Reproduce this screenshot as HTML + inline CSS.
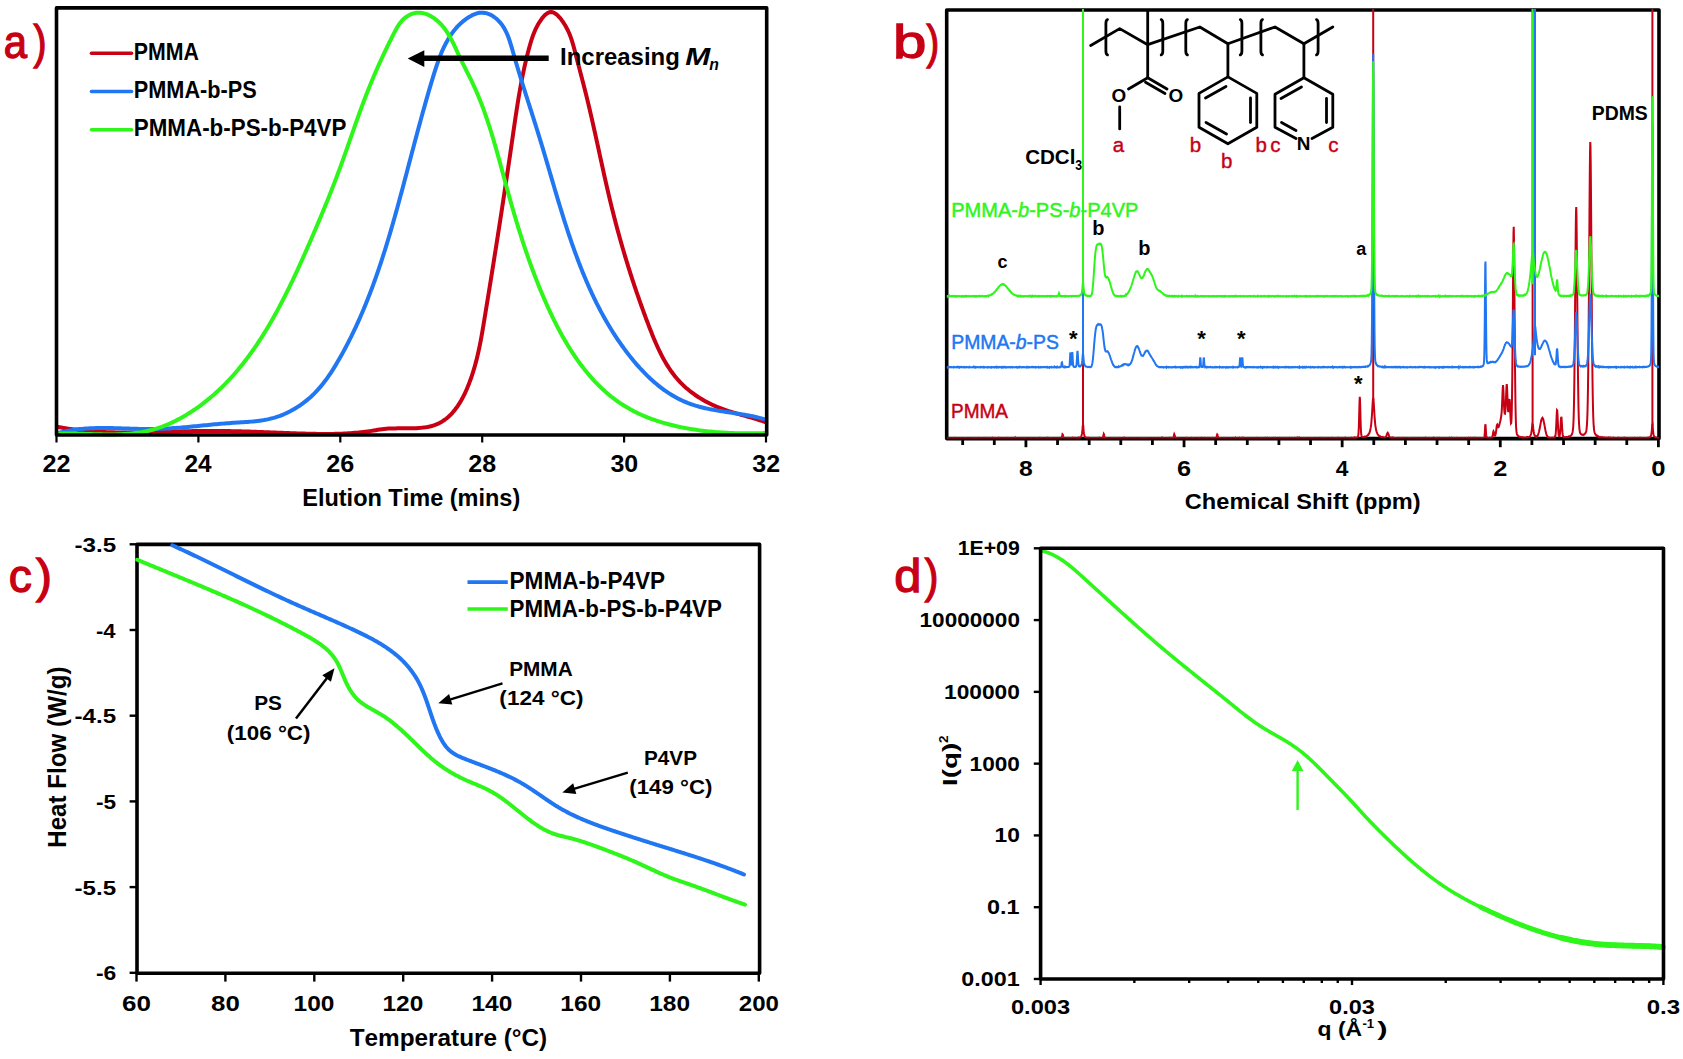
<!DOCTYPE html>
<html><head><meta charset="utf-8"><style>html,body{margin:0;padding:0;background:#fff;overflow:hidden}svg{display:block}text{font-kerning:none}</style></head>
<body><svg width="1683" height="1059" viewBox="0 0 1683 1059" font-family='"Liberation Sans", sans-serif'>
<rect width="1683" height="1059" fill="#fff"/>
<defs>
<clipPath id="cb"><rect x="946.7" y="10" width="712.3" height="428.5"/></clipPath>
</defs>
<path d="M57.02,426.78 L59.17,427.19 L61.33,427.57 L63.49,427.95 L65.65,428.30 L67.82,428.64 L69.98,428.95 L72.15,429.26 L74.32,429.54 L76.49,429.81 L78.66,430.07 L80.83,430.31 L83.01,430.53 L85.19,430.74 L87.36,430.94 L89.54,431.12 L91.72,431.29 L93.90,431.45 L96.09,431.60 L98.27,431.73 L100.46,431.85 L102.64,431.96 L104.83,432.06 L107.02,432.14 L109.20,432.22 L111.39,432.29 L113.58,432.34 L115.78,432.39 L117.97,432.43 L120.16,432.46 L122.35,432.48 L124.55,432.50 L126.74,432.50 L128.94,432.50 L131.13,432.50 L133.33,432.48 L135.52,432.47 L137.72,432.44 L139.92,432.41 L142.11,432.38 L144.31,432.34 L146.51,432.29 L148.70,432.25 L150.90,432.20 L153.10,432.14 L155.30,432.09 L157.49,432.03 L159.69,431.97 L161.89,431.91 L164.08,431.84 L166.28,431.78 L168.48,431.72 L170.67,431.65 L172.87,431.59 L175.06,431.52 L177.25,431.46 L179.45,431.40 L181.64,431.34 L183.83,431.28 L186.02,431.23 L188.21,431.17 L190.40,431.13 L192.59,431.08 L194.78,431.04 L196.97,431.00 L199.15,430.97 L201.34,430.94 L203.52,430.92 L205.71,430.90 L207.89,430.89 L210.07,430.89 L212.25,430.89 L214.43,430.90 L216.60,430.91 L218.78,430.93 L220.96,430.95 L223.13,430.98 L225.31,431.01 L227.48,431.05 L229.66,431.09 L231.83,431.13 L234.01,431.18 L236.18,431.23 L238.36,431.29 L240.54,431.35 L242.71,431.41 L244.89,431.47 L247.07,431.54 L249.24,431.61 L251.42,431.68 L253.60,431.76 L255.78,431.84 L257.96,431.91 L260.15,431.99 L262.33,432.08 L264.52,432.16 L266.70,432.24 L268.89,432.33 L271.08,432.41 L273.27,432.50 L275.47,432.58 L277.66,432.67 L279.86,432.75 L282.06,432.84 L284.27,432.92 L286.47,433.00 L288.68,433.09 L290.89,433.17 L293.10,433.25 L295.32,433.33 L297.53,433.40 L299.75,433.48 L301.97,433.55 L304.20,433.61 L306.42,433.68 L308.64,433.73 L310.87,433.79 L313.09,433.83 L315.31,433.87 L317.53,433.90 L319.75,433.93 L321.97,433.95 L324.18,433.95 L326.40,433.95 L328.61,433.94 L330.81,433.92 L333.02,433.89 L335.22,433.85 L337.41,433.79 L339.60,433.73 L341.78,433.65 L343.96,433.55 L346.13,433.44 L348.30,433.32 L350.46,433.19 L352.61,433.03 L354.76,432.86 L356.89,432.68 L359.02,432.48 L361.14,432.26 L363.25,432.02 L365.36,431.76 L367.45,431.48 L369.53,431.18 L371.60,430.87 L373.66,430.53 L375.72,430.18 L377.79,429.84 L379.87,429.52 L381.97,429.22 L384.11,428.97 L386.29,428.77 L388.50,428.62 L390.75,428.51 L393.02,428.43 L395.32,428.39 L397.64,428.37 L399.98,428.36 L402.32,428.36 L404.67,428.36 L407.03,428.36 L409.38,428.34 L411.72,428.31 L414.06,428.24 L416.37,428.15 L418.67,428.01 L420.94,427.83 L423.18,427.60 L425.39,427.30 L427.56,426.94 L429.69,426.50 L431.77,425.98 L433.80,425.37 L435.77,424.67 L437.68,423.87 L439.54,422.97 L441.34,421.98 L443.08,420.91 L444.76,419.74 L446.40,418.50 L447.98,417.17 L449.51,415.77 L450.99,414.30 L452.41,412.77 L453.80,411.17 L455.13,409.51 L456.42,407.80 L457.67,406.04 L458.87,404.22 L460.03,402.37 L461.15,400.47 L462.23,398.53 L463.27,396.56 L464.27,394.57 L465.24,392.54 L466.18,390.50 L467.08,388.43 L467.94,386.35 L468.78,384.26 L469.58,382.16 L470.36,380.06 L471.11,377.96 L471.83,375.85 L472.53,373.74 L473.20,371.63 L473.84,369.51 L474.47,367.39 L475.07,365.27 L475.65,363.15 L476.21,361.02 L476.75,358.89 L477.27,356.76 L477.77,354.62 L478.26,352.49 L478.73,350.35 L479.19,348.21 L479.64,346.07 L480.07,343.93 L480.49,341.79 L480.90,339.64 L481.29,337.49 L481.68,335.35 L482.07,333.20 L482.44,331.05 L482.81,328.90 L483.18,326.74 L483.54,324.59 L483.89,322.44 L484.25,320.29 L484.60,318.13 L484.95,315.98 L485.31,313.82 L485.66,311.67 L486.01,309.51 L486.36,307.36 L486.72,305.20 L487.07,303.05 L487.42,300.89 L487.77,298.73 L488.12,296.58 L488.47,294.42 L488.82,292.26 L489.17,290.11 L489.51,287.95 L489.86,285.79 L490.21,283.63 L490.56,281.47 L490.90,279.32 L491.25,277.16 L491.60,275.00 L491.94,272.84 L492.29,270.68 L492.63,268.52 L492.98,266.36 L493.32,264.20 L493.67,262.04 L494.01,259.88 L494.35,257.71 L494.69,255.55 L495.04,253.39 L495.38,251.23 L495.72,249.07 L496.06,246.91 L496.40,244.74 L496.74,242.58 L497.08,240.42 L497.42,238.25 L497.75,236.09 L498.09,233.93 L498.43,231.76 L498.77,229.60 L499.10,227.44 L499.44,225.27 L499.77,223.11 L500.11,220.94 L500.44,218.78 L500.78,216.61 L501.11,214.45 L501.44,212.28 L501.78,210.12 L502.11,207.95 L502.44,205.79 L502.77,203.62 L503.10,201.45 L503.43,199.29 L503.76,197.12 L504.09,194.95 L504.42,192.79 L504.74,190.62 L505.07,188.45 L505.40,186.29 L505.72,184.12 L506.05,181.95 L506.37,179.78 L506.70,177.62 L507.02,175.45 L507.34,173.28 L507.67,171.11 L507.99,168.94 L508.31,166.78 L508.63,164.61 L508.95,162.44 L509.27,160.27 L509.59,158.10 L509.91,155.93 L510.23,153.76 L510.54,151.60 L510.86,149.43 L511.18,147.26 L511.49,145.09 L511.81,142.92 L512.12,140.75 L512.44,138.58 L512.75,136.41 L513.06,134.24 L513.37,132.07 L513.69,129.90 L514.00,127.73 L514.32,125.56 L514.63,123.40 L514.95,121.23 L515.27,119.06 L515.59,116.89 L515.92,114.73 L516.25,112.56 L516.58,110.40 L516.91,108.24 L517.25,106.07 L517.59,103.91 L517.94,101.75 L518.29,99.60 L518.65,97.44 L519.01,95.28 L519.38,93.13 L519.76,90.98 L520.14,88.83 L520.53,86.68 L520.92,84.53 L521.32,82.38 L521.73,80.24 L522.15,78.10 L522.58,75.96 L523.01,73.82 L523.46,71.69 L523.91,69.56 L524.38,67.43 L524.85,65.30 L525.33,63.18 L525.83,61.06 L526.33,58.94 L526.85,56.82 L527.38,54.71 L527.92,52.60 L528.47,50.49 L529.04,48.39 L529.62,46.29 L530.21,44.19 L530.82,42.10 L531.47,40.01 L532.15,37.93 L532.87,35.85 L533.65,33.78 L534.49,31.71 L535.39,29.66 L536.37,27.61 L537.44,25.56 L538.60,23.53 L539.85,21.51 L541.22,19.51 L542.68,17.58 L544.22,15.81 L545.84,14.29 L547.52,13.09 L549.24,12.30 L551.00,12.01 L552.77,12.27 L554.55,13.04 L556.31,14.24 L558.03,15.78 L559.70,17.59 L561.28,19.57 L562.78,21.65 L564.16,23.75 L565.42,25.83 L566.58,27.91 L567.64,29.97 L568.60,32.02 L569.49,34.07 L570.30,36.11 L571.04,38.14 L571.73,40.17 L572.37,42.20 L572.98,44.23 L573.55,46.26 L574.09,48.30 L574.63,50.34 L575.16,52.39 L575.69,54.44 L576.22,56.51 L576.76,58.58 L577.31,60.66 L577.85,62.74 L578.40,64.84 L578.96,66.94 L579.51,69.04 L580.07,71.15 L580.62,73.27 L581.18,75.39 L581.73,77.51 L582.29,79.64 L582.84,81.77 L583.39,83.90 L583.94,86.04 L584.48,88.17 L585.02,90.31 L585.56,92.45 L586.09,94.59 L586.62,96.73 L587.14,98.87 L587.66,101.01 L588.17,103.15 L588.68,105.29 L589.19,107.44 L589.69,109.58 L590.19,111.72 L590.69,113.86 L591.18,116.00 L591.67,118.15 L592.16,120.29 L592.64,122.43 L593.13,124.58 L593.61,126.72 L594.08,128.86 L594.56,131.01 L595.03,133.15 L595.51,135.29 L595.98,137.43 L596.45,139.58 L596.92,141.72 L597.39,143.86 L597.85,146.00 L598.32,148.14 L598.79,150.29 L599.25,152.43 L599.72,154.57 L600.19,156.71 L600.65,158.85 L601.12,160.99 L601.59,163.12 L602.06,165.26 L602.53,167.40 L603.00,169.54 L603.47,171.67 L603.94,173.81 L604.42,175.94 L604.90,178.08 L605.38,180.21 L605.86,182.34 L606.34,184.48 L606.83,186.61 L607.32,188.74 L607.81,190.87 L608.31,193.00 L608.80,195.12 L609.31,197.25 L609.81,199.38 L610.32,201.50 L610.83,203.62 L611.35,205.75 L611.87,207.87 L612.40,209.99 L612.93,212.10 L613.46,214.22 L614.00,216.34 L614.55,218.45 L615.10,220.57 L615.65,222.68 L616.21,224.79 L616.77,226.90 L617.33,229.01 L617.90,231.12 L618.48,233.23 L619.06,235.33 L619.64,237.44 L620.23,239.54 L620.83,241.65 L621.43,243.75 L622.03,245.85 L622.64,247.95 L623.25,250.05 L623.86,252.14 L624.49,254.24 L625.11,256.33 L625.74,258.43 L626.38,260.52 L627.02,262.61 L627.66,264.70 L628.31,266.79 L628.97,268.88 L629.63,270.97 L630.29,273.06 L630.96,275.14 L631.63,277.22 L632.31,279.31 L632.99,281.39 L633.68,283.47 L634.37,285.55 L635.07,287.63 L635.77,289.71 L636.48,291.78 L637.19,293.86 L637.91,295.94 L638.63,298.01 L639.35,300.08 L640.08,302.15 L640.82,304.22 L641.56,306.29 L642.31,308.36 L643.06,310.43 L643.81,312.50 L644.57,314.56 L645.34,316.63 L646.11,318.69 L646.88,320.75 L647.66,322.81 L648.45,324.88 L649.24,326.93 L650.04,328.99 L650.84,331.05 L651.65,333.10 L652.47,335.15 L653.30,337.19 L654.15,339.22 L655.01,341.25 L655.88,343.27 L656.77,345.27 L657.67,347.27 L658.60,349.26 L659.54,351.23 L660.51,353.19 L661.50,355.13 L662.51,357.06 L663.54,358.97 L664.60,360.86 L665.69,362.74 L666.81,364.59 L667.96,366.42 L669.14,368.24 L670.35,370.02 L671.59,371.79 L672.87,373.53 L674.19,375.24 L675.54,376.93 L676.93,378.59 L678.36,380.22 L679.84,381.82 L681.35,383.38 L682.91,384.92 L684.51,386.43 L686.15,387.90 L687.83,389.33 L689.54,390.74 L691.29,392.11 L693.07,393.44 L694.88,394.74 L696.72,396.00 L698.58,397.23 L700.47,398.42 L702.39,399.58 L704.32,400.69 L706.28,401.77 L708.25,402.81 L710.23,403.81 L712.23,404.77 L714.25,405.69 L716.27,406.57 L718.30,407.41 L720.34,408.21 L722.38,408.97 L724.43,409.70 L726.48,410.40 L728.54,411.07 L730.60,411.72 L732.67,412.34 L734.74,412.95 L736.82,413.55 L738.90,414.13 L740.98,414.72 L743.07,415.29 L745.16,415.87 L747.25,416.46 L749.34,417.05 L751.44,417.65 L753.53,418.27 L755.63,418.91 L757.73,419.56 L759.83,420.25 L761.92,420.96 L764.02,421.71 L766.12,422.49" fill="none" stroke="#C80014" stroke-width="4.0" stroke-linejoin="round" stroke-linecap="round"/>
<path d="M57.43,433.30 L59.44,432.75 L61.45,432.24 L63.46,431.76 L65.48,431.32 L67.50,430.91 L69.51,430.54 L71.54,430.19 L73.56,429.88 L75.59,429.59 L77.61,429.33 L79.64,429.10 L81.67,428.89 L83.71,428.71 L85.74,428.55 L87.78,428.42 L89.82,428.30 L91.85,428.20 L93.90,428.13 L95.94,428.07 L97.98,428.02 L100.02,428.00 L102.07,427.98 L104.11,427.98 L106.16,428.00 L108.21,428.02 L110.26,428.05 L112.31,428.09 L114.35,428.14 L116.40,428.20 L118.45,428.26 L120.50,428.32 L122.56,428.39 L124.61,428.46 L126.66,428.53 L128.71,428.60 L130.76,428.67 L132.81,428.73 L134.86,428.80 L136.91,428.86 L138.96,428.91 L141.01,428.95 L143.06,428.99 L145.11,429.02 L147.15,429.03 L149.20,429.04 L151.25,429.03 L153.29,429.01 L155.34,428.98 L157.38,428.93 L159.42,428.87 L161.46,428.79 L163.50,428.70 L165.54,428.61 L167.58,428.50 L169.62,428.38 L171.66,428.25 L173.70,428.11 L175.73,427.96 L177.77,427.80 L179.81,427.64 L181.85,427.47 L183.88,427.30 L185.92,427.12 L187.96,426.93 L189.99,426.74 L192.03,426.55 L194.07,426.35 L196.11,426.15 L198.15,425.95 L200.19,425.75 L202.23,425.55 L204.27,425.35 L206.31,425.15 L208.35,424.95 L210.39,424.75 L212.43,424.55 L214.48,424.36 L216.52,424.17 L218.57,423.98 L220.62,423.80 L222.67,423.63 L224.72,423.46 L226.77,423.30 L228.82,423.14 L230.88,423.00 L232.93,422.86 L234.99,422.73 L237.05,422.60 L239.11,422.48 L241.16,422.36 L243.22,422.23 L245.28,422.10 L247.33,421.95 L249.38,421.80 L251.42,421.62 L253.47,421.44 L255.50,421.22 L257.53,420.99 L259.56,420.73 L261.58,420.44 L263.59,420.11 L265.59,419.75 L267.59,419.36 L269.57,418.92 L271.55,418.43 L273.51,417.90 L275.46,417.32 L277.41,416.69 L279.33,416.02 L281.25,415.30 L283.15,414.54 L285.03,413.73 L286.89,412.88 L288.74,411.98 L290.57,411.05 L292.38,410.07 L294.17,409.06 L295.94,408.00 L297.68,406.91 L299.41,405.78 L301.10,404.62 L302.78,403.42 L304.42,402.19 L306.04,400.92 L307.63,399.62 L309.19,398.29 L310.73,396.93 L312.23,395.54 L313.70,394.12 L315.14,392.67 L316.54,391.19 L317.92,389.69 L319.27,388.17 L320.60,386.62 L321.90,385.05 L323.17,383.46 L324.42,381.84 L325.64,380.21 L326.85,378.56 L328.03,376.90 L329.20,375.22 L330.34,373.52 L331.47,371.81 L332.58,370.08 L333.67,368.35 L334.75,366.60 L335.81,364.85 L336.86,363.09 L337.91,361.32 L338.93,359.54 L339.95,357.76 L340.96,355.98 L341.96,354.18 L342.96,352.39 L343.94,350.59 L344.91,348.78 L345.87,346.97 L346.82,345.16 L347.77,343.34 L348.70,341.52 L349.63,339.69 L350.55,337.86 L351.46,336.02 L352.36,334.18 L353.25,332.34 L354.14,330.49 L355.01,328.64 L355.88,326.78 L356.74,324.92 L357.59,323.06 L358.43,321.19 L359.27,319.32 L360.10,317.44 L360.92,315.57 L361.73,313.68 L362.53,311.80 L363.33,309.91 L364.12,308.02 L364.90,306.12 L365.68,304.23 L366.45,302.32 L367.21,300.42 L367.97,298.51 L368.72,296.60 L369.46,294.69 L370.20,292.77 L370.93,290.85 L371.65,288.93 L372.37,287.01 L373.08,285.08 L373.78,283.15 L374.48,281.22 L375.17,279.29 L375.86,277.35 L376.54,275.42 L377.22,273.48 L377.89,271.53 L378.55,269.59 L379.21,267.64 L379.87,265.70 L380.52,263.75 L381.16,261.79 L381.80,259.84 L382.44,257.89 L383.07,255.93 L383.69,253.97 L384.32,252.01 L384.93,250.05 L385.55,248.09 L386.15,246.13 L386.76,244.16 L387.36,242.20 L387.95,240.23 L388.55,238.26 L389.14,236.29 L389.72,234.32 L390.30,232.35 L390.88,230.38 L391.45,228.41 L392.03,226.44 L392.59,224.46 L393.16,222.49 L393.72,220.52 L394.28,218.54 L394.84,216.57 L395.39,214.59 L395.94,212.62 L396.49,210.64 L397.04,208.67 L397.58,206.69 L398.12,204.72 L398.66,202.75 L399.20,200.77 L399.73,198.80 L400.27,196.82 L400.80,194.85 L401.33,192.88 L401.86,190.90 L402.38,188.93 L402.91,186.96 L403.43,184.99 L403.96,183.02 L404.48,181.05 L405.00,179.08 L405.52,177.12 L406.04,175.15 L406.56,173.19 L407.08,171.22 L407.59,169.26 L408.11,167.30 L408.63,165.33 L409.14,163.37 L409.66,161.41 L410.18,159.45 L410.69,157.49 L411.21,155.53 L411.73,153.57 L412.24,151.61 L412.76,149.65 L413.28,147.69 L413.80,145.73 L414.32,143.77 L414.84,141.81 L415.36,139.85 L415.89,137.88 L416.41,135.92 L416.94,133.96 L417.46,131.99 L417.99,130.03 L418.52,128.06 L419.06,126.10 L419.59,124.13 L420.13,122.16 L420.66,120.19 L421.20,118.22 L421.75,116.24 L422.29,114.27 L422.84,112.29 L423.39,110.32 L423.94,108.34 L424.50,106.36 L425.06,104.37 L425.62,102.39 L426.18,100.40 L426.75,98.41 L427.32,96.42 L427.89,94.43 L428.47,92.43 L429.05,90.43 L429.64,88.43 L430.23,86.43 L430.82,84.42 L431.42,82.41 L432.02,80.40 L432.62,78.39 L433.23,76.37 L433.85,74.35 L434.48,72.33 L435.11,70.32 L435.76,68.31 L436.42,66.30 L437.09,64.31 L437.78,62.32 L438.49,60.34 L439.21,58.37 L439.96,56.41 L440.73,54.47 L441.52,52.55 L442.34,50.64 L443.19,48.76 L444.06,46.89 L444.97,45.05 L445.91,43.23 L446.88,41.43 L447.88,39.67 L448.93,37.93 L450.01,36.22 L451.13,34.54 L452.29,32.90 L453.50,31.29 L454.75,29.72 L456.04,28.18 L457.39,26.69 L458.78,25.24 L460.22,23.82 L461.72,22.46 L463.27,21.13 L464.88,19.86 L466.54,18.63 L468.26,17.47 L470.03,16.38 L471.84,15.39 L473.68,14.52 L475.55,13.79 L477.44,13.21 L479.35,12.82 L481.26,12.63 L483.17,12.66 L485.07,12.91 L486.96,13.37 L488.82,14.02 L490.64,14.85 L492.41,15.84 L494.13,16.97 L495.78,18.22 L497.35,19.59 L498.83,21.06 L500.22,22.60 L501.51,24.21 L502.70,25.89 L503.81,27.62 L504.84,29.41 L505.80,31.25 L506.69,33.13 L507.52,35.05 L508.30,37.00 L509.03,38.99 L509.71,41.00 L510.37,43.03 L511.00,45.07 L511.60,47.12 L512.20,49.18 L512.78,51.24 L513.36,53.30 L513.95,55.34 L514.53,57.38 L515.12,59.42 L515.72,61.44 L516.31,63.46 L516.91,65.47 L517.51,67.48 L518.11,69.48 L518.71,71.47 L519.31,73.46 L519.92,75.44 L520.53,77.42 L521.13,79.39 L521.74,81.36 L522.36,83.32 L522.97,85.28 L523.58,87.24 L524.19,89.19 L524.81,91.14 L525.42,93.09 L526.04,95.03 L526.65,96.97 L527.27,98.90 L527.89,100.84 L528.50,102.77 L529.12,104.70 L529.73,106.63 L530.35,108.56 L530.96,110.48 L531.58,112.41 L532.19,114.34 L532.80,116.26 L533.42,118.19 L534.03,120.11 L534.64,122.04 L535.24,123.96 L535.85,125.89 L536.46,127.82 L537.06,129.74 L537.66,131.67 L538.26,133.61 L538.86,135.54 L539.46,137.48 L540.05,139.42 L540.65,141.36 L541.24,143.30 L541.82,145.25 L542.41,147.20 L543.00,149.15 L543.58,151.10 L544.16,153.06 L544.74,155.01 L545.32,156.97 L545.90,158.93 L546.48,160.90 L547.06,162.86 L547.64,164.82 L548.21,166.79 L548.79,168.76 L549.37,170.73 L549.94,172.70 L550.52,174.67 L551.10,176.64 L551.68,178.61 L552.25,180.59 L552.83,182.56 L553.41,184.54 L554.00,186.51 L554.58,188.49 L555.16,190.46 L555.75,192.44 L556.33,194.41 L556.92,196.39 L557.51,198.36 L558.11,200.34 L558.70,202.32 L559.30,204.29 L559.90,206.26 L560.50,208.24 L561.11,210.21 L561.72,212.18 L562.33,214.15 L562.94,216.12 L563.56,218.09 L564.18,220.06 L564.80,222.03 L565.43,223.99 L566.07,225.96 L566.70,227.92 L567.34,229.88 L567.99,231.84 L568.64,233.80 L569.29,235.75 L569.95,237.71 L570.61,239.66 L571.28,241.61 L571.95,243.55 L572.63,245.50 L573.32,247.44 L574.01,249.38 L574.70,251.31 L575.40,253.25 L576.11,255.18 L576.83,257.11 L577.55,259.03 L578.27,260.95 L579.00,262.87 L579.74,264.79 L580.49,266.70 L581.24,268.61 L582.00,270.51 L582.77,272.42 L583.55,274.31 L584.33,276.21 L585.12,278.10 L585.92,279.98 L586.72,281.86 L587.54,283.74 L588.36,285.61 L589.19,287.48 L590.03,289.35 L590.88,291.20 L591.73,293.06 L592.60,294.91 L593.47,296.75 L594.36,298.59 L595.25,300.43 L596.15,302.26 L597.07,304.08 L597.99,305.90 L598.92,307.71 L599.86,309.52 L600.81,311.32 L601.78,313.12 L602.75,314.91 L603.73,316.69 L604.73,318.47 L605.73,320.25 L606.75,322.01 L607.78,323.77 L608.82,325.53 L609.87,327.27 L610.93,329.01 L612.00,330.75 L613.09,332.47 L614.18,334.19 L615.29,335.91 L616.42,337.61 L617.55,339.31 L618.70,341.00 L619.86,342.69 L621.03,344.36 L622.22,346.03 L623.42,347.70 L624.63,349.35 L625.85,351.00 L627.09,352.63 L628.35,354.26 L629.61,355.89 L630.89,357.50 L632.19,359.10 L633.50,360.69 L634.82,362.27 L636.16,363.84 L637.51,365.40 L638.88,366.94 L640.26,368.47 L641.66,369.98 L643.07,371.47 L644.50,372.95 L645.95,374.41 L647.41,375.85 L648.89,377.27 L650.38,378.68 L651.89,380.06 L653.41,381.42 L654.96,382.76 L656.52,384.07 L658.09,385.36 L659.68,386.63 L661.29,387.87 L662.92,389.08 L664.57,390.27 L666.23,391.43 L667.91,392.56 L669.61,393.66 L671.33,394.73 L673.06,395.77 L674.82,396.78 L676.59,397.76 L678.38,398.70 L680.19,399.61 L682.02,400.48 L683.87,401.32 L685.73,402.12 L687.62,402.89 L689.53,403.61 L691.45,404.30 L693.40,404.96 L695.36,405.57 L697.34,406.16 L699.33,406.72 L701.34,407.24 L703.36,407.74 L705.39,408.21 L707.43,408.66 L709.49,409.09 L711.54,409.50 L713.61,409.89 L715.68,410.26 L717.76,410.62 L719.84,410.97 L721.93,411.30 L724.01,411.63 L726.10,411.95 L728.18,412.27 L730.26,412.58 L732.34,412.89 L734.41,413.20 L736.48,413.51 L738.54,413.83 L740.60,414.15 L742.64,414.48 L744.68,414.82 L746.70,415.17 L748.72,415.54 L750.71,415.92 L752.70,416.31 L754.67,416.73 L756.62,417.16 L758.55,417.62 L760.46,418.10 L762.36,418.61 L764.23,419.14 L766.08,419.71" fill="none" stroke="#2176F2" stroke-width="4.0" stroke-linejoin="round" stroke-linecap="round"/>
<path d="M57.00,433.68 L58.99,433.62 L60.98,433.57 L62.98,433.54 L64.98,433.53 L66.98,433.53 L68.99,433.54 L71.01,433.56 L73.02,433.59 L75.04,433.62 L77.06,433.67 L79.08,433.72 L81.11,433.78 L83.13,433.84 L85.16,433.90 L87.19,433.97 L89.22,434.03 L91.26,434.10 L93.29,434.16 L95.32,434.22 L97.35,434.28 L99.39,434.33 L101.42,434.37 L103.45,434.41 L105.49,434.44 L107.52,434.46 L109.55,434.46 L111.57,434.46 L113.60,434.44 L115.62,434.41 L117.65,434.36 L119.67,434.29 L121.68,434.21 L123.70,434.11 L125.71,433.99 L127.71,433.84 L129.72,433.68 L131.72,433.49 L133.71,433.27 L135.70,433.03 L137.69,432.76 L139.67,432.47 L141.65,432.14 L143.62,431.79 L145.58,431.40 L147.54,430.98 L149.49,430.52 L151.44,430.03 L153.38,429.51 L155.31,428.94 L157.24,428.34 L159.16,427.71 L161.07,427.04 L162.97,426.34 L164.86,425.61 L166.74,424.84 L168.62,424.05 L170.48,423.23 L172.34,422.37 L174.18,421.49 L176.01,420.59 L177.83,419.65 L179.64,418.70 L181.43,417.71 L183.22,416.71 L184.99,415.68 L186.74,414.64 L188.48,413.57 L190.21,412.48 L191.92,411.38 L193.62,410.25 L195.31,409.11 L196.97,407.96 L198.63,406.79 L200.26,405.60 L201.89,404.39 L203.50,403.17 L205.09,401.93 L206.67,400.68 L208.24,399.42 L209.79,398.13 L211.33,396.84 L212.85,395.53 L214.36,394.20 L215.86,392.86 L217.34,391.51 L218.81,390.14 L220.27,388.76 L221.71,387.37 L223.14,385.96 L224.56,384.54 L225.97,383.11 L227.36,381.66 L228.74,380.21 L230.11,378.74 L231.46,377.26 L232.81,375.76 L234.14,374.26 L235.46,372.75 L236.77,371.22 L238.07,369.69 L239.35,368.14 L240.62,366.58 L241.89,365.02 L243.14,363.44 L244.38,361.85 L245.61,360.26 L246.83,358.65 L248.04,357.04 L249.24,355.42 L250.42,353.79 L251.60,352.15 L252.77,350.50 L253.93,348.85 L255.07,347.18 L256.21,345.51 L257.34,343.84 L258.46,342.15 L259.57,340.46 L260.67,338.77 L261.76,337.06 L262.84,335.35 L263.92,333.64 L264.98,331.91 L266.04,330.19 L267.09,328.46 L268.13,326.72 L269.16,324.98 L270.18,323.23 L271.20,321.48 L272.20,319.72 L273.20,317.96 L274.20,316.20 L275.18,314.43 L276.16,312.66 L277.13,310.89 L278.09,309.11 L279.05,307.33 L280.00,305.54 L280.94,303.76 L281.88,301.96 L282.81,300.17 L283.73,298.37 L284.65,296.57 L285.56,294.77 L286.47,292.96 L287.37,291.15 L288.26,289.34 L289.16,287.53 L290.04,285.71 L290.92,283.89 L291.80,282.07 L292.67,280.25 L293.53,278.42 L294.39,276.60 L295.25,274.77 L296.10,272.94 L296.95,271.10 L297.80,269.27 L298.64,267.43 L299.48,265.60 L300.31,263.76 L301.15,261.92 L301.97,260.08 L302.80,258.23 L303.62,256.39 L304.44,254.54 L305.26,252.70 L306.07,250.85 L306.88,249.01 L307.69,247.16 L308.50,245.31 L309.31,243.46 L310.11,241.61 L310.92,239.76 L311.72,237.91 L312.52,236.06 L313.32,234.21 L314.11,232.36 L314.91,230.51 L315.70,228.66 L316.49,226.80 L317.28,224.95 L318.06,223.10 L318.85,221.24 L319.63,219.38 L320.41,217.53 L321.18,215.67 L321.96,213.81 L322.73,211.95 L323.50,210.09 L324.27,208.23 L325.03,206.36 L325.79,204.50 L326.55,202.63 L327.31,200.77 L328.06,198.90 L328.81,197.03 L329.56,195.16 L330.31,193.28 L331.05,191.41 L331.79,189.53 L332.52,187.65 L333.25,185.77 L333.98,183.89 L334.71,182.01 L335.43,180.12 L336.15,178.24 L336.87,176.35 L337.58,174.46 L338.29,172.56 L339.00,170.67 L339.70,168.77 L340.40,166.87 L341.09,164.97 L341.78,163.07 L342.47,161.16 L343.16,159.26 L343.84,157.35 L344.52,155.44 L345.20,153.53 L345.87,151.62 L346.55,149.70 L347.22,147.79 L347.89,145.87 L348.56,143.96 L349.23,142.05 L349.90,140.13 L350.57,138.22 L351.24,136.30 L351.90,134.39 L352.57,132.47 L353.24,130.56 L353.91,128.65 L354.58,126.74 L355.25,124.83 L355.93,122.92 L356.60,121.02 L357.28,119.11 L357.96,117.21 L358.64,115.31 L359.32,113.41 L360.01,111.51 L360.70,109.62 L361.40,107.73 L362.09,105.84 L362.79,103.96 L363.50,102.08 L364.21,100.20 L364.92,98.32 L365.64,96.45 L366.36,94.59 L367.09,92.72 L367.83,90.86 L368.57,89.01 L369.31,87.16 L370.06,85.31 L370.82,83.46 L371.58,81.61 L372.35,79.77 L373.12,77.93 L373.90,76.09 L374.68,74.25 L375.48,72.42 L376.27,70.58 L377.08,68.75 L377.89,66.91 L378.71,65.08 L379.53,63.25 L380.37,61.41 L381.20,59.58 L382.05,57.74 L382.90,55.90 L383.76,54.06 L384.63,52.22 L385.51,50.38 L386.39,48.54 L387.28,46.69 L388.18,44.84 L389.08,42.99 L390.00,41.14 L390.92,39.28 L391.85,37.42 L392.79,35.55 L393.74,33.69 L394.70,31.82 L395.68,29.97 L396.70,28.15 L397.77,26.37 L398.88,24.64 L400.07,22.98 L401.33,21.41 L402.67,19.93 L404.12,18.56 L405.65,17.31 L407.28,16.19 L408.97,15.20 L410.73,14.37 L412.55,13.68 L414.40,13.17 L416.29,12.83 L418.20,12.68 L420.12,12.71 L422.04,12.94 L423.96,13.35 L425.86,13.93 L427.74,14.65 L429.59,15.52 L431.41,16.52 L433.18,17.63 L434.90,18.84 L436.56,20.14 L438.15,21.51 L439.67,22.95 L441.12,24.44 L442.49,25.99 L443.80,27.58 L445.04,29.22 L446.23,30.90 L447.37,32.61 L448.46,34.36 L449.51,36.14 L450.52,37.94 L451.49,39.77 L452.44,41.61 L453.36,43.47 L454.26,45.34 L455.14,47.21 L456.01,49.09 L456.88,50.97 L457.74,52.84 L458.60,54.70 L459.48,56.56 L460.36,58.40 L461.24,60.23 L462.13,62.05 L463.03,63.85 L463.92,65.66 L464.82,67.45 L465.72,69.24 L466.62,71.03 L467.52,72.81 L468.41,74.59 L469.30,76.38 L470.18,78.16 L471.06,79.95 L471.92,81.74 L472.78,83.53 L473.63,85.33 L474.46,87.14 L475.28,88.96 L476.09,90.78 L476.88,92.61 L477.67,94.45 L478.44,96.29 L479.20,98.15 L479.95,100.01 L480.69,101.87 L481.42,103.74 L482.14,105.62 L482.85,107.51 L483.54,109.40 L484.23,111.29 L484.91,113.19 L485.58,115.10 L486.25,117.01 L486.90,118.92 L487.55,120.84 L488.19,122.77 L488.82,124.70 L489.44,126.63 L490.06,128.56 L490.67,130.50 L491.27,132.44 L491.87,134.39 L492.46,136.34 L493.04,138.29 L493.62,140.24 L494.20,142.20 L494.77,144.15 L495.34,146.11 L495.90,148.07 L496.46,150.04 L497.01,152.00 L497.56,153.97 L498.11,155.93 L498.65,157.90 L499.19,159.86 L499.73,161.83 L500.27,163.80 L500.81,165.76 L501.34,167.73 L501.88,169.70 L502.41,171.66 L502.94,173.62 L503.47,175.59 L504.00,177.55 L504.53,179.51 L505.07,181.47 L505.60,183.42 L506.13,185.37 L506.67,187.33 L507.20,189.27 L507.74,191.22 L508.28,193.16 L508.82,195.11 L509.36,197.05 L509.91,198.98 L510.45,200.92 L511.00,202.85 L511.55,204.78 L512.11,206.71 L512.66,208.64 L513.22,210.56 L513.78,212.49 L514.34,214.41 L514.91,216.33 L515.48,218.24 L516.05,220.16 L516.63,222.07 L517.21,223.99 L517.79,225.90 L518.38,227.81 L518.97,229.71 L519.57,231.62 L520.17,233.52 L520.77,235.43 L521.38,237.33 L521.99,239.23 L522.60,241.13 L523.22,243.02 L523.85,244.92 L524.48,246.81 L525.11,248.71 L525.75,250.60 L526.40,252.49 L527.05,254.38 L527.70,256.27 L528.36,258.16 L529.03,260.05 L529.70,261.93 L530.38,263.82 L531.06,265.70 L531.75,267.59 L532.45,269.47 L533.15,271.35 L533.86,273.23 L534.57,275.11 L535.30,276.99 L536.02,278.87 L536.76,280.75 L537.50,282.63 L538.25,284.51 L539.01,286.39 L539.77,288.26 L540.54,290.14 L541.32,292.02 L542.11,293.89 L542.90,295.77 L543.70,297.64 L544.51,299.52 L545.33,301.39 L546.16,303.27 L546.99,305.14 L547.84,307.01 L548.69,308.88 L549.55,310.74 L550.42,312.61 L551.30,314.47 L552.19,316.32 L553.08,318.18 L553.99,320.02 L554.91,321.87 L555.84,323.71 L556.77,325.54 L557.72,327.37 L558.68,329.19 L559.65,331.01 L560.62,332.81 L561.61,334.62 L562.61,336.41 L563.63,338.20 L564.65,339.98 L565.68,341.75 L566.73,343.51 L567.79,345.26 L568.85,347.01 L569.94,348.74 L571.03,350.46 L572.13,352.17 L573.25,353.88 L574.38,355.57 L575.53,357.25 L576.68,358.91 L577.85,360.57 L579.03,362.21 L580.23,363.84 L581.44,365.46 L582.66,367.06 L583.89,368.65 L585.14,370.22 L586.41,371.78 L587.69,373.33 L588.98,374.86 L590.29,376.37 L591.61,377.87 L592.94,379.35 L594.29,380.81 L595.66,382.26 L597.04,383.69 L598.44,385.10 L599.85,386.50 L601.28,387.87 L602.72,389.23 L604.18,390.57 L605.66,391.88 L607.15,393.18 L608.66,394.46 L610.18,395.72 L611.72,396.95 L613.28,398.17 L614.86,399.36 L616.45,400.53 L618.06,401.68 L619.68,402.81 L621.33,403.91 L622.99,404.99 L624.67,406.04 L626.37,407.08 L628.08,408.08 L629.82,409.07 L631.57,410.03 L633.34,410.96 L635.12,411.87 L636.92,412.76 L638.74,413.62 L640.57,414.47 L642.42,415.29 L644.28,416.08 L646.15,416.86 L648.04,417.61 L649.94,418.34 L651.85,419.05 L653.78,419.74 L655.71,420.41 L657.66,421.06 L659.61,421.69 L661.58,422.30 L663.56,422.88 L665.54,423.45 L667.54,424.00 L669.54,424.54 L671.55,425.05 L673.57,425.54 L675.59,426.02 L677.62,426.48 L679.66,426.92 L681.70,427.34 L683.74,427.75 L685.79,428.14 L687.85,428.51 L689.90,428.87 L691.96,429.21 L694.03,429.54 L696.09,429.85 L698.16,430.14 L700.23,430.42 L702.30,430.69 L704.36,430.94 L706.43,431.18 L708.50,431.40 L710.57,431.61 L712.63,431.81 L714.69,431.99 L716.75,432.16 L718.81,432.32 L720.86,432.46 L722.91,432.60 L724.96,432.72 L727.00,432.83 L729.03,432.93 L731.06,433.02 L733.08,433.10 L735.10,433.17 L737.10,433.22 L739.10,433.27 L741.10,433.31 L743.08,433.34 L745.05,433.36 L747.02,433.37 L748.97,433.37 L750.92,433.37 L752.85,433.35 L754.77,433.33 L756.68,433.30 L758.57,433.27 L760.46,433.22 L762.33,433.17 L764.19,433.12 L766.03,433.06" fill="none" stroke="#2EF51A" stroke-width="4.0" stroke-linejoin="round" stroke-linecap="round"/>
<rect x="56.5" y="7.9" width="710.2" height="427.1" fill="none" stroke="#000" stroke-width="3.6" stroke-linejoin="round"/>
<line x1="56.50" y1="435.00" x2="56.50" y2="442.50" stroke="#000" stroke-width="2.2" stroke-linecap="butt"/>
<text x="42.52" y="472.40" font-size="23.84" font-weight="bold" textLength="28.09" lengthAdjust="spacingAndGlyphs">22</text>
<line x1="198.40" y1="435.00" x2="198.40" y2="442.50" stroke="#000" stroke-width="2.2" stroke-linecap="butt"/>
<text x="184.45" y="472.40" font-size="23.84" font-weight="bold" textLength="27.18" lengthAdjust="spacingAndGlyphs">24</text>
<line x1="340.30" y1="435.00" x2="340.30" y2="442.50" stroke="#000" stroke-width="2.2" stroke-linecap="butt"/>
<text x="326.33" y="472.40" font-size="23.84" font-weight="bold" textLength="27.98" lengthAdjust="spacingAndGlyphs">26</text>
<line x1="482.20" y1="435.00" x2="482.20" y2="442.50" stroke="#000" stroke-width="2.2" stroke-linecap="butt"/>
<text x="468.23" y="472.40" font-size="23.84" font-weight="bold" textLength="27.84" lengthAdjust="spacingAndGlyphs">28</text>
<line x1="624.10" y1="435.00" x2="624.10" y2="442.50" stroke="#000" stroke-width="2.2" stroke-linecap="butt"/>
<text x="610.43" y="472.40" font-size="23.84" font-weight="bold" textLength="27.80" lengthAdjust="spacingAndGlyphs">30</text>
<line x1="766.00" y1="435.00" x2="766.00" y2="442.50" stroke="#000" stroke-width="2.2" stroke-linecap="butt"/>
<text x="752.33" y="472.40" font-size="23.84" font-weight="bold" textLength="27.77" lengthAdjust="spacingAndGlyphs">32</text>
<text x="302.23" y="505.70" font-size="23.98" font-weight="bold" textLength="218.04" lengthAdjust="spacingAndGlyphs">Elution Time (mins)</text>
<line x1="91.50" y1="53.20" x2="131.50" y2="53.20" stroke="#C80014" stroke-width="3.6" stroke-linecap="round"/>
<line x1="91.50" y1="91.50" x2="131.50" y2="91.50" stroke="#2176F2" stroke-width="3.6" stroke-linecap="round"/>
<line x1="91.50" y1="129.70" x2="131.50" y2="129.70" stroke="#2EF51A" stroke-width="3.6" stroke-linecap="round"/>
<text x="133.87" y="59.90" font-size="24.13" font-weight="bold" textLength="65.09" lengthAdjust="spacingAndGlyphs">PMMA</text>
<text x="133.85" y="98.10" font-size="24.13" font-weight="bold" textLength="122.80" lengthAdjust="spacingAndGlyphs">PMMA-b-PS</text>
<text x="133.80" y="136.20" font-size="24.13" font-weight="bold" textLength="212.56" lengthAdjust="spacingAndGlyphs">PMMA-b-PS-b-P4VP</text>
<path d="M407.7,58.6 L424.3,50.3 L424.3,66.9 Z" fill="#000"/>
<line x1="420.00" y1="58.30" x2="548.70" y2="58.30" stroke="#000" stroke-width="5.6" stroke-linecap="butt"/>
<text x="560.10" y="64.50" font-size="23.69" font-weight="bold" textLength="119.70" lengthAdjust="spacingAndGlyphs">Increasing</text>
<text x="685.17" y="64.50" font-size="23.69" font-weight="bold" font-style="italic" textLength="25.00" lengthAdjust="spacingAndGlyphs">M</text>
<text x="709.23" y="69.90" font-size="16.50" font-weight="bold" font-style="italic" textLength="9.63" lengthAdjust="spacingAndGlyphs">n</text>
<text x="3.87" y="57.60" font-size="47.00" font-weight="normal" textLength="23.28" lengthAdjust="spacingAndGlyphs" fill="#C80014" stroke="#C80014" stroke-width="1.3">a</text>
<text x="33.52" y="57.60" font-size="47.00" font-weight="normal" textLength="13.06" lengthAdjust="spacingAndGlyphs" fill="#C80014" stroke="#C80014" stroke-width="1.3">)</text>
<rect x="946.7" y="10" width="712.3" height="428.6" fill="none" stroke="#000" stroke-width="3.6" stroke-linejoin="round"/>
<path d="M947.00,438.26 L947.25,438.20 L947.50,438.26 L947.75,438.45 L948.00,438.19 L948.25,438.24 L948.50,438.36 L948.75,438.23 L949.00,438.25 L949.25,438.26 L949.50,438.29 L949.75,438.23 L950.00,438.39 L950.25,438.32 L950.50,438.36 L950.75,438.23 L951.00,438.29 L951.25,438.33 L951.50,438.39 L951.75,438.33 L952.00,438.30 L952.25,438.33 L952.50,438.14 L952.75,438.18 L953.00,438.62 L953.25,438.52 L953.50,438.32 L953.75,438.35 L954.00,438.27 L954.25,438.27 L954.50,438.04 L954.75,438.43 L955.00,438.34 L955.25,438.05 L955.50,438.22 L955.75,438.22 L956.00,438.36 L956.25,438.50 L956.50,438.28 L956.75,438.29 L957.00,438.45 L957.25,438.38 L957.50,438.31 L957.75,438.41 L958.00,438.31 L958.25,438.29 L958.50,438.29 L958.75,438.36 L959.00,438.23 L959.25,438.19 L959.50,438.26 L959.75,438.40 L960.00,438.21 L960.25,438.36 L960.50,438.19 L960.75,438.43 L961.00,438.19 L961.25,438.30 L961.50,438.45 L961.75,438.34 L962.00,438.29 L962.25,438.27 L962.50,438.42 L962.75,438.43 L963.00,438.27 L963.25,438.35 L963.50,438.27 L963.75,438.21 L964.00,438.50 L964.25,438.27 L964.50,438.15 L964.75,438.33 L965.00,438.40 L965.25,438.21 L965.50,438.27 L965.75,438.19 L966.00,438.34 L966.25,438.48 L966.50,438.31 L966.75,438.35 L967.00,438.21 L967.25,438.27 L967.50,438.49 L967.75,438.44 L968.00,438.19 L968.25,438.22 L968.50,438.37 L968.75,438.30 L969.00,438.24 L969.25,438.24 L969.50,438.19 L969.75,438.27 L970.00,438.31 L970.25,438.33 L970.50,438.17 L970.75,438.57 L971.00,438.31 L971.25,438.29 L971.50,438.47 L971.75,438.26 L972.00,438.38 L972.25,438.19 L972.50,438.31 L972.75,438.22 L973.00,438.15 L973.25,438.25 L973.50,438.40 L973.75,438.48 L974.00,438.09 L974.25,438.31 L974.50,438.38 L974.75,438.28 L975.00,438.32 L975.25,438.20 L975.50,438.29 L975.75,438.30 L976.00,438.38 L976.25,438.24 L976.50,438.42 L976.75,438.22 L977.00,438.12 L977.25,438.48 L977.50,438.59 L977.75,438.22 L978.00,437.99 L978.25,438.42 L978.50,438.45 L978.75,438.23 L979.00,438.40 L979.25,438.36 L979.50,438.34 L979.75,438.23 L980.00,438.35 L980.25,438.26 L980.50,438.32 L980.75,438.40 L981.00,438.34 L981.25,438.41 L981.50,438.30 L981.75,438.43 L982.00,438.43 L982.25,438.12 L982.50,438.30 L982.75,438.30 L983.00,438.24 L983.25,438.35 L983.50,438.33 L983.75,438.25 L984.00,438.26 L984.25,438.44 L984.50,438.20 L984.75,438.37 L985.00,438.42 L985.25,438.41 L985.50,438.34 L985.75,438.10 L986.00,438.44 L986.25,438.28 L986.50,438.55 L986.75,438.30 L987.00,438.19 L987.25,438.33 L987.50,438.37 L987.75,438.27 L988.00,438.21 L988.25,438.22 L988.50,438.06 L988.75,438.27 L989.00,438.37 L989.25,438.31 L989.50,438.31 L989.75,438.28 L990.00,438.30 L990.25,438.28 L990.50,438.50 L990.75,438.20 L991.00,438.37 L991.25,438.44 L991.50,438.22 L991.75,438.14 L992.00,438.24 L992.25,438.28 L992.50,438.41 L992.75,437.95 L993.00,438.19 L993.25,438.43 L993.50,438.39 L993.75,438.29 L994.00,438.48 L994.25,438.28 L994.50,438.35 L994.75,438.15 L995.00,438.18 L995.25,438.62 L995.50,438.29 L995.75,438.49 L996.00,438.16 L996.25,438.28 L996.50,438.23 L996.75,438.43 L997.00,438.08 L997.25,438.06 L997.50,438.43 L997.75,438.25 L998.00,438.38 L998.25,438.30 L998.50,438.45 L998.75,438.07 L999.00,438.41 L999.25,438.33 L999.50,438.24 L999.75,438.38 L1000.00,438.33 L1000.25,438.37 L1000.50,438.31 L1000.75,438.44 L1001.00,438.35 L1001.25,438.32 L1001.50,438.34 L1001.75,438.29 L1002.00,438.33 L1002.25,438.21 L1002.50,438.34 L1002.75,438.31 L1003.00,438.38 L1003.25,438.36 L1003.50,438.45 L1003.75,438.24 L1004.00,438.43 L1004.25,438.39 L1004.50,438.25 L1004.75,438.25 L1005.00,438.35 L1005.25,438.54 L1005.50,438.25 L1005.75,438.27 L1006.00,438.47 L1006.25,438.20 L1006.50,438.38 L1006.75,438.43 L1007.00,438.29 L1007.25,438.32 L1007.50,438.27 L1007.75,438.49 L1008.00,438.08 L1008.25,438.37 L1008.50,438.48 L1008.75,438.22 L1009.00,438.34 L1009.25,438.26 L1009.50,438.34 L1009.75,438.30 L1010.00,438.27 L1010.25,438.39 L1010.50,438.22 L1010.75,438.35 L1011.00,438.40 L1011.25,438.29 L1011.50,438.24 L1011.75,438.32 L1012.00,438.40 L1012.25,438.22 L1012.50,438.51 L1012.75,438.42 L1013.00,438.29 L1013.25,438.46 L1013.50,438.29 L1013.75,438.30 L1014.00,438.19 L1014.25,438.41 L1014.50,438.37 L1014.75,438.26 L1015.00,438.59 L1015.25,437.92 L1015.50,438.38 L1015.75,438.38 L1016.00,438.19 L1016.25,438.30 L1016.50,438.51 L1016.75,438.22 L1017.00,438.19 L1017.25,438.35 L1017.50,438.33 L1017.75,438.24 L1018.00,438.41 L1018.25,438.24 L1018.50,438.27 L1018.75,438.38 L1019.00,438.46 L1019.25,438.32 L1019.50,438.40 L1019.75,438.18 L1020.00,438.28 L1020.25,438.20 L1020.50,438.28 L1020.75,438.26 L1021.00,438.39 L1021.25,438.22 L1021.50,438.08 L1021.75,438.33 L1022.00,438.37 L1022.25,438.32 L1022.50,438.35 L1022.75,438.38 L1023.00,438.28 L1023.25,438.33 L1023.50,438.12 L1023.75,438.30 L1024.00,438.26 L1024.25,438.18 L1024.50,438.33 L1024.75,438.12 L1025.00,438.37 L1025.25,438.39 L1025.50,438.34 L1025.75,438.31 L1026.00,438.46 L1026.25,438.30 L1026.50,438.50 L1026.75,438.13 L1027.00,438.31 L1027.25,438.37 L1027.50,438.40 L1027.75,438.34 L1028.00,438.32 L1028.25,438.42 L1028.50,438.41 L1028.75,438.32 L1029.00,438.36 L1029.25,438.18 L1029.50,438.16 L1029.75,438.29 L1030.00,438.24 L1030.25,438.46 L1030.50,438.22 L1030.75,438.30 L1031.00,438.24 L1031.25,438.10 L1031.50,438.57 L1031.75,438.26 L1032.00,438.43 L1032.25,438.22 L1032.50,438.45 L1032.75,438.35 L1033.00,438.27 L1033.25,438.22 L1033.50,438.29 L1033.75,438.39 L1034.00,438.36 L1034.25,438.19 L1034.50,438.30 L1034.75,438.50 L1035.00,438.19 L1035.25,438.24 L1035.50,438.19 L1035.75,438.34 L1036.00,438.20 L1036.25,438.42 L1036.50,438.23 L1036.75,438.35 L1037.00,438.21 L1037.25,438.17 L1037.50,438.38 L1037.75,438.30 L1038.00,438.29 L1038.25,438.15 L1038.50,438.21 L1038.75,438.44 L1039.00,438.24 L1039.25,438.20 L1039.50,438.04 L1039.75,438.50 L1040.00,438.36 L1040.25,438.13 L1040.50,438.46 L1040.75,438.44 L1041.00,438.23 L1041.25,438.17 L1041.50,438.37 L1041.75,438.23 L1042.00,438.28 L1042.25,438.11 L1042.50,438.29 L1042.75,438.17 L1043.00,438.40 L1043.25,438.32 L1043.50,438.30 L1043.75,438.16 L1044.00,438.22 L1044.25,438.38 L1044.50,438.21 L1044.75,438.20 L1045.00,438.31 L1045.25,438.32 L1045.50,438.32 L1045.75,438.50 L1046.00,438.27 L1046.25,438.26 L1046.50,438.40 L1046.75,438.20 L1047.00,438.46 L1047.25,438.36 L1047.50,438.35 L1047.75,438.05 L1048.00,438.48 L1048.25,438.22 L1048.50,438.18 L1048.75,438.25 L1049.00,438.15 L1049.25,438.41 L1049.50,438.56 L1049.75,438.20 L1050.00,438.43 L1050.25,438.33 L1050.50,438.43 L1050.75,438.16 L1051.00,438.19 L1051.25,438.38 L1051.50,438.18 L1051.75,438.27 L1052.00,438.31 L1052.25,438.28 L1052.50,438.31 L1052.75,438.21 L1053.00,438.25 L1053.25,438.33 L1053.50,438.17 L1053.75,438.36 L1054.00,438.25 L1054.25,438.24 L1054.50,438.11 L1054.75,438.35 L1055.00,438.08 L1055.25,438.26 L1055.50,438.31 L1055.75,438.36 L1056.00,438.21 L1056.25,438.28 L1056.50,438.41 L1056.75,438.42 L1057.00,438.35 L1057.25,438.36 L1057.50,438.15 L1057.75,438.11 L1058.00,438.17 L1058.25,438.23 L1058.50,438.32 L1058.75,438.26 L1059.00,438.16 L1059.25,438.01 L1059.50,438.15 L1059.75,438.29 L1060.00,438.24 L1060.25,438.30 L1060.50,438.32 L1060.75,438.23 L1061.00,438.15 L1061.25,437.86 L1061.50,437.84 L1061.75,437.16 L1062.00,436.20 L1062.25,435.25 L1062.50,434.19 L1062.75,434.41 L1063.00,435.54 L1063.25,436.59 L1063.50,437.45 L1063.75,437.94 L1064.00,438.13 L1064.25,438.16 L1064.50,438.16 L1064.75,438.33 L1065.00,438.24 L1065.25,438.42 L1065.50,438.22 L1065.75,438.18 L1066.00,438.23 L1066.25,438.22 L1066.50,438.19 L1066.75,438.34 L1067.00,438.29 L1067.25,438.20 L1067.50,438.14 L1067.75,438.21 L1068.00,437.95 L1068.25,438.27 L1068.50,438.14 L1068.75,438.11 L1069.00,438.27 L1069.25,438.35 L1069.50,438.40 L1069.75,438.23 L1070.00,438.12 L1070.25,438.22 L1070.50,438.23 L1070.75,438.29 L1071.00,438.18 L1071.25,438.50 L1071.50,438.21 L1071.75,438.24 L1072.00,438.40 L1072.25,437.97 L1072.50,438.40 L1072.75,438.36 L1073.00,438.37 L1073.25,438.09 L1073.50,438.33 L1073.75,438.14 L1074.00,438.14 L1074.25,438.18 L1074.50,438.36 L1074.75,438.27 L1075.00,437.99 L1075.25,438.34 L1075.50,438.27 L1075.75,438.19 L1076.00,438.06 L1076.25,438.12 L1076.50,438.05 L1076.75,438.25 L1077.00,437.99 L1077.25,438.02 L1077.50,438.26 L1077.75,437.87 L1078.00,437.75 L1078.25,438.09 L1078.50,437.96 L1078.75,437.76 L1079.00,438.06 L1079.25,438.06 L1079.50,437.91 L1079.75,437.74 L1080.00,437.64 L1080.25,437.37 L1080.50,437.25 L1080.75,437.21 L1081.00,436.70 L1081.25,436.14 L1081.50,435.65 L1081.75,434.84 L1082.00,433.69 L1082.25,431.66 L1082.50,429.14 L1082.75,425.79 L1083.00,424.31 L1083.25,425.74 L1083.50,428.97 L1083.75,431.91 L1084.00,433.68 L1084.25,434.81 L1084.50,435.93 L1084.75,436.43 L1085.00,436.86 L1085.25,437.24 L1085.50,437.16 L1085.75,437.29 L1086.00,437.48 L1086.25,437.65 L1086.50,437.76 L1086.75,437.80 L1087.00,437.97 L1087.25,437.82 L1087.50,437.84 L1087.75,437.89 L1088.00,438.09 L1088.25,438.04 L1088.50,438.09 L1088.75,437.88 L1089.00,438.09 L1089.25,438.35 L1089.50,438.09 L1089.75,437.92 L1090.00,438.08 L1090.25,438.06 L1090.50,438.17 L1090.75,438.42 L1091.00,438.41 L1091.25,438.35 L1091.50,438.22 L1091.75,438.17 L1092.00,438.13 L1092.25,438.26 L1092.50,438.10 L1092.75,438.26 L1093.00,438.31 L1093.25,438.13 L1093.50,438.34 L1093.75,438.56 L1094.00,438.37 L1094.25,438.23 L1094.50,438.61 L1094.75,438.29 L1095.00,438.29 L1095.25,438.42 L1095.50,438.43 L1095.75,438.31 L1096.00,438.32 L1096.25,438.10 L1096.50,438.21 L1096.75,438.45 L1097.00,438.36 L1097.25,438.17 L1097.50,438.03 L1097.75,438.21 L1098.00,438.22 L1098.25,438.04 L1098.50,438.26 L1098.75,438.30 L1099.00,438.43 L1099.25,438.32 L1099.50,438.00 L1099.75,438.43 L1100.00,438.26 L1100.25,438.42 L1100.50,438.24 L1100.75,438.14 L1101.00,438.27 L1101.25,438.15 L1101.50,438.15 L1101.75,438.17 L1102.00,438.00 L1102.25,438.07 L1102.50,438.08 L1102.75,437.85 L1103.00,437.27 L1103.25,436.13 L1103.50,435.08 L1103.75,433.98 L1104.00,434.43 L1104.25,435.75 L1104.50,436.86 L1104.75,437.37 L1105.00,438.19 L1105.25,438.19 L1105.50,438.08 L1105.75,438.33 L1106.00,438.29 L1106.25,438.29 L1106.50,438.17 L1106.75,438.24 L1107.00,438.21 L1107.25,438.19 L1107.50,438.26 L1107.75,438.14 L1108.00,438.36 L1108.25,438.45 L1108.50,438.49 L1108.75,438.47 L1109.00,438.34 L1109.25,438.16 L1109.50,438.26 L1109.75,438.35 L1110.00,438.41 L1110.25,438.35 L1110.50,438.33 L1110.75,438.35 L1111.00,438.46 L1111.25,438.34 L1111.50,438.16 L1111.75,438.55 L1112.00,438.31 L1112.25,438.54 L1112.50,438.26 L1112.75,438.38 L1113.00,438.54 L1113.25,438.27 L1113.50,438.07 L1113.75,438.27 L1114.00,438.15 L1114.25,438.30 L1114.50,438.55 L1114.75,438.23 L1115.00,438.34 L1115.25,438.46 L1115.50,438.19 L1115.75,438.25 L1116.00,438.35 L1116.25,438.19 L1116.50,438.39 L1116.75,438.21 L1117.00,438.40 L1117.25,438.23 L1117.50,438.42 L1117.75,438.11 L1118.00,438.26 L1118.25,438.12 L1118.50,438.39 L1118.75,438.35 L1119.00,438.19 L1119.25,438.62 L1119.50,438.42 L1119.75,438.17 L1120.00,438.24 L1120.25,438.17 L1120.50,438.33 L1120.75,438.22 L1121.00,438.38 L1121.25,438.46 L1121.50,438.49 L1121.75,438.36 L1122.00,438.36 L1122.25,438.37 L1122.50,438.72 L1122.75,438.53 L1123.00,438.36 L1123.25,438.26 L1123.50,438.36 L1123.75,438.40 L1124.00,438.57 L1124.25,438.05 L1124.50,438.42 L1124.75,438.09 L1125.00,438.11 L1125.25,438.26 L1125.50,438.36 L1125.75,438.28 L1126.00,438.43 L1126.25,438.26 L1126.50,438.29 L1126.75,438.23 L1127.00,438.18 L1127.25,438.08 L1127.50,438.34 L1127.75,438.17 L1128.00,438.39 L1128.25,438.40 L1128.50,438.37 L1128.75,438.41 L1129.00,438.18 L1129.25,438.18 L1129.50,438.14 L1129.75,438.30 L1130.00,438.26 L1130.25,438.36 L1130.50,438.43 L1130.75,438.24 L1131.00,438.26 L1131.25,438.43 L1131.50,438.22 L1131.75,438.50 L1132.00,438.32 L1132.25,438.37 L1132.50,438.36 L1132.75,438.42 L1133.00,438.18 L1133.25,438.23 L1133.50,438.15 L1133.75,438.28 L1134.00,438.45 L1134.25,438.34 L1134.50,438.44 L1134.75,438.24 L1135.00,438.15 L1135.25,438.26 L1135.50,438.37 L1135.75,438.34 L1136.00,438.27 L1136.25,438.47 L1136.50,438.28 L1136.75,438.27 L1137.00,438.36 L1137.25,438.35 L1137.50,438.28 L1137.75,438.39 L1138.00,438.39 L1138.25,438.20 L1138.50,438.27 L1138.75,438.10 L1139.00,438.42 L1139.25,438.51 L1139.50,438.18 L1139.75,438.18 L1140.00,438.39 L1140.25,438.47 L1140.50,438.30 L1140.75,438.51 L1141.00,438.34 L1141.25,438.56 L1141.50,438.33 L1141.75,438.55 L1142.00,438.33 L1142.25,438.12 L1142.50,438.33 L1142.75,438.21 L1143.00,438.38 L1143.25,438.41 L1143.50,438.48 L1143.75,438.17 L1144.00,438.31 L1144.25,438.10 L1144.50,438.44 L1144.75,438.33 L1145.00,438.29 L1145.25,438.13 L1145.50,438.08 L1145.75,438.38 L1146.00,438.44 L1146.25,438.51 L1146.50,438.14 L1146.75,438.31 L1147.00,438.38 L1147.25,438.31 L1147.50,438.61 L1147.75,438.51 L1148.00,438.19 L1148.25,438.25 L1148.50,438.28 L1148.75,438.42 L1149.00,438.23 L1149.25,438.09 L1149.50,438.45 L1149.75,438.30 L1150.00,438.35 L1150.25,438.26 L1150.50,438.30 L1150.75,438.32 L1151.00,438.41 L1151.25,438.30 L1151.50,438.37 L1151.75,438.32 L1152.00,438.31 L1152.25,438.22 L1152.50,438.37 L1152.75,438.34 L1153.00,438.17 L1153.25,438.33 L1153.50,438.33 L1153.75,438.20 L1154.00,438.27 L1154.25,438.29 L1154.50,438.27 L1154.75,438.45 L1155.00,438.25 L1155.25,438.14 L1155.50,438.23 L1155.75,438.49 L1156.00,438.27 L1156.25,438.41 L1156.50,438.33 L1156.75,438.28 L1157.00,438.44 L1157.25,438.14 L1157.50,438.31 L1157.75,438.20 L1158.00,438.22 L1158.25,438.14 L1158.50,438.16 L1158.75,438.48 L1159.00,438.29 L1159.25,438.55 L1159.50,438.35 L1159.75,438.21 L1160.00,438.19 L1160.25,438.14 L1160.50,438.34 L1160.75,438.26 L1161.00,438.29 L1161.25,438.15 L1161.50,438.11 L1161.75,438.34 L1162.00,437.84 L1162.25,438.30 L1162.50,438.34 L1162.75,438.22 L1163.00,438.21 L1163.25,438.23 L1163.50,438.37 L1163.75,438.12 L1164.00,438.29 L1164.25,438.11 L1164.50,438.13 L1164.75,438.45 L1165.00,438.41 L1165.25,438.41 L1165.50,438.26 L1165.75,438.29 L1166.00,438.26 L1166.25,438.39 L1166.50,438.24 L1166.75,438.12 L1167.00,438.45 L1167.25,438.32 L1167.50,438.26 L1167.75,438.31 L1168.00,438.31 L1168.25,438.08 L1168.50,438.14 L1168.75,438.19 L1169.00,438.38 L1169.25,438.02 L1169.50,438.24 L1169.75,438.35 L1170.00,438.32 L1170.25,438.34 L1170.50,438.03 L1170.75,438.25 L1171.00,438.27 L1171.25,438.53 L1171.50,438.18 L1171.75,438.39 L1172.00,438.39 L1172.25,438.17 L1172.50,438.32 L1172.75,438.08 L1173.00,437.93 L1173.25,438.00 L1173.50,437.20 L1173.75,436.39 L1174.00,435.06 L1174.25,434.21 L1174.50,434.83 L1174.75,435.53 L1175.00,436.87 L1175.25,437.73 L1175.50,438.00 L1175.75,438.05 L1176.00,438.37 L1176.25,438.23 L1176.50,438.41 L1176.75,438.11 L1177.00,438.25 L1177.25,438.32 L1177.50,438.15 L1177.75,438.43 L1178.00,438.33 L1178.25,438.06 L1178.50,438.30 L1178.75,438.12 L1179.00,438.26 L1179.25,438.37 L1179.50,438.32 L1179.75,438.28 L1180.00,438.34 L1180.25,438.39 L1180.50,438.38 L1180.75,438.47 L1181.00,438.28 L1181.25,438.24 L1181.50,438.20 L1181.75,438.51 L1182.00,438.20 L1182.25,438.30 L1182.50,438.46 L1182.75,438.28 L1183.00,438.20 L1183.25,438.23 L1183.50,438.21 L1183.75,438.18 L1184.00,438.19 L1184.25,438.30 L1184.50,438.54 L1184.75,438.39 L1185.00,438.25 L1185.25,438.35 L1185.50,438.21 L1185.75,438.20 L1186.00,438.29 L1186.25,438.07 L1186.50,438.41 L1186.75,438.18 L1187.00,438.35 L1187.25,438.39 L1187.50,438.22 L1187.75,438.37 L1188.00,438.19 L1188.25,438.44 L1188.50,438.29 L1188.75,438.40 L1189.00,438.32 L1189.25,438.34 L1189.50,438.43 L1189.75,438.22 L1190.00,438.44 L1190.25,438.41 L1190.50,438.19 L1190.75,438.18 L1191.00,438.22 L1191.25,438.25 L1191.50,438.02 L1191.75,438.44 L1192.00,438.38 L1192.25,438.41 L1192.50,438.19 L1192.75,438.26 L1193.00,438.16 L1193.25,438.18 L1193.50,438.32 L1193.75,438.39 L1194.00,438.41 L1194.25,438.03 L1194.50,438.18 L1194.75,438.22 L1195.00,438.34 L1195.25,438.32 L1195.50,438.34 L1195.75,438.33 L1196.00,438.58 L1196.25,438.30 L1196.50,438.34 L1196.75,438.26 L1197.00,438.27 L1197.25,438.19 L1197.50,438.30 L1197.75,438.20 L1198.00,438.60 L1198.25,438.43 L1198.50,438.09 L1198.75,438.44 L1199.00,438.33 L1199.25,438.21 L1199.50,438.40 L1199.75,438.21 L1200.00,438.47 L1200.25,438.52 L1200.50,438.45 L1200.75,438.49 L1201.00,438.30 L1201.25,438.33 L1201.50,438.26 L1201.75,438.42 L1202.00,437.99 L1202.25,438.31 L1202.50,438.30 L1202.75,438.24 L1203.00,438.32 L1203.25,438.37 L1203.50,438.28 L1203.75,438.18 L1204.00,438.21 L1204.25,438.18 L1204.50,438.36 L1204.75,438.39 L1205.00,438.05 L1205.25,438.32 L1205.50,438.24 L1205.75,438.20 L1206.00,438.12 L1206.25,438.46 L1206.50,438.35 L1206.75,438.34 L1207.00,438.33 L1207.25,438.58 L1207.50,438.30 L1207.75,438.64 L1208.00,438.26 L1208.25,438.23 L1208.50,438.22 L1208.75,438.44 L1209.00,438.18 L1209.25,438.39 L1209.50,438.44 L1209.75,438.41 L1210.00,438.39 L1210.25,438.27 L1210.50,438.19 L1210.75,438.54 L1211.00,438.35 L1211.25,438.18 L1211.50,438.26 L1211.75,438.23 L1212.00,438.47 L1212.25,438.17 L1212.50,438.47 L1212.75,438.26 L1213.00,438.12 L1213.25,438.05 L1213.50,438.22 L1213.75,438.17 L1214.00,438.34 L1214.25,438.33 L1214.50,438.12 L1214.75,438.26 L1215.00,438.26 L1215.25,438.41 L1215.50,438.20 L1215.75,438.10 L1216.00,438.16 L1216.25,437.84 L1216.50,436.99 L1216.75,436.18 L1217.00,435.09 L1217.25,434.45 L1217.50,434.74 L1217.75,435.77 L1218.00,436.67 L1218.25,437.66 L1218.50,437.76 L1218.75,438.25 L1219.00,438.25 L1219.25,438.13 L1219.50,438.27 L1219.75,438.35 L1220.00,438.28 L1220.25,438.21 L1220.50,438.48 L1220.75,438.30 L1221.00,438.29 L1221.25,438.33 L1221.50,438.19 L1221.75,438.35 L1222.00,438.33 L1222.25,438.28 L1222.50,438.20 L1222.75,438.31 L1223.00,438.10 L1223.25,438.39 L1223.50,438.13 L1223.75,438.39 L1224.00,438.31 L1224.25,438.24 L1224.50,438.04 L1224.75,438.18 L1225.00,438.34 L1225.25,438.13 L1225.50,438.31 L1225.75,438.38 L1226.00,438.24 L1226.25,438.28 L1226.50,438.18 L1226.75,438.36 L1227.00,438.24 L1227.25,438.21 L1227.50,438.26 L1227.75,438.29 L1228.00,438.37 L1228.25,438.18 L1228.50,438.27 L1228.75,438.23 L1229.00,438.33 L1229.25,438.29 L1229.50,438.42 L1229.75,438.28 L1230.00,438.20 L1230.25,438.28 L1230.50,438.19 L1230.75,438.25 L1231.00,438.13 L1231.25,438.31 L1231.50,438.49 L1231.75,438.24 L1232.00,438.31 L1232.25,438.41 L1232.50,438.21 L1232.75,438.26 L1233.00,438.24 L1233.25,438.33 L1233.50,438.27 L1233.75,438.26 L1234.00,438.08 L1234.25,438.37 L1234.50,438.29 L1234.75,438.25 L1235.00,438.50 L1235.25,438.48 L1235.50,438.03 L1235.75,438.50 L1236.00,438.22 L1236.25,438.39 L1236.50,438.38 L1236.75,438.53 L1237.00,438.40 L1237.25,438.20 L1237.50,438.46 L1237.75,438.22 L1238.00,438.25 L1238.25,438.05 L1238.50,438.35 L1238.75,438.14 L1239.00,438.18 L1239.25,438.33 L1239.50,438.49 L1239.75,438.11 L1240.00,438.45 L1240.25,438.35 L1240.50,438.19 L1240.75,438.16 L1241.00,438.39 L1241.25,438.29 L1241.50,438.32 L1241.75,438.15 L1242.00,437.99 L1242.25,438.51 L1242.50,438.18 L1242.75,438.63 L1243.00,438.29 L1243.25,438.42 L1243.50,438.05 L1243.75,438.27 L1244.00,438.38 L1244.25,438.35 L1244.50,438.36 L1244.75,438.27 L1245.00,438.31 L1245.25,438.21 L1245.50,438.11 L1245.75,438.21 L1246.00,438.44 L1246.25,438.49 L1246.50,438.38 L1246.75,438.16 L1247.00,438.33 L1247.25,438.37 L1247.50,438.27 L1247.75,438.46 L1248.00,438.43 L1248.25,438.23 L1248.50,438.33 L1248.75,438.34 L1249.00,438.25 L1249.25,438.36 L1249.50,438.37 L1249.75,438.35 L1250.00,438.22 L1250.25,438.28 L1250.50,438.43 L1250.75,438.33 L1251.00,438.21 L1251.25,438.07 L1251.50,438.43 L1251.75,438.25 L1252.00,438.32 L1252.25,438.19 L1252.50,438.24 L1252.75,438.11 L1253.00,438.23 L1253.25,438.36 L1253.50,438.35 L1253.75,438.24 L1254.00,438.24 L1254.25,438.00 L1254.50,438.09 L1254.75,438.43 L1255.00,438.25 L1255.25,438.45 L1255.50,438.49 L1255.75,438.20 L1256.00,438.22 L1256.25,438.41 L1256.50,438.09 L1256.75,438.41 L1257.00,438.43 L1257.25,438.21 L1257.50,438.26 L1257.75,438.31 L1258.00,438.30 L1258.25,438.26 L1258.50,438.31 L1258.75,438.31 L1259.00,438.52 L1259.25,438.45 L1259.50,438.22 L1259.75,438.37 L1260.00,438.22 L1260.25,438.14 L1260.50,438.33 L1260.75,438.26 L1261.00,438.04 L1261.25,438.21 L1261.50,438.07 L1261.75,438.10 L1262.00,438.20 L1262.25,438.30 L1262.50,438.39 L1262.75,438.42 L1263.00,438.23 L1263.25,438.23 L1263.50,438.31 L1263.75,438.19 L1264.00,438.36 L1264.25,438.16 L1264.50,438.28 L1264.75,438.29 L1265.00,438.29 L1265.25,438.30 L1265.50,437.99 L1265.75,438.48 L1266.00,438.27 L1266.25,438.14 L1266.50,438.20 L1266.75,438.32 L1267.00,438.08 L1267.25,438.42 L1267.50,438.44 L1267.75,438.22 L1268.00,438.46 L1268.25,438.57 L1268.50,438.18 L1268.75,438.20 L1269.00,438.20 L1269.25,438.35 L1269.50,438.27 L1269.75,438.40 L1270.00,438.08 L1270.25,438.19 L1270.50,438.20 L1270.75,438.52 L1271.00,438.19 L1271.25,438.11 L1271.50,438.14 L1271.75,438.19 L1272.00,438.29 L1272.25,438.33 L1272.50,438.21 L1272.75,438.24 L1273.00,438.26 L1273.25,438.32 L1273.50,438.09 L1273.75,438.43 L1274.00,438.29 L1274.25,438.36 L1274.50,438.16 L1274.75,438.11 L1275.00,438.14 L1275.25,438.20 L1275.50,438.45 L1275.75,438.04 L1276.00,438.22 L1276.25,438.30 L1276.50,438.28 L1276.75,438.33 L1277.00,438.24 L1277.25,438.25 L1277.50,438.33 L1277.75,438.59 L1278.00,438.29 L1278.25,438.23 L1278.50,438.22 L1278.75,438.30 L1279.00,438.23 L1279.25,438.16 L1279.50,438.34 L1279.75,438.11 L1280.00,438.52 L1280.25,438.44 L1280.50,438.39 L1280.75,438.58 L1281.00,438.41 L1281.25,438.14 L1281.50,438.14 L1281.75,438.27 L1282.00,438.08 L1282.25,438.26 L1282.50,438.34 L1282.75,438.26 L1283.00,438.30 L1283.25,438.20 L1283.50,438.46 L1283.75,438.16 L1284.00,438.34 L1284.25,438.18 L1284.50,438.47 L1284.75,438.33 L1285.00,438.27 L1285.25,438.18 L1285.50,438.43 L1285.75,438.08 L1286.00,438.23 L1286.25,438.35 L1286.50,438.14 L1286.75,438.27 L1287.00,438.14 L1287.25,438.00 L1287.50,438.19 L1287.75,438.35 L1288.00,438.33 L1288.25,438.21 L1288.50,438.25 L1288.75,438.38 L1289.00,438.36 L1289.25,438.20 L1289.50,438.00 L1289.75,438.60 L1290.00,438.20 L1290.25,438.31 L1290.50,438.19 L1290.75,438.18 L1291.00,438.28 L1291.25,438.40 L1291.50,438.45 L1291.75,438.51 L1292.00,438.13 L1292.25,438.31 L1292.50,438.35 L1292.75,438.31 L1293.00,438.44 L1293.25,438.24 L1293.50,438.12 L1293.75,438.14 L1294.00,438.47 L1294.25,438.12 L1294.50,438.37 L1294.75,438.51 L1295.00,438.43 L1295.25,438.40 L1295.50,438.28 L1295.75,438.40 L1296.00,438.46 L1296.25,438.31 L1296.50,438.05 L1296.75,438.36 L1297.00,438.22 L1297.25,438.27 L1297.50,437.96 L1297.75,438.51 L1298.00,438.15 L1298.25,438.43 L1298.50,438.35 L1298.75,438.29 L1299.00,437.90 L1299.25,438.37 L1299.50,438.50 L1299.75,438.12 L1300.00,438.38 L1300.25,438.31 L1300.50,438.28 L1300.75,438.27 L1301.00,438.30 L1301.25,438.25 L1301.50,438.23 L1301.75,438.17 L1302.00,438.33 L1302.25,438.37 L1302.50,438.40 L1302.75,438.21 L1303.00,438.28 L1303.25,438.21 L1303.50,438.21 L1303.75,438.07 L1304.00,438.25 L1304.25,438.19 L1304.50,438.42 L1304.75,438.40 L1305.00,438.31 L1305.25,438.42 L1305.50,438.19 L1305.75,438.43 L1306.00,438.27 L1306.25,438.57 L1306.50,438.41 L1306.75,438.31 L1307.00,438.30 L1307.25,438.49 L1307.50,438.26 L1307.75,438.16 L1308.00,438.20 L1308.25,438.35 L1308.50,438.34 L1308.75,438.41 L1309.00,438.20 L1309.25,438.10 L1309.50,438.33 L1309.75,438.48 L1310.00,438.25 L1310.25,438.19 L1310.50,438.60 L1310.75,438.25 L1311.00,438.01 L1311.25,438.17 L1311.50,438.20 L1311.75,438.22 L1312.00,438.14 L1312.25,438.38 L1312.50,438.37 L1312.75,438.22 L1313.00,438.35 L1313.25,438.24 L1313.50,438.50 L1313.75,438.18 L1314.00,438.17 L1314.25,438.26 L1314.50,438.25 L1314.75,438.07 L1315.00,438.40 L1315.25,438.38 L1315.50,438.40 L1315.75,438.32 L1316.00,438.39 L1316.25,438.26 L1316.50,438.34 L1316.75,438.44 L1317.00,438.45 L1317.25,438.12 L1317.50,438.27 L1317.75,438.29 L1318.00,438.26 L1318.25,438.27 L1318.50,438.17 L1318.75,438.19 L1319.00,438.33 L1319.25,438.36 L1319.50,438.39 L1319.75,438.41 L1320.00,438.09 L1320.25,438.37 L1320.50,438.50 L1320.75,438.36 L1321.00,438.35 L1321.25,438.22 L1321.50,438.36 L1321.75,438.19 L1322.00,438.21 L1322.25,438.11 L1322.50,438.00 L1322.75,437.91 L1323.00,438.09 L1323.25,438.40 L1323.50,438.30 L1323.75,438.23 L1324.00,438.01 L1324.25,438.17 L1324.50,438.11 L1324.75,438.27 L1325.00,438.18 L1325.25,438.17 L1325.50,438.31 L1325.75,438.16 L1326.00,438.12 L1326.25,438.27 L1326.50,438.13 L1326.75,438.05 L1327.00,438.24 L1327.25,438.25 L1327.50,438.29 L1327.75,438.32 L1328.00,438.23 L1328.25,438.30 L1328.50,438.28 L1328.75,438.34 L1329.00,438.43 L1329.25,438.36 L1329.50,438.20 L1329.75,438.38 L1330.00,438.32 L1330.25,438.04 L1330.50,438.11 L1330.75,438.32 L1331.00,438.17 L1331.25,438.32 L1331.50,438.04 L1331.75,438.31 L1332.00,438.23 L1332.25,438.07 L1332.50,438.33 L1332.75,438.08 L1333.00,438.33 L1333.25,438.20 L1333.50,438.27 L1333.75,438.24 L1334.00,438.21 L1334.25,438.24 L1334.50,438.35 L1334.75,438.12 L1335.00,438.14 L1335.25,438.07 L1335.50,438.06 L1335.75,438.38 L1336.00,438.07 L1336.25,438.07 L1336.50,438.28 L1336.75,438.09 L1337.00,438.04 L1337.25,438.28 L1337.50,438.38 L1337.75,438.26 L1338.00,437.88 L1338.25,438.18 L1338.50,438.36 L1338.75,438.24 L1339.00,438.33 L1339.25,438.26 L1339.50,438.19 L1339.75,438.51 L1340.00,438.16 L1340.25,438.03 L1340.50,438.22 L1340.75,438.24 L1341.00,438.07 L1341.25,438.35 L1341.50,438.34 L1341.75,438.36 L1342.00,438.21 L1342.25,438.14 L1342.50,438.20 L1342.75,438.12 L1343.00,438.08 L1343.25,438.12 L1343.50,438.27 L1343.75,438.21 L1344.00,438.02 L1344.25,438.30 L1344.50,438.20 L1344.75,438.22 L1345.00,438.19 L1345.25,438.29 L1345.50,438.32 L1345.75,437.85 L1346.00,438.04 L1346.25,438.24 L1346.50,438.15 L1346.75,438.06 L1347.00,438.18 L1347.25,438.06 L1347.50,438.21 L1347.75,438.17 L1348.00,438.14 L1348.25,438.18 L1348.50,438.41 L1348.75,438.11 L1349.00,438.08 L1349.25,438.05 L1349.50,438.22 L1349.75,438.05 L1350.00,438.06 L1350.25,438.29 L1350.50,438.34 L1350.75,438.01 L1351.00,438.18 L1351.25,437.94 L1351.50,437.79 L1351.75,438.11 L1352.00,438.12 L1352.25,438.03 L1352.50,437.93 L1352.75,438.14 L1353.00,437.84 L1353.25,437.86 L1353.50,437.89 L1353.75,438.02 L1354.00,437.83 L1354.25,437.82 L1354.50,438.05 L1354.75,437.64 L1355.00,437.90 L1355.25,437.80 L1355.50,437.87 L1355.75,437.73 L1356.00,437.60 L1356.25,437.79 L1356.50,437.84 L1356.75,437.63 L1357.00,437.66 L1357.25,437.49 L1357.50,437.27 L1357.75,437.03 L1358.00,436.38 L1358.25,435.59 L1358.50,433.10 L1358.75,428.75 L1359.00,421.35 L1359.25,411.76 L1359.50,402.44 L1359.75,396.78 L1360.00,399.53 L1360.25,408.18 L1360.50,417.98 L1360.75,426.21 L1361.00,431.60 L1361.25,434.54 L1361.50,435.82 L1361.75,436.49 L1362.00,436.78 L1362.25,437.02 L1362.50,437.12 L1362.75,437.07 L1363.00,437.08 L1363.25,437.07 L1363.50,437.05 L1363.75,437.09 L1364.00,437.28 L1364.25,437.15 L1364.50,437.07 L1364.75,436.72 L1365.00,436.91 L1365.25,436.71 L1365.50,436.54 L1365.75,436.59 L1366.00,436.58 L1366.25,436.46 L1366.50,436.42 L1366.75,436.12 L1367.00,435.87 L1367.25,435.76 L1367.50,435.54 L1367.75,435.33 L1368.00,434.92 L1368.25,434.95 L1368.50,434.52 L1368.75,434.08 L1369.00,433.57 L1369.25,433.50 L1369.50,432.67 L1369.75,431.92 L1370.00,431.17 L1370.25,429.94 L1370.50,428.80 L1370.75,427.40 L1371.00,425.76 L1371.25,423.55 L1371.50,420.87 L1371.75,417.53 L1372.00,414.02 L1372.25,409.96 L1372.50,405.59 L1372.75,401.64 L1373.00,398.76 L1373.25,398.01 L1373.50,399.86 L1373.75,402.89 L1374.00,406.96 L1374.25,411.27 L1374.50,415.44 L1374.75,419.08 L1375.00,421.93 L1375.25,424.54 L1375.50,426.30 L1375.75,427.89 L1376.00,429.58 L1376.25,430.48 L1376.50,431.38 L1376.75,432.06 L1377.00,432.71 L1377.25,433.35 L1377.50,434.01 L1377.75,434.39 L1378.00,434.56 L1378.25,435.10 L1378.50,435.30 L1378.75,435.36 L1379.00,435.74 L1379.25,436.11 L1379.50,436.15 L1379.75,436.19 L1380.00,436.43 L1380.25,436.39 L1380.50,436.48 L1380.75,436.82 L1381.00,436.89 L1381.25,436.92 L1381.50,437.13 L1381.75,437.01 L1382.00,437.14 L1382.25,437.08 L1382.50,437.30 L1382.75,437.38 L1383.00,437.09 L1383.25,437.46 L1383.50,437.46 L1383.75,437.50 L1384.00,437.48 L1384.25,437.56 L1384.50,437.46 L1384.75,437.53 L1385.00,437.45 L1385.25,437.27 L1385.50,437.07 L1385.75,436.85 L1386.00,436.63 L1386.25,436.00 L1386.50,435.46 L1386.75,434.77 L1387.00,434.25 L1387.25,433.33 L1387.50,432.99 L1387.75,432.67 L1388.00,433.07 L1388.25,433.84 L1388.50,434.58 L1388.75,435.02 L1389.00,435.96 L1389.25,436.36 L1389.50,436.95 L1389.75,437.01 L1390.00,437.50 L1390.25,437.49 L1390.50,437.61 L1390.75,437.89 L1391.00,437.92 L1391.25,437.73 L1391.50,437.93 L1391.75,438.06 L1392.00,437.82 L1392.25,437.67 L1392.50,438.00 L1392.75,437.83 L1393.00,438.03 L1393.25,437.86 L1393.50,438.06 L1393.75,437.88 L1394.00,437.98 L1394.25,438.07 L1394.50,438.03 L1394.75,438.13 L1395.00,438.20 L1395.25,438.20 L1395.50,438.09 L1395.75,438.21 L1396.00,438.04 L1396.25,438.03 L1396.50,438.04 L1396.75,438.16 L1397.00,438.10 L1397.25,438.11 L1397.50,437.96 L1397.75,438.21 L1398.00,438.17 L1398.25,438.15 L1398.50,438.14 L1398.75,438.22 L1399.00,438.21 L1399.25,438.01 L1399.50,438.22 L1399.75,438.03 L1400.00,437.90 L1400.25,437.99 L1400.50,438.37 L1400.75,438.06 L1401.00,438.10 L1401.25,438.09 L1401.50,438.35 L1401.75,438.07 L1402.00,438.29 L1402.25,438.01 L1402.50,438.04 L1402.75,437.86 L1403.00,438.22 L1403.25,438.36 L1403.50,438.05 L1403.75,438.07 L1404.00,438.23 L1404.25,438.02 L1404.50,438.10 L1404.75,438.34 L1405.00,438.23 L1405.25,438.24 L1405.50,438.20 L1405.75,438.17 L1406.00,438.27 L1406.25,438.22 L1406.50,438.12 L1406.75,438.20 L1407.00,438.23 L1407.25,438.23 L1407.50,438.21 L1407.75,438.43 L1408.00,438.18 L1408.25,438.33 L1408.50,438.19 L1408.75,438.38 L1409.00,438.09 L1409.25,438.18 L1409.50,438.37 L1409.75,438.18 L1410.00,438.30 L1410.25,437.99 L1410.50,438.15 L1410.75,438.31 L1411.00,438.19 L1411.25,438.22 L1411.50,438.07 L1411.75,438.17 L1412.00,438.15 L1412.25,438.35 L1412.50,438.12 L1412.75,437.97 L1413.00,438.14 L1413.25,438.22 L1413.50,438.20 L1413.75,438.33 L1414.00,438.20 L1414.25,438.35 L1414.50,438.22 L1414.75,438.27 L1415.00,438.32 L1415.25,438.15 L1415.50,438.40 L1415.75,438.23 L1416.00,438.38 L1416.25,438.01 L1416.50,437.99 L1416.75,438.13 L1417.00,438.00 L1417.25,438.16 L1417.50,438.16 L1417.75,438.28 L1418.00,438.34 L1418.25,438.21 L1418.50,438.29 L1418.75,438.28 L1419.00,438.14 L1419.25,438.25 L1419.50,438.42 L1419.75,438.26 L1420.00,438.32 L1420.25,438.27 L1420.50,438.37 L1420.75,438.09 L1421.00,438.01 L1421.25,438.37 L1421.50,438.16 L1421.75,438.16 L1422.00,438.37 L1422.25,438.22 L1422.50,438.07 L1422.75,438.14 L1423.00,438.04 L1423.25,438.38 L1423.50,438.33 L1423.75,438.20 L1424.00,438.20 L1424.25,438.24 L1424.50,438.29 L1424.75,438.29 L1425.00,438.31 L1425.25,438.19 L1425.50,438.57 L1425.75,438.05 L1426.00,438.31 L1426.25,438.41 L1426.50,438.18 L1426.75,438.41 L1427.00,438.20 L1427.25,438.29 L1427.50,438.17 L1427.75,438.15 L1428.00,438.09 L1428.25,438.30 L1428.50,438.28 L1428.75,438.25 L1429.00,438.42 L1429.25,438.18 L1429.50,438.23 L1429.75,438.41 L1430.00,438.10 L1430.25,438.08 L1430.50,438.41 L1430.75,438.18 L1431.00,438.10 L1431.25,438.15 L1431.50,438.37 L1431.75,438.42 L1432.00,438.26 L1432.25,438.31 L1432.50,438.25 L1432.75,438.26 L1433.00,438.19 L1433.25,438.32 L1433.50,438.27 L1433.75,437.89 L1434.00,438.27 L1434.25,438.16 L1434.50,438.22 L1434.75,438.23 L1435.00,438.36 L1435.25,438.19 L1435.50,438.26 L1435.75,438.15 L1436.00,438.01 L1436.25,438.23 L1436.50,438.16 L1436.75,438.38 L1437.00,438.24 L1437.25,438.07 L1437.50,438.26 L1437.75,438.33 L1438.00,438.23 L1438.25,438.28 L1438.50,438.28 L1438.75,438.30 L1439.00,438.01 L1439.25,438.36 L1439.50,438.30 L1439.75,438.32 L1440.00,438.10 L1440.25,438.29 L1440.50,438.10 L1440.75,438.23 L1441.00,438.26 L1441.25,438.43 L1441.50,438.11 L1441.75,438.19 L1442.00,438.20 L1442.25,438.27 L1442.50,438.30 L1442.75,438.41 L1443.00,438.14 L1443.25,438.22 L1443.50,438.30 L1443.75,438.33 L1444.00,438.24 L1444.25,438.26 L1444.50,438.06 L1444.75,438.16 L1445.00,438.32 L1445.25,438.39 L1445.50,438.28 L1445.75,438.36 L1446.00,438.24 L1446.25,438.20 L1446.50,438.18 L1446.75,438.20 L1447.00,438.28 L1447.25,438.18 L1447.50,438.36 L1447.75,438.26 L1448.00,438.15 L1448.25,438.22 L1448.50,438.40 L1448.75,438.39 L1449.00,438.45 L1449.25,438.04 L1449.50,438.44 L1449.75,438.27 L1450.00,438.03 L1450.25,438.12 L1450.50,438.09 L1450.75,438.31 L1451.00,438.16 L1451.25,437.88 L1451.50,438.25 L1451.75,438.20 L1452.00,438.29 L1452.25,438.25 L1452.50,438.20 L1452.75,438.08 L1453.00,438.36 L1453.25,438.42 L1453.50,438.25 L1453.75,438.22 L1454.00,438.08 L1454.25,438.16 L1454.50,438.32 L1454.75,438.18 L1455.00,438.11 L1455.25,438.21 L1455.50,438.29 L1455.75,438.17 L1456.00,438.29 L1456.25,438.47 L1456.50,438.09 L1456.75,438.40 L1457.00,438.29 L1457.25,438.28 L1457.50,438.29 L1457.75,438.28 L1458.00,438.42 L1458.25,438.18 L1458.50,438.24 L1458.75,438.24 L1459.00,438.12 L1459.25,438.11 L1459.50,438.08 L1459.75,438.02 L1460.00,438.19 L1460.25,438.43 L1460.50,438.22 L1460.75,438.24 L1461.00,438.24 L1461.25,438.32 L1461.50,438.35 L1461.75,438.15 L1462.00,438.13 L1462.25,438.38 L1462.50,438.18 L1462.75,438.26 L1463.00,438.29 L1463.25,438.16 L1463.50,438.25 L1463.75,438.31 L1464.00,438.23 L1464.25,438.48 L1464.50,438.31 L1464.75,438.29 L1465.00,438.41 L1465.25,438.22 L1465.50,438.21 L1465.75,438.31 L1466.00,438.26 L1466.25,438.16 L1466.50,438.11 L1466.75,438.33 L1467.00,438.20 L1467.25,438.11 L1467.50,438.24 L1467.75,438.33 L1468.00,438.33 L1468.25,438.27 L1468.50,438.36 L1468.75,437.99 L1469.00,438.30 L1469.25,438.19 L1469.50,438.21 L1469.75,438.16 L1470.00,438.28 L1470.25,438.39 L1470.50,438.03 L1470.75,438.24 L1471.00,438.22 L1471.25,438.21 L1471.50,438.08 L1471.75,438.14 L1472.00,438.09 L1472.25,438.13 L1472.50,438.21 L1472.75,438.19 L1473.00,438.31 L1473.25,438.46 L1473.50,438.25 L1473.75,438.35 L1474.00,437.91 L1474.25,438.03 L1474.50,438.08 L1474.75,438.28 L1475.00,437.97 L1475.25,438.42 L1475.50,438.36 L1475.75,438.31 L1476.00,438.33 L1476.25,438.19 L1476.50,438.19 L1476.75,437.98 L1477.00,438.09 L1477.25,438.06 L1477.50,438.15 L1477.75,438.22 L1478.00,438.28 L1478.25,438.38 L1478.50,438.30 L1478.75,438.24 L1479.00,438.10 L1479.25,438.39 L1479.50,438.35 L1479.75,438.16 L1480.00,438.30 L1480.25,438.14 L1480.50,438.22 L1480.75,438.26 L1481.00,438.32 L1481.25,438.17 L1481.50,438.24 L1481.75,438.21 L1482.00,438.21 L1482.25,438.10 L1482.50,438.09 L1482.75,438.29 L1483.00,438.09 L1483.25,437.99 L1483.50,437.87 L1483.75,437.83 L1484.00,437.74 L1484.25,437.45 L1484.50,436.14 L1484.75,433.23 L1485.00,429.22 L1485.25,424.96 L1485.50,424.43 L1485.75,428.35 L1486.00,432.53 L1486.25,435.64 L1486.50,436.88 L1486.75,437.58 L1487.00,437.93 L1487.25,437.89 L1487.50,438.09 L1487.75,438.02 L1488.00,438.00 L1488.25,438.01 L1488.50,438.00 L1488.75,438.15 L1489.00,438.26 L1489.25,438.08 L1489.50,438.14 L1489.75,438.11 L1490.00,437.76 L1490.25,437.86 L1490.50,438.00 L1490.75,438.12 L1491.00,438.08 L1491.25,437.83 L1491.50,437.69 L1491.75,437.74 L1492.00,437.46 L1492.25,437.01 L1492.50,436.13 L1492.75,435.29 L1493.00,433.55 L1493.25,432.08 L1493.50,431.31 L1493.75,431.83 L1494.00,433.19 L1494.25,434.36 L1494.50,435.38 L1494.75,435.62 L1495.00,435.64 L1495.25,435.28 L1495.50,434.78 L1495.75,433.73 L1496.00,431.90 L1496.25,430.12 L1496.50,427.77 L1496.75,425.94 L1497.00,424.97 L1497.25,424.64 L1497.50,425.31 L1497.75,426.41 L1498.00,427.27 L1498.25,427.23 L1498.50,427.16 L1498.75,426.60 L1499.00,426.22 L1499.25,424.96 L1499.50,424.40 L1499.75,423.19 L1500.00,421.98 L1500.25,421.30 L1500.50,420.29 L1500.75,419.05 L1501.00,417.58 L1501.25,416.00 L1501.50,414.00 L1501.75,410.45 L1502.00,405.77 L1502.25,399.79 L1502.50,393.21 L1502.75,387.75 L1503.00,385.20 L1503.25,387.38 L1503.50,392.61 L1503.75,399.20 L1504.00,405.38 L1504.25,409.63 L1504.50,412.25 L1504.75,413.58 L1505.00,413.72 L1505.25,412.00 L1505.50,408.94 L1505.75,404.24 L1506.00,398.31 L1506.25,391.79 L1506.50,386.33 L1506.75,384.04 L1507.00,386.34 L1507.25,392.04 L1507.50,399.13 L1507.75,405.59 L1508.00,410.19 L1508.25,412.05 L1508.50,411.22 L1508.75,407.91 L1509.00,403.75 L1509.25,400.09 L1509.50,399.00 L1509.75,401.19 L1510.00,406.21 L1510.25,412.00 L1510.50,417.30 L1510.75,421.17 L1511.00,423.28 L1511.25,422.88 L1511.50,419.03 L1511.75,411.14 L1512.00,398.06 L1512.25,378.79 L1512.50,352.82 L1512.75,321.53 L1513.00,287.47 L1513.25,255.53 L1513.50,232.74 L1513.75,226.77 L1514.00,240.29 L1514.25,267.94 L1514.50,301.75 L1514.75,335.39 L1515.00,365.04 L1515.25,388.54 L1515.50,406.28 L1515.75,417.56 L1516.00,425.15 L1516.25,429.28 L1516.50,431.64 L1516.75,433.38 L1517.00,434.44 L1517.25,434.61 L1517.50,435.03 L1517.75,435.49 L1518.00,435.68 L1518.25,436.16 L1518.50,436.12 L1518.75,436.23 L1519.00,436.50 L1519.25,436.67 L1519.50,436.67 L1519.75,436.78 L1520.00,437.10 L1520.25,436.92 L1520.50,437.06 L1520.75,437.19 L1521.00,437.11 L1521.25,437.21 L1521.50,437.27 L1521.75,437.46 L1522.00,437.33 L1522.25,437.60 L1522.50,437.51 L1522.75,437.72 L1523.00,437.74 L1523.25,437.50 L1523.50,437.58 L1523.75,437.58 L1524.00,437.53 L1524.25,437.56 L1524.50,437.72 L1524.75,437.61 L1525.00,437.63 L1525.25,437.68 L1525.50,437.63 L1525.75,437.65 L1526.00,437.67 L1526.25,437.62 L1526.50,437.54 L1526.75,437.30 L1527.00,437.62 L1527.25,437.43 L1527.50,437.63 L1527.75,437.22 L1528.00,437.39 L1528.25,437.27 L1528.50,437.06 L1528.75,437.00 L1529.00,437.19 L1529.25,436.81 L1529.50,436.73 L1529.75,436.42 L1530.00,436.21 L1530.25,435.81 L1530.50,435.42 L1530.75,434.90 L1531.00,433.98 L1531.25,433.28 L1531.50,431.78 L1531.75,430.05 L1532.00,427.79 L1532.25,425.65 L1532.50,424.23 L1532.75,424.44 L1533.00,426.06 L1533.25,428.43 L1533.50,430.35 L1533.75,432.01 L1534.00,433.42 L1534.25,434.39 L1534.50,435.10 L1534.75,435.35 L1535.00,435.93 L1535.25,436.20 L1535.50,436.50 L1535.75,436.67 L1536.00,436.80 L1536.25,436.54 L1536.50,436.89 L1536.75,436.56 L1537.00,436.44 L1537.25,436.22 L1537.50,436.06 L1537.75,435.60 L1538.00,434.82 L1538.25,434.39 L1538.50,433.45 L1538.75,432.62 L1539.00,431.64 L1539.25,430.53 L1539.50,429.58 L1539.75,428.21 L1540.00,426.74 L1540.25,425.62 L1540.50,423.91 L1540.75,422.87 L1541.00,421.58 L1541.25,420.60 L1541.50,419.49 L1541.75,418.88 L1542.00,418.30 L1542.25,418.14 L1542.50,417.84 L1542.75,418.41 L1543.00,418.65 L1543.25,419.38 L1543.50,420.28 L1543.75,421.54 L1544.00,422.51 L1544.25,423.83 L1544.50,425.29 L1544.75,426.65 L1545.00,428.06 L1545.25,429.28 L1545.50,430.68 L1545.75,431.66 L1546.00,432.71 L1546.25,433.84 L1546.50,434.79 L1546.75,435.18 L1547.00,435.77 L1547.25,436.09 L1547.50,436.62 L1547.75,437.01 L1548.00,437.37 L1548.25,437.41 L1548.50,437.62 L1548.75,437.80 L1549.00,437.77 L1549.25,437.69 L1549.50,437.85 L1549.75,438.01 L1550.00,437.86 L1550.25,438.04 L1550.50,438.11 L1550.75,437.86 L1551.00,437.98 L1551.25,437.77 L1551.50,437.86 L1551.75,437.98 L1552.00,437.84 L1552.25,437.70 L1552.50,437.86 L1552.75,437.94 L1553.00,437.87 L1553.25,437.85 L1553.50,437.86 L1553.75,437.83 L1554.00,437.57 L1554.25,437.42 L1554.50,437.50 L1554.75,437.20 L1555.00,436.89 L1555.25,436.20 L1555.50,435.27 L1555.75,433.19 L1556.00,429.71 L1556.25,424.99 L1556.50,419.24 L1556.75,413.55 L1557.00,410.23 L1557.25,410.56 L1557.50,414.78 L1557.75,420.36 L1558.00,425.96 L1558.25,430.42 L1558.50,433.39 L1558.75,435.21 L1559.00,435.98 L1559.25,436.18 L1559.50,436.19 L1559.75,435.04 L1560.00,433.76 L1560.25,430.77 L1560.50,427.01 L1560.75,422.86 L1561.00,418.84 L1561.25,416.78 L1561.50,417.55 L1561.75,421.49 L1562.00,425.58 L1562.25,429.75 L1562.50,432.66 L1562.75,434.64 L1563.00,435.89 L1563.25,436.61 L1563.50,436.97 L1563.75,437.25 L1564.00,437.08 L1564.25,437.20 L1564.50,437.39 L1564.75,437.46 L1565.00,437.38 L1565.25,437.18 L1565.50,437.15 L1565.75,437.09 L1566.00,437.36 L1566.25,437.28 L1566.50,437.05 L1566.75,437.15 L1567.00,437.05 L1567.25,437.26 L1567.50,437.10 L1567.75,437.01 L1568.00,436.99 L1568.25,436.93 L1568.50,437.01 L1568.75,436.54 L1569.00,436.63 L1569.25,436.73 L1569.50,436.32 L1569.75,436.32 L1570.00,436.11 L1570.25,436.07 L1570.50,435.97 L1570.75,435.77 L1571.00,435.42 L1571.25,435.12 L1571.50,434.85 L1571.75,434.47 L1572.00,433.94 L1572.25,433.44 L1572.50,432.48 L1572.75,431.16 L1573.00,429.23 L1573.25,426.08 L1573.50,421.18 L1573.75,413.81 L1574.00,403.03 L1574.25,387.73 L1574.50,368.29 L1574.75,344.11 L1575.00,315.68 L1575.25,285.26 L1575.50,255.16 L1575.75,228.81 L1576.00,211.44 L1576.25,206.97 L1576.50,216.80 L1576.75,238.45 L1577.00,266.92 L1577.25,297.48 L1577.50,327.19 L1577.75,354.05 L1578.00,376.48 L1578.25,393.88 L1578.50,407.31 L1578.75,416.76 L1579.00,422.90 L1579.25,426.76 L1579.50,429.58 L1579.75,431.19 L1580.00,432.61 L1580.25,433.11 L1580.50,433.38 L1580.75,433.93 L1581.00,433.99 L1581.25,434.30 L1581.50,434.47 L1581.75,434.44 L1582.00,434.79 L1582.25,434.85 L1582.50,434.82 L1582.75,434.82 L1583.00,435.04 L1583.25,434.65 L1583.50,434.71 L1583.75,434.67 L1584.00,434.46 L1584.25,434.44 L1584.50,434.07 L1584.75,434.00 L1585.00,433.66 L1585.25,433.53 L1585.50,433.06 L1585.75,432.47 L1586.00,431.94 L1586.25,430.93 L1586.50,429.43 L1586.75,427.12 L1587.00,423.87 L1587.25,418.88 L1587.50,411.61 L1587.75,401.00 L1588.00,386.37 L1588.25,367.28 L1588.50,342.91 L1588.75,313.62 L1589.00,280.58 L1589.25,244.56 L1589.50,208.82 L1589.75,176.77 L1590.00,153.12 L1590.25,142.11 L1590.50,147.06 L1590.75,166.15 L1591.00,195.26 L1591.25,230.35 L1591.50,266.33 L1591.75,300.93 L1592.00,332.00 L1592.25,358.45 L1592.50,379.60 L1592.75,396.20 L1593.00,408.31 L1593.25,416.65 L1593.50,422.71 L1593.75,426.45 L1594.00,429.09 L1594.25,430.90 L1594.50,432.03 L1594.75,432.83 L1595.00,433.39 L1595.25,434.00 L1595.50,434.35 L1595.75,434.83 L1596.00,434.98 L1596.25,435.43 L1596.50,435.44 L1596.75,435.69 L1597.00,435.56 L1597.25,435.82 L1597.50,436.14 L1597.75,436.14 L1598.00,436.34 L1598.25,436.62 L1598.50,436.87 L1598.75,436.54 L1599.00,436.71 L1599.25,437.07 L1599.50,436.83 L1599.75,436.87 L1600.00,437.12 L1600.25,437.00 L1600.50,437.35 L1600.75,437.22 L1601.00,437.24 L1601.25,437.19 L1601.50,437.28 L1601.75,437.34 L1602.00,437.34 L1602.25,437.52 L1602.50,437.29 L1602.75,437.54 L1603.00,437.43 L1603.25,437.55 L1603.50,437.61 L1603.75,437.53 L1604.00,437.57 L1604.25,437.49 L1604.50,437.54 L1604.75,437.76 L1605.00,437.65 L1605.25,437.71 L1605.50,437.84 L1605.75,437.89 L1606.00,437.74 L1606.25,437.85 L1606.50,437.97 L1606.75,437.82 L1607.00,437.80 L1607.25,437.83 L1607.50,438.00 L1607.75,437.93 L1608.00,437.71 L1608.25,437.98 L1608.50,437.93 L1608.75,437.63 L1609.00,437.87 L1609.25,437.98 L1609.50,438.16 L1609.75,437.90 L1610.00,438.11 L1610.25,437.96 L1610.50,438.07 L1610.75,438.17 L1611.00,437.78 L1611.25,438.00 L1611.50,437.88 L1611.75,437.91 L1612.00,438.09 L1612.25,438.00 L1612.50,438.06 L1612.75,437.90 L1613.00,437.97 L1613.25,438.07 L1613.50,437.84 L1613.75,437.98 L1614.00,437.99 L1614.25,438.14 L1614.50,438.01 L1614.75,438.23 L1615.00,438.01 L1615.25,438.18 L1615.50,438.05 L1615.75,438.11 L1616.00,438.05 L1616.25,438.04 L1616.50,438.09 L1616.75,438.10 L1617.00,438.27 L1617.25,438.32 L1617.50,437.95 L1617.75,438.03 L1618.00,438.28 L1618.25,437.88 L1618.50,438.20 L1618.75,438.05 L1619.00,438.07 L1619.25,438.11 L1619.50,438.05 L1619.75,438.29 L1620.00,438.13 L1620.25,438.16 L1620.50,438.12 L1620.75,438.17 L1621.00,438.21 L1621.25,438.23 L1621.50,438.03 L1621.75,438.24 L1622.00,438.10 L1622.25,438.10 L1622.50,438.16 L1622.75,438.10 L1623.00,438.09 L1623.25,438.22 L1623.50,438.11 L1623.75,437.93 L1624.00,438.29 L1624.25,438.20 L1624.50,438.25 L1624.75,437.92 L1625.00,438.33 L1625.25,438.16 L1625.50,438.06 L1625.75,438.27 L1626.00,438.19 L1626.25,438.26 L1626.50,438.33 L1626.75,438.18 L1627.00,438.12 L1627.25,438.22 L1627.50,438.16 L1627.75,438.10 L1628.00,438.04 L1628.25,438.33 L1628.50,438.11 L1628.75,438.26 L1629.00,438.41 L1629.25,438.28 L1629.50,438.11 L1629.75,438.15 L1630.00,438.32 L1630.25,437.99 L1630.50,438.14 L1630.75,438.20 L1631.00,438.25 L1631.25,438.14 L1631.50,438.24 L1631.75,438.06 L1632.00,438.15 L1632.25,438.12 L1632.50,438.23 L1632.75,438.37 L1633.00,438.13 L1633.25,438.32 L1633.50,438.21 L1633.75,438.20 L1634.00,438.29 L1634.25,438.09 L1634.50,438.37 L1634.75,438.02 L1635.00,438.27 L1635.25,438.08 L1635.50,438.04 L1635.75,438.30 L1636.00,438.28 L1636.25,438.08 L1636.50,438.17 L1636.75,438.19 L1637.00,438.41 L1637.25,438.39 L1637.50,438.13 L1637.75,438.02 L1638.00,438.28 L1638.25,438.30 L1638.50,438.17 L1638.75,438.14 L1639.00,438.12 L1639.25,438.24 L1639.50,438.42 L1639.75,438.02 L1640.00,438.25 L1640.25,438.04 L1640.50,438.42 L1640.75,438.14 L1641.00,438.24 L1641.25,438.31 L1641.50,438.06 L1641.75,438.02 L1642.00,438.24 L1642.25,438.09 L1642.50,438.30 L1642.75,438.24 L1643.00,438.19 L1643.25,438.20 L1643.50,438.08 L1643.75,438.29 L1644.00,438.03 L1644.25,438.02 L1644.50,438.16 L1644.75,438.27 L1645.00,438.40 L1645.25,438.12 L1645.50,438.19 L1645.75,438.08 L1646.00,438.21 L1646.25,438.07 L1646.50,438.06 L1646.75,438.03 L1647.00,437.98 L1647.25,437.96 L1647.50,437.85 L1647.75,438.03 L1648.00,437.82 L1648.25,437.84 L1648.50,437.86 L1648.75,437.87 L1649.00,437.51 L1649.25,437.56 L1649.50,437.54 L1649.75,437.33 L1650.00,437.15 L1650.25,436.97 L1650.50,436.74 L1650.75,436.10 L1651.00,435.47 L1651.25,434.50 L1651.50,432.86 L1651.75,430.89 L1652.00,427.81 L1652.25,424.85 L1652.50,424.44 L1652.75,426.98 L1653.00,430.10 L1653.25,432.86 L1653.50,434.16 L1653.75,435.24 L1654.00,435.93 L1654.25,436.58 L1654.50,436.80 L1654.75,437.00 L1655.00,437.12 L1655.25,437.43 L1655.50,437.74 L1655.75,437.67 L1656.00,437.67 L1656.25,437.75 L1656.50,437.63 L1656.75,437.93 L1657.00,438.06 L1657.25,438.05 L1657.50,437.92 L1657.75,438.12 L1658.00,438.17 L1658.25,438.16 L1658.50,437.93 L1658.75,438.06" fill="none" stroke="#C80014" stroke-width="2.0" stroke-linejoin="miter" stroke-linecap="round" clip-path="url(#cb)"/>
<line x1="1083.00" y1="426.30" x2="1083.00" y2="9.00" stroke="#C80014" stroke-width="2.0" stroke-linecap="butt"/>
<line x1="1373.20" y1="400.30" x2="1373.20" y2="9.00" stroke="#C80014" stroke-width="2.0" stroke-linecap="butt"/>
<line x1="1532.60" y1="426.30" x2="1532.60" y2="9.00" stroke="#C80014" stroke-width="2.0" stroke-linecap="butt"/>
<line x1="1652.40" y1="426.30" x2="1652.40" y2="9.00" stroke="#C80014" stroke-width="2.0" stroke-linecap="butt"/>
<path d="M947.00,367.18 L947.25,367.26 L947.50,367.25 L947.75,367.49 L948.00,366.98 L948.25,367.06 L948.50,367.24 L948.75,367.11 L949.00,367.17 L949.25,367.27 L949.50,367.08 L949.75,367.24 L950.00,367.24 L950.25,367.29 L950.50,367.14 L950.75,367.21 L951.00,367.13 L951.25,367.27 L951.50,367.18 L951.75,367.31 L952.00,367.10 L952.25,367.18 L952.50,367.16 L952.75,367.15 L953.00,367.32 L953.25,367.10 L953.50,366.95 L953.75,367.40 L954.00,367.41 L954.25,367.38 L954.50,367.10 L954.75,367.18 L955.00,367.07 L955.25,367.11 L955.50,367.17 L955.75,367.16 L956.00,367.22 L956.25,367.09 L956.50,367.33 L956.75,367.25 L957.00,367.17 L957.25,366.98 L957.50,367.29 L957.75,367.33 L958.00,367.27 L958.25,367.08 L958.50,367.23 L958.75,367.04 L959.00,367.42 L959.25,367.06 L959.50,367.07 L959.75,367.37 L960.00,367.18 L960.25,367.05 L960.50,367.19 L960.75,367.08 L961.00,366.91 L961.25,367.17 L961.50,367.23 L961.75,367.29 L962.00,367.12 L962.25,367.22 L962.50,367.22 L962.75,367.21 L963.00,367.12 L963.25,367.33 L963.50,367.38 L963.75,367.49 L964.00,367.05 L964.25,367.19 L964.50,367.02 L964.75,367.20 L965.00,367.29 L965.25,367.14 L965.50,367.21 L965.75,367.35 L966.00,367.30 L966.25,366.99 L966.50,367.16 L966.75,367.15 L967.00,367.23 L967.25,367.28 L967.50,367.09 L967.75,367.21 L968.00,367.29 L968.25,367.21 L968.50,367.31 L968.75,367.18 L969.00,367.06 L969.25,367.30 L969.50,367.03 L969.75,367.28 L970.00,367.18 L970.25,367.30 L970.50,367.23 L970.75,367.19 L971.00,367.25 L971.25,367.28 L971.50,367.28 L971.75,367.30 L972.00,367.39 L972.25,367.23 L972.50,367.15 L972.75,367.09 L973.00,367.12 L973.25,366.90 L973.50,367.16 L973.75,367.25 L974.00,366.97 L974.25,367.32 L974.50,367.08 L974.75,367.31 L975.00,367.16 L975.25,367.43 L975.50,367.09 L975.75,367.22 L976.00,367.31 L976.25,367.00 L976.50,367.11 L976.75,367.19 L977.00,367.29 L977.25,367.20 L977.50,367.22 L977.75,367.11 L978.00,367.10 L978.25,367.28 L978.50,367.26 L978.75,367.26 L979.00,367.36 L979.25,367.27 L979.50,367.21 L979.75,367.12 L980.00,367.04 L980.25,367.30 L980.50,367.13 L980.75,367.25 L981.00,366.95 L981.25,367.20 L981.50,367.14 L981.75,367.31 L982.00,367.30 L982.25,367.17 L982.50,367.24 L982.75,367.16 L983.00,367.39 L983.25,367.12 L983.50,367.31 L983.75,366.99 L984.00,367.23 L984.25,367.07 L984.50,367.37 L984.75,367.15 L985.00,367.30 L985.25,367.26 L985.50,367.20 L985.75,367.24 L986.00,367.17 L986.25,367.11 L986.50,367.12 L986.75,367.21 L987.00,367.36 L987.25,367.29 L987.50,367.22 L987.75,367.45 L988.00,367.11 L988.25,367.23 L988.50,367.23 L988.75,367.08 L989.00,367.12 L989.25,367.17 L989.50,367.32 L989.75,367.16 L990.00,367.16 L990.25,367.30 L990.50,367.07 L990.75,367.14 L991.00,367.43 L991.25,367.18 L991.50,367.35 L991.75,367.06 L992.00,367.10 L992.25,367.33 L992.50,367.30 L992.75,367.19 L993.00,367.23 L993.25,367.02 L993.50,367.11 L993.75,367.23 L994.00,367.13 L994.25,367.44 L994.50,367.16 L994.75,367.09 L995.00,367.22 L995.25,367.28 L995.50,367.13 L995.75,366.96 L996.00,367.17 L996.25,367.33 L996.50,367.02 L996.75,367.42 L997.00,367.14 L997.25,367.27 L997.50,367.09 L997.75,367.30 L998.00,367.04 L998.25,367.16 L998.50,367.41 L998.75,367.43 L999.00,367.24 L999.25,367.04 L999.50,367.18 L999.75,367.19 L1000.00,367.23 L1000.25,367.11 L1000.50,367.15 L1000.75,367.16 L1001.00,367.32 L1001.25,367.06 L1001.50,367.03 L1001.75,367.35 L1002.00,366.92 L1002.25,367.11 L1002.50,367.26 L1002.75,367.43 L1003.00,367.12 L1003.25,367.13 L1003.50,367.27 L1003.75,367.41 L1004.00,367.06 L1004.25,367.27 L1004.50,367.25 L1004.75,366.86 L1005.00,366.94 L1005.25,367.08 L1005.50,367.25 L1005.75,367.12 L1006.00,367.47 L1006.25,367.18 L1006.50,367.29 L1006.75,367.35 L1007.00,367.39 L1007.25,367.13 L1007.50,367.19 L1007.75,367.18 L1008.00,367.10 L1008.25,367.30 L1008.50,367.35 L1008.75,367.41 L1009.00,367.24 L1009.25,367.11 L1009.50,367.22 L1009.75,367.12 L1010.00,367.34 L1010.25,367.25 L1010.50,367.29 L1010.75,367.35 L1011.00,366.97 L1011.25,367.10 L1011.50,367.29 L1011.75,367.29 L1012.00,367.20 L1012.25,367.37 L1012.50,367.14 L1012.75,367.35 L1013.00,367.24 L1013.25,367.32 L1013.50,367.25 L1013.75,367.36 L1014.00,367.39 L1014.25,367.31 L1014.50,367.28 L1014.75,367.23 L1015.00,367.19 L1015.25,367.01 L1015.50,367.10 L1015.75,367.23 L1016.00,367.11 L1016.25,367.28 L1016.50,367.02 L1016.75,367.13 L1017.00,367.36 L1017.25,367.11 L1017.50,367.10 L1017.75,367.52 L1018.00,367.29 L1018.25,367.25 L1018.50,367.43 L1018.75,367.32 L1019.00,367.31 L1019.25,367.14 L1019.50,367.16 L1019.75,366.88 L1020.00,367.24 L1020.25,367.06 L1020.50,367.19 L1020.75,367.16 L1021.00,367.34 L1021.25,367.43 L1021.50,367.29 L1021.75,367.11 L1022.00,367.01 L1022.25,367.12 L1022.50,367.14 L1022.75,367.30 L1023.00,367.01 L1023.25,367.04 L1023.50,367.26 L1023.75,367.20 L1024.00,367.32 L1024.25,367.02 L1024.50,367.15 L1024.75,367.21 L1025.00,367.15 L1025.25,367.14 L1025.50,367.25 L1025.75,367.35 L1026.00,367.35 L1026.25,367.40 L1026.50,367.14 L1026.75,366.93 L1027.00,367.40 L1027.25,367.18 L1027.50,367.15 L1027.75,367.31 L1028.00,367.17 L1028.25,367.33 L1028.50,367.05 L1028.75,367.27 L1029.00,367.18 L1029.25,367.11 L1029.50,367.25 L1029.75,367.41 L1030.00,367.26 L1030.25,367.10 L1030.50,367.21 L1030.75,367.17 L1031.00,367.32 L1031.25,367.18 L1031.50,367.11 L1031.75,367.19 L1032.00,366.97 L1032.25,367.22 L1032.50,367.32 L1032.75,367.39 L1033.00,367.06 L1033.25,367.20 L1033.50,367.07 L1033.75,367.14 L1034.00,367.00 L1034.25,367.04 L1034.50,367.24 L1034.75,367.16 L1035.00,367.06 L1035.25,367.34 L1035.50,367.02 L1035.75,367.05 L1036.00,367.08 L1036.25,367.22 L1036.50,367.16 L1036.75,367.33 L1037.00,367.19 L1037.25,367.26 L1037.50,367.18 L1037.75,367.25 L1038.00,367.16 L1038.25,367.05 L1038.50,367.35 L1038.75,367.08 L1039.00,367.43 L1039.25,367.45 L1039.50,367.21 L1039.75,367.19 L1040.00,367.14 L1040.25,367.39 L1040.50,367.20 L1040.75,367.18 L1041.00,367.04 L1041.25,367.21 L1041.50,367.13 L1041.75,367.31 L1042.00,367.21 L1042.25,367.25 L1042.50,367.11 L1042.75,367.31 L1043.00,367.29 L1043.25,367.12 L1043.50,366.98 L1043.75,367.15 L1044.00,367.16 L1044.25,367.23 L1044.50,367.06 L1044.75,367.13 L1045.00,366.98 L1045.25,367.15 L1045.50,367.30 L1045.75,367.26 L1046.00,367.31 L1046.25,367.34 L1046.50,367.04 L1046.75,367.09 L1047.00,367.34 L1047.25,366.98 L1047.50,367.16 L1047.75,367.30 L1048.00,367.14 L1048.25,367.20 L1048.50,367.28 L1048.75,367.42 L1049.00,367.18 L1049.25,367.15 L1049.50,367.50 L1049.75,367.12 L1050.00,367.11 L1050.25,367.24 L1050.50,367.17 L1050.75,367.22 L1051.00,367.29 L1051.25,367.23 L1051.50,367.02 L1051.75,367.36 L1052.00,367.16 L1052.25,367.16 L1052.50,367.27 L1052.75,367.24 L1053.00,367.35 L1053.25,367.29 L1053.50,367.18 L1053.75,367.14 L1054.00,367.29 L1054.25,366.81 L1054.50,367.25 L1054.75,367.17 L1055.00,367.21 L1055.25,367.23 L1055.50,367.02 L1055.75,367.24 L1056.00,367.02 L1056.25,367.04 L1056.50,367.30 L1056.75,367.05 L1057.00,367.25 L1057.25,366.84 L1057.50,367.22 L1057.75,367.28 L1058.00,367.40 L1058.25,367.32 L1058.50,367.23 L1058.75,367.28 L1059.00,367.30 L1059.25,367.23 L1059.50,367.17 L1059.75,366.96 L1060.00,367.32 L1060.25,367.17 L1060.50,367.18 L1060.75,367.16 L1061.00,366.82 L1061.25,365.93 L1061.50,364.18 L1061.75,362.60 L1062.00,362.42 L1062.25,363.83 L1062.50,365.53 L1062.75,366.57 L1063.00,366.88 L1063.25,367.14 L1063.50,367.01 L1063.75,367.04 L1064.00,367.16 L1064.25,367.26 L1064.50,366.93 L1064.75,367.11 L1065.00,366.75 L1065.25,367.20 L1065.50,367.01 L1065.75,367.17 L1066.00,367.08 L1066.25,367.01 L1066.50,367.20 L1066.75,367.10 L1067.00,367.06 L1067.25,367.06 L1067.50,366.99 L1067.75,366.92 L1068.00,366.92 L1068.25,366.96 L1068.50,366.99 L1068.75,367.03 L1069.00,366.87 L1069.25,366.56 L1069.50,365.47 L1069.75,363.06 L1070.00,358.48 L1070.25,353.15 L1070.50,352.62 L1070.75,357.19 L1071.00,361.97 L1071.25,364.37 L1071.50,364.44 L1071.75,361.24 L1072.00,355.97 L1072.25,352.12 L1072.50,354.14 L1072.75,359.42 L1073.00,363.47 L1073.25,365.82 L1073.50,366.41 L1073.75,366.62 L1074.00,366.84 L1074.25,366.77 L1074.50,366.89 L1074.75,366.91 L1075.00,366.96 L1075.25,366.70 L1075.50,366.80 L1075.75,366.74 L1076.00,366.60 L1076.25,365.70 L1076.50,364.47 L1076.75,361.87 L1077.00,357.77 L1077.25,353.35 L1077.50,350.91 L1077.75,353.10 L1078.00,357.79 L1078.25,361.61 L1078.50,364.33 L1078.75,365.84 L1079.00,366.29 L1079.25,366.43 L1079.50,366.38 L1079.75,366.39 L1080.00,366.50 L1080.25,366.03 L1080.50,366.02 L1080.75,365.71 L1081.00,365.43 L1081.25,365.21 L1081.50,364.58 L1081.75,363.70 L1082.00,362.44 L1082.25,360.65 L1082.50,357.95 L1082.75,354.73 L1083.00,353.25 L1083.25,354.81 L1083.50,358.14 L1083.75,360.64 L1084.00,362.69 L1084.25,363.89 L1084.50,364.67 L1084.75,365.20 L1085.00,365.42 L1085.25,365.92 L1085.50,366.33 L1085.75,366.31 L1086.00,366.53 L1086.25,366.51 L1086.50,366.72 L1086.75,366.80 L1087.00,366.83 L1087.25,366.89 L1087.50,367.07 L1087.75,366.97 L1088.00,366.92 L1088.25,366.80 L1088.50,367.00 L1088.75,367.03 L1089.00,366.93 L1089.25,366.95 L1089.50,366.83 L1089.75,366.96 L1090.00,367.04 L1090.25,366.87 L1090.50,366.82 L1090.75,367.00 L1091.00,366.80 L1091.25,366.79 L1091.50,366.27 L1091.75,365.76 L1092.00,364.85 L1092.25,363.74 L1092.50,362.21 L1092.75,360.33 L1093.00,358.02 L1093.25,355.49 L1093.50,352.75 L1093.75,349.83 L1094.00,346.43 L1094.25,343.32 L1094.50,340.57 L1094.75,337.66 L1095.00,335.37 L1095.25,333.13 L1095.50,331.04 L1095.75,329.22 L1096.00,328.20 L1096.25,327.14 L1096.50,326.05 L1096.75,325.89 L1097.00,325.18 L1097.25,324.92 L1097.50,324.83 L1097.75,324.68 L1098.00,324.32 L1098.25,324.74 L1098.50,324.61 L1098.75,324.57 L1099.00,324.58 L1099.25,324.61 L1099.50,324.20 L1099.75,324.31 L1100.00,324.51 L1100.25,324.38 L1100.50,324.31 L1100.75,324.46 L1101.00,324.94 L1101.25,325.19 L1101.50,325.75 L1101.75,326.54 L1102.00,327.58 L1102.25,329.14 L1102.50,330.24 L1102.75,332.23 L1103.00,334.03 L1103.25,336.07 L1103.50,338.68 L1103.75,341.08 L1104.00,343.02 L1104.25,345.18 L1104.50,347.02 L1104.75,348.59 L1105.00,349.45 L1105.25,350.57 L1105.50,351.24 L1105.75,351.43 L1106.00,351.62 L1106.25,351.45 L1106.50,351.45 L1106.75,351.44 L1107.00,351.20 L1107.25,351.38 L1107.50,351.32 L1107.75,351.44 L1108.00,351.91 L1108.25,352.30 L1108.50,352.62 L1108.75,353.03 L1109.00,353.68 L1109.25,354.26 L1109.50,354.91 L1109.75,355.54 L1110.00,356.20 L1110.25,357.08 L1110.50,357.80 L1110.75,358.48 L1111.00,359.32 L1111.25,359.98 L1111.50,360.67 L1111.75,361.45 L1112.00,362.21 L1112.25,362.89 L1112.50,363.20 L1112.75,363.87 L1113.00,364.62 L1113.25,365.04 L1113.50,365.12 L1113.75,365.52 L1114.00,365.98 L1114.25,366.11 L1114.50,366.63 L1114.75,366.62 L1115.00,366.67 L1115.25,367.08 L1115.50,367.03 L1115.75,366.90 L1116.00,366.90 L1116.25,367.14 L1116.50,367.04 L1116.75,366.89 L1117.00,367.12 L1117.25,367.23 L1117.50,367.06 L1117.75,367.07 L1118.00,366.83 L1118.25,366.93 L1118.50,367.00 L1118.75,366.56 L1119.00,366.85 L1119.25,366.66 L1119.50,366.55 L1119.75,366.45 L1120.00,366.42 L1120.25,366.27 L1120.50,366.23 L1120.75,366.26 L1121.00,365.99 L1121.25,365.84 L1121.50,365.70 L1121.75,365.51 L1122.00,365.45 L1122.25,365.06 L1122.50,364.88 L1122.75,365.19 L1123.00,364.79 L1123.25,364.74 L1123.50,364.85 L1123.75,364.39 L1124.00,364.42 L1124.25,364.32 L1124.50,364.30 L1124.75,364.05 L1125.00,364.02 L1125.25,364.13 L1125.50,364.10 L1125.75,364.24 L1126.00,364.26 L1126.25,364.43 L1126.50,364.41 L1126.75,364.58 L1127.00,364.53 L1127.25,364.56 L1127.50,364.70 L1127.75,364.67 L1128.00,364.54 L1128.25,365.15 L1128.50,364.91 L1128.75,364.97 L1129.00,364.90 L1129.25,364.93 L1129.50,364.63 L1129.75,364.49 L1130.00,364.31 L1130.25,363.98 L1130.50,363.69 L1130.75,363.50 L1131.00,362.64 L1131.25,362.29 L1131.50,361.79 L1131.75,361.00 L1132.00,360.41 L1132.25,359.84 L1132.50,358.67 L1132.75,358.13 L1133.00,357.06 L1133.25,356.10 L1133.50,355.01 L1133.75,354.08 L1134.00,353.25 L1134.25,352.42 L1134.50,351.46 L1134.75,350.40 L1135.00,349.48 L1135.25,348.87 L1135.50,348.31 L1135.75,347.50 L1136.00,347.15 L1136.25,346.74 L1136.50,346.42 L1136.75,346.12 L1137.00,346.08 L1137.25,346.02 L1137.50,346.13 L1137.75,346.48 L1138.00,347.18 L1138.25,347.55 L1138.50,347.86 L1138.75,348.48 L1139.00,348.87 L1139.25,349.82 L1139.50,350.55 L1139.75,351.15 L1140.00,351.85 L1140.25,352.71 L1140.50,353.28 L1140.75,354.08 L1141.00,354.60 L1141.25,354.81 L1141.50,355.51 L1141.75,355.53 L1142.00,355.76 L1142.25,355.85 L1142.50,355.84 L1142.75,355.80 L1143.00,355.95 L1143.25,355.56 L1143.50,355.18 L1143.75,354.61 L1144.00,354.43 L1144.25,353.91 L1144.50,353.39 L1144.75,352.70 L1145.00,352.56 L1145.25,352.11 L1145.50,351.47 L1145.75,351.45 L1146.00,350.87 L1146.25,350.75 L1146.50,350.75 L1146.75,350.56 L1147.00,350.65 L1147.25,350.61 L1147.50,350.77 L1147.75,350.88 L1148.00,351.36 L1148.25,351.71 L1148.50,352.18 L1148.75,352.55 L1149.00,352.86 L1149.25,353.68 L1149.50,353.83 L1149.75,354.43 L1150.00,354.80 L1150.25,355.20 L1150.50,355.56 L1150.75,356.04 L1151.00,356.50 L1151.25,356.80 L1151.50,357.21 L1151.75,357.60 L1152.00,357.93 L1152.25,358.23 L1152.50,358.71 L1152.75,359.11 L1153.00,359.71 L1153.25,360.00 L1153.50,360.65 L1153.75,360.80 L1154.00,361.47 L1154.25,361.67 L1154.50,361.94 L1154.75,362.81 L1155.00,363.05 L1155.25,363.60 L1155.50,364.13 L1155.75,364.55 L1156.00,364.75 L1156.25,364.98 L1156.50,365.41 L1156.75,365.91 L1157.00,366.09 L1157.25,366.20 L1157.50,366.20 L1157.75,366.48 L1158.00,366.61 L1158.25,366.62 L1158.50,366.88 L1158.75,366.94 L1159.00,367.01 L1159.25,367.25 L1159.50,367.02 L1159.75,367.06 L1160.00,367.01 L1160.25,367.29 L1160.50,367.26 L1160.75,367.06 L1161.00,367.14 L1161.25,367.02 L1161.50,367.29 L1161.75,367.17 L1162.00,367.27 L1162.25,367.16 L1162.50,367.25 L1162.75,367.13 L1163.00,367.07 L1163.25,367.12 L1163.50,367.41 L1163.75,367.08 L1164.00,367.14 L1164.25,367.32 L1164.50,367.30 L1164.75,367.20 L1165.00,367.13 L1165.25,367.25 L1165.50,367.39 L1165.75,367.16 L1166.00,367.18 L1166.25,366.90 L1166.50,367.35 L1166.75,366.89 L1167.00,366.99 L1167.25,367.16 L1167.50,367.00 L1167.75,367.19 L1168.00,367.08 L1168.25,367.28 L1168.50,367.19 L1168.75,367.32 L1169.00,367.39 L1169.25,367.23 L1169.50,367.28 L1169.75,367.13 L1170.00,367.04 L1170.25,367.22 L1170.50,367.19 L1170.75,367.17 L1171.00,367.40 L1171.25,367.16 L1171.50,367.20 L1171.75,367.20 L1172.00,367.33 L1172.25,367.43 L1172.50,367.23 L1172.75,367.16 L1173.00,367.04 L1173.25,367.06 L1173.50,367.02 L1173.75,367.15 L1174.00,367.06 L1174.25,367.22 L1174.50,367.12 L1174.75,367.08 L1175.00,366.87 L1175.25,367.17 L1175.50,367.35 L1175.75,367.03 L1176.00,367.29 L1176.25,367.20 L1176.50,367.23 L1176.75,367.31 L1177.00,367.04 L1177.25,367.12 L1177.50,367.27 L1177.75,367.19 L1178.00,367.25 L1178.25,367.12 L1178.50,367.24 L1178.75,367.29 L1179.00,367.27 L1179.25,367.25 L1179.50,367.16 L1179.75,367.31 L1180.00,367.21 L1180.25,367.14 L1180.50,366.92 L1180.75,367.09 L1181.00,367.55 L1181.25,367.26 L1181.50,367.24 L1181.75,367.16 L1182.00,367.01 L1182.25,367.11 L1182.50,367.47 L1182.75,367.16 L1183.00,367.18 L1183.25,367.15 L1183.50,367.03 L1183.75,367.33 L1184.00,367.06 L1184.25,367.39 L1184.50,367.19 L1184.75,367.15 L1185.00,366.92 L1185.25,367.28 L1185.50,367.40 L1185.75,367.11 L1186.00,367.27 L1186.25,367.01 L1186.50,367.28 L1186.75,367.30 L1187.00,367.05 L1187.25,367.18 L1187.50,367.07 L1187.75,367.37 L1188.00,367.00 L1188.25,367.26 L1188.50,367.10 L1188.75,367.31 L1189.00,367.38 L1189.25,367.22 L1189.50,367.17 L1189.75,367.00 L1190.00,367.15 L1190.25,367.11 L1190.50,367.11 L1190.75,366.82 L1191.00,367.29 L1191.25,367.04 L1191.50,367.21 L1191.75,367.16 L1192.00,367.26 L1192.25,367.05 L1192.50,367.34 L1192.75,367.35 L1193.00,367.21 L1193.25,367.33 L1193.50,367.10 L1193.75,367.08 L1194.00,367.28 L1194.25,367.09 L1194.50,367.26 L1194.75,367.19 L1195.00,367.18 L1195.25,366.96 L1195.50,367.18 L1195.75,367.29 L1196.00,367.29 L1196.25,367.03 L1196.50,367.37 L1196.75,367.22 L1197.00,367.21 L1197.25,367.45 L1197.50,367.21 L1197.75,367.02 L1198.00,367.10 L1198.25,367.22 L1198.50,367.01 L1198.75,367.00 L1199.00,366.76 L1199.25,366.94 L1199.50,366.28 L1199.75,364.27 L1200.00,360.56 L1200.25,357.29 L1200.50,358.93 L1200.75,363.02 L1201.00,365.84 L1201.25,366.73 L1201.50,367.09 L1201.75,367.11 L1202.00,367.07 L1202.25,366.94 L1202.50,366.86 L1202.75,366.94 L1203.00,366.17 L1203.25,364.16 L1203.50,360.54 L1203.75,357.50 L1204.00,359.18 L1204.25,362.86 L1204.50,365.56 L1204.75,366.66 L1205.00,367.09 L1205.25,366.87 L1205.50,366.94 L1205.75,367.12 L1206.00,367.16 L1206.25,367.38 L1206.50,367.06 L1206.75,367.35 L1207.00,367.08 L1207.25,367.08 L1207.50,367.16 L1207.75,366.99 L1208.00,367.22 L1208.25,367.11 L1208.50,367.09 L1208.75,367.15 L1209.00,367.23 L1209.25,367.04 L1209.50,367.14 L1209.75,367.21 L1210.00,367.21 L1210.25,367.17 L1210.50,366.92 L1210.75,367.18 L1211.00,367.22 L1211.25,367.32 L1211.50,367.34 L1211.75,367.42 L1212.00,367.16 L1212.25,367.19 L1212.50,367.32 L1212.75,367.37 L1213.00,367.23 L1213.25,367.26 L1213.50,367.36 L1213.75,367.16 L1214.00,367.18 L1214.25,367.20 L1214.50,367.10 L1214.75,367.27 L1215.00,367.03 L1215.25,367.32 L1215.50,367.13 L1215.75,367.12 L1216.00,367.23 L1216.25,367.15 L1216.50,367.35 L1216.75,367.38 L1217.00,367.22 L1217.25,367.28 L1217.50,367.13 L1217.75,367.19 L1218.00,367.12 L1218.25,367.16 L1218.50,367.17 L1218.75,367.19 L1219.00,367.24 L1219.25,367.25 L1219.50,366.95 L1219.75,367.41 L1220.00,367.22 L1220.25,367.08 L1220.50,367.15 L1220.75,367.03 L1221.00,367.13 L1221.25,367.35 L1221.50,367.24 L1221.75,367.37 L1222.00,367.08 L1222.25,367.02 L1222.50,367.25 L1222.75,367.13 L1223.00,367.25 L1223.25,367.37 L1223.50,367.25 L1223.75,367.39 L1224.00,367.27 L1224.25,367.17 L1224.50,367.11 L1224.75,367.04 L1225.00,367.24 L1225.25,367.17 L1225.50,367.15 L1225.75,367.13 L1226.00,367.54 L1226.25,367.29 L1226.50,367.10 L1226.75,367.33 L1227.00,367.17 L1227.25,367.10 L1227.50,367.43 L1227.75,367.22 L1228.00,367.17 L1228.25,367.20 L1228.50,367.38 L1228.75,367.16 L1229.00,367.27 L1229.25,367.10 L1229.50,367.15 L1229.75,367.26 L1230.00,367.18 L1230.25,367.28 L1230.50,367.28 L1230.75,367.39 L1231.00,367.23 L1231.25,367.10 L1231.50,367.18 L1231.75,367.20 L1232.00,367.27 L1232.25,367.26 L1232.50,367.11 L1232.75,367.38 L1233.00,366.95 L1233.25,367.20 L1233.50,366.94 L1233.75,367.05 L1234.00,367.25 L1234.25,367.11 L1234.50,367.16 L1234.75,367.14 L1235.00,367.10 L1235.25,367.26 L1235.50,367.26 L1235.75,367.24 L1236.00,367.35 L1236.25,367.21 L1236.50,367.15 L1236.75,367.14 L1237.00,367.15 L1237.25,367.21 L1237.50,367.06 L1237.75,367.39 L1238.00,367.18 L1238.25,367.15 L1238.50,366.98 L1238.75,366.97 L1239.00,366.87 L1239.25,366.69 L1239.50,365.55 L1239.75,363.06 L1240.00,358.89 L1240.25,357.52 L1240.50,360.28 L1240.75,364.00 L1241.00,366.16 L1241.25,366.65 L1241.50,366.34 L1241.75,364.37 L1242.00,360.47 L1242.25,357.29 L1242.50,359.08 L1242.75,363.00 L1243.00,365.74 L1243.25,366.64 L1243.50,366.88 L1243.75,367.08 L1244.00,367.08 L1244.25,367.12 L1244.50,367.39 L1244.75,367.13 L1245.00,367.17 L1245.25,367.08 L1245.50,367.39 L1245.75,367.09 L1246.00,367.26 L1246.25,367.15 L1246.50,367.04 L1246.75,367.37 L1247.00,367.35 L1247.25,367.08 L1247.50,367.33 L1247.75,367.31 L1248.00,367.13 L1248.25,367.22 L1248.50,367.11 L1248.75,367.17 L1249.00,367.21 L1249.25,367.08 L1249.50,366.94 L1249.75,367.22 L1250.00,367.03 L1250.25,367.07 L1250.50,367.19 L1250.75,367.15 L1251.00,367.32 L1251.25,367.28 L1251.50,367.17 L1251.75,367.21 L1252.00,367.05 L1252.25,367.36 L1252.50,367.24 L1252.75,367.28 L1253.00,367.23 L1253.25,367.07 L1253.50,367.35 L1253.75,367.11 L1254.00,367.28 L1254.25,367.25 L1254.50,367.09 L1254.75,367.24 L1255.00,367.13 L1255.25,367.19 L1255.50,367.23 L1255.75,367.25 L1256.00,367.42 L1256.25,367.30 L1256.50,367.19 L1256.75,367.18 L1257.00,367.39 L1257.25,367.09 L1257.50,367.14 L1257.75,367.36 L1258.00,367.33 L1258.25,367.15 L1258.50,367.42 L1258.75,367.30 L1259.00,367.21 L1259.25,367.22 L1259.50,367.22 L1259.75,367.16 L1260.00,367.30 L1260.25,367.27 L1260.50,366.96 L1260.75,367.38 L1261.00,367.26 L1261.25,367.19 L1261.50,367.29 L1261.75,367.06 L1262.00,367.20 L1262.25,367.12 L1262.50,367.52 L1262.75,367.06 L1263.00,367.07 L1263.25,367.30 L1263.50,367.05 L1263.75,367.18 L1264.00,367.10 L1264.25,366.99 L1264.50,367.19 L1264.75,367.33 L1265.00,367.21 L1265.25,367.36 L1265.50,367.30 L1265.75,367.30 L1266.00,367.29 L1266.25,367.07 L1266.50,367.11 L1266.75,367.31 L1267.00,367.07 L1267.25,367.41 L1267.50,367.28 L1267.75,367.22 L1268.00,367.06 L1268.25,367.12 L1268.50,367.15 L1268.75,367.05 L1269.00,367.12 L1269.25,367.04 L1269.50,367.30 L1269.75,367.41 L1270.00,367.25 L1270.25,367.10 L1270.50,367.17 L1270.75,367.10 L1271.00,367.12 L1271.25,367.14 L1271.50,367.10 L1271.75,367.29 L1272.00,367.07 L1272.25,367.32 L1272.50,367.22 L1272.75,367.37 L1273.00,367.14 L1273.25,367.39 L1273.50,367.03 L1273.75,367.36 L1274.00,367.17 L1274.25,367.22 L1274.50,367.31 L1274.75,367.05 L1275.00,367.25 L1275.25,367.03 L1275.50,367.33 L1275.75,367.30 L1276.00,367.44 L1276.25,367.14 L1276.50,367.09 L1276.75,367.18 L1277.00,367.22 L1277.25,367.31 L1277.50,366.92 L1277.75,367.11 L1278.00,367.42 L1278.25,367.24 L1278.50,367.52 L1278.75,367.01 L1279.00,366.96 L1279.25,367.03 L1279.50,367.21 L1279.75,367.27 L1280.00,367.37 L1280.25,367.14 L1280.50,367.29 L1280.75,367.25 L1281.00,367.28 L1281.25,367.24 L1281.50,367.09 L1281.75,367.00 L1282.00,367.18 L1282.25,367.20 L1282.50,367.33 L1282.75,367.35 L1283.00,367.33 L1283.25,367.09 L1283.50,367.17 L1283.75,367.08 L1284.00,367.15 L1284.25,367.25 L1284.50,367.35 L1284.75,367.24 L1285.00,367.37 L1285.25,366.96 L1285.50,367.17 L1285.75,367.24 L1286.00,366.96 L1286.25,367.25 L1286.50,367.13 L1286.75,367.22 L1287.00,367.16 L1287.25,367.24 L1287.50,367.14 L1287.75,367.03 L1288.00,367.35 L1288.25,367.47 L1288.50,367.04 L1288.75,367.18 L1289.00,367.09 L1289.25,367.23 L1289.50,367.01 L1289.75,366.98 L1290.00,367.34 L1290.25,367.12 L1290.50,367.27 L1290.75,367.39 L1291.00,367.24 L1291.25,367.13 L1291.50,367.37 L1291.75,367.36 L1292.00,367.05 L1292.25,367.20 L1292.50,367.15 L1292.75,367.34 L1293.00,367.28 L1293.25,367.19 L1293.50,367.18 L1293.75,367.18 L1294.00,367.01 L1294.25,367.18 L1294.50,367.39 L1294.75,367.31 L1295.00,367.21 L1295.25,367.05 L1295.50,367.29 L1295.75,367.25 L1296.00,367.21 L1296.25,367.29 L1296.50,367.31 L1296.75,367.23 L1297.00,367.09 L1297.25,367.15 L1297.50,367.24 L1297.75,367.16 L1298.00,367.36 L1298.25,367.09 L1298.50,367.12 L1298.75,367.17 L1299.00,367.41 L1299.25,366.96 L1299.50,367.56 L1299.75,367.33 L1300.00,367.32 L1300.25,367.12 L1300.50,367.39 L1300.75,367.18 L1301.00,367.23 L1301.25,367.24 L1301.50,367.10 L1301.75,367.03 L1302.00,367.16 L1302.25,367.24 L1302.50,367.48 L1302.75,367.03 L1303.00,367.24 L1303.25,367.43 L1303.50,367.19 L1303.75,367.03 L1304.00,367.22 L1304.25,367.35 L1304.50,366.93 L1304.75,367.13 L1305.00,367.16 L1305.25,367.08 L1305.50,367.47 L1305.75,367.21 L1306.00,367.22 L1306.25,366.93 L1306.50,367.27 L1306.75,367.27 L1307.00,367.37 L1307.25,367.30 L1307.50,367.23 L1307.75,367.17 L1308.00,367.23 L1308.25,366.96 L1308.50,367.14 L1308.75,367.13 L1309.00,367.04 L1309.25,367.13 L1309.50,367.27 L1309.75,367.39 L1310.00,367.16 L1310.25,367.30 L1310.50,367.04 L1310.75,367.30 L1311.00,367.47 L1311.25,367.20 L1311.50,367.07 L1311.75,367.23 L1312.00,367.18 L1312.25,367.18 L1312.50,366.99 L1312.75,367.16 L1313.00,367.21 L1313.25,367.28 L1313.50,367.40 L1313.75,367.03 L1314.00,367.06 L1314.25,367.32 L1314.50,367.13 L1314.75,367.16 L1315.00,367.25 L1315.25,367.24 L1315.50,367.11 L1315.75,367.35 L1316.00,367.26 L1316.25,367.21 L1316.50,367.20 L1316.75,367.23 L1317.00,367.17 L1317.25,367.14 L1317.50,367.31 L1317.75,367.19 L1318.00,367.26 L1318.25,367.02 L1318.50,367.37 L1318.75,367.23 L1319.00,367.11 L1319.25,367.23 L1319.50,367.24 L1319.75,367.26 L1320.00,367.16 L1320.25,367.34 L1320.50,367.21 L1320.75,367.21 L1321.00,367.38 L1321.25,367.16 L1321.50,367.25 L1321.75,367.16 L1322.00,367.09 L1322.25,367.15 L1322.50,367.34 L1322.75,367.16 L1323.00,367.39 L1323.25,367.29 L1323.50,366.99 L1323.75,367.19 L1324.00,367.00 L1324.25,367.22 L1324.50,367.19 L1324.75,367.33 L1325.00,367.08 L1325.25,367.22 L1325.50,367.12 L1325.75,367.14 L1326.00,367.13 L1326.25,367.15 L1326.50,367.20 L1326.75,367.19 L1327.00,367.27 L1327.25,367.45 L1327.50,367.13 L1327.75,366.94 L1328.00,367.06 L1328.25,366.90 L1328.50,367.13 L1328.75,367.30 L1329.00,367.31 L1329.25,367.09 L1329.50,367.14 L1329.75,367.20 L1330.00,367.09 L1330.25,367.29 L1330.50,367.12 L1330.75,367.22 L1331.00,367.16 L1331.25,367.04 L1331.50,367.20 L1331.75,367.01 L1332.00,367.02 L1332.25,367.27 L1332.50,366.90 L1332.75,367.33 L1333.00,367.19 L1333.25,367.09 L1333.50,367.46 L1333.75,367.05 L1334.00,367.04 L1334.25,367.19 L1334.50,367.14 L1334.75,367.15 L1335.00,367.20 L1335.25,367.05 L1335.50,367.22 L1335.75,367.18 L1336.00,367.13 L1336.25,367.07 L1336.50,367.04 L1336.75,367.35 L1337.00,367.42 L1337.25,367.19 L1337.50,367.18 L1337.75,367.30 L1338.00,367.14 L1338.25,367.10 L1338.50,367.13 L1338.75,366.97 L1339.00,367.30 L1339.25,367.17 L1339.50,366.94 L1339.75,367.09 L1340.00,367.31 L1340.25,367.15 L1340.50,367.03 L1340.75,366.92 L1341.00,367.09 L1341.25,367.03 L1341.50,367.30 L1341.75,367.20 L1342.00,367.02 L1342.25,367.28 L1342.50,367.17 L1342.75,367.39 L1343.00,366.99 L1343.25,367.18 L1343.50,367.10 L1343.75,367.35 L1344.00,367.32 L1344.25,366.94 L1344.50,367.20 L1344.75,367.23 L1345.00,367.10 L1345.25,367.09 L1345.50,367.40 L1345.75,367.28 L1346.00,367.15 L1346.25,367.16 L1346.50,367.11 L1346.75,367.21 L1347.00,367.19 L1347.25,367.13 L1347.50,367.24 L1347.75,367.25 L1348.00,367.22 L1348.25,367.15 L1348.50,367.17 L1348.75,367.21 L1349.00,367.18 L1349.25,367.15 L1349.50,367.11 L1349.75,367.10 L1350.00,367.30 L1350.25,367.02 L1350.50,367.34 L1350.75,367.07 L1351.00,367.23 L1351.25,367.07 L1351.50,367.01 L1351.75,367.36 L1352.00,367.06 L1352.25,367.10 L1352.50,367.19 L1352.75,367.08 L1353.00,367.19 L1353.25,367.11 L1353.50,367.25 L1353.75,367.03 L1354.00,367.05 L1354.25,367.03 L1354.50,367.20 L1354.75,366.89 L1355.00,366.87 L1355.25,367.12 L1355.50,367.16 L1355.75,367.15 L1356.00,367.02 L1356.25,366.98 L1356.50,367.19 L1356.75,367.34 L1357.00,367.04 L1357.25,367.09 L1357.50,367.06 L1357.75,367.02 L1358.00,367.21 L1358.25,367.06 L1358.50,367.10 L1358.75,367.02 L1359.00,366.91 L1359.25,367.05 L1359.50,367.15 L1359.75,366.89 L1360.00,366.95 L1360.25,367.06 L1360.50,367.24 L1360.75,367.12 L1361.00,366.99 L1361.25,366.94 L1361.50,367.06 L1361.75,366.93 L1362.00,367.05 L1362.25,367.02 L1362.50,366.89 L1362.75,366.97 L1363.00,366.91 L1363.25,366.81 L1363.50,366.76 L1363.75,366.96 L1364.00,366.90 L1364.25,367.01 L1364.50,366.99 L1364.75,366.77 L1365.00,366.85 L1365.25,366.98 L1365.50,366.66 L1365.75,366.80 L1366.00,366.70 L1366.25,366.57 L1366.50,366.53 L1366.75,366.53 L1367.00,366.71 L1367.25,366.34 L1367.50,366.41 L1367.75,366.43 L1368.00,366.43 L1368.25,365.90 L1368.50,365.92 L1368.75,365.78 L1369.00,365.55 L1369.25,365.44 L1369.50,365.36 L1369.75,364.81 L1370.00,364.41 L1370.25,364.01 L1370.50,363.30 L1370.75,362.46 L1371.00,361.56 L1371.25,359.24 L1371.50,354.10 L1371.75,342.93 L1372.00,319.45 L1372.25,277.18 L1372.50,214.14 L1372.75,138.52 L1373.00,72.83 L1373.25,53.65 L1373.50,95.73 L1373.75,169.34 L1374.00,241.96 L1374.25,296.78 L1374.50,330.85 L1374.75,348.43 L1375.00,356.51 L1375.25,360.29 L1375.50,361.97 L1375.75,363.12 L1376.00,363.85 L1376.25,364.30 L1376.50,364.71 L1376.75,364.98 L1377.00,365.27 L1377.25,365.31 L1377.50,365.72 L1377.75,366.05 L1378.00,365.97 L1378.25,366.18 L1378.50,366.18 L1378.75,366.15 L1379.00,366.44 L1379.25,366.44 L1379.50,366.43 L1379.75,366.66 L1380.00,366.56 L1380.25,366.57 L1380.50,366.57 L1380.75,366.57 L1381.00,366.67 L1381.25,366.72 L1381.50,366.96 L1381.75,367.13 L1382.00,366.95 L1382.25,366.68 L1382.50,366.86 L1382.75,367.16 L1383.00,366.95 L1383.25,366.87 L1383.50,367.15 L1383.75,366.87 L1384.00,367.09 L1384.25,366.84 L1384.50,366.97 L1384.75,366.61 L1385.00,367.15 L1385.25,366.97 L1385.50,367.19 L1385.75,366.88 L1386.00,367.01 L1386.25,366.92 L1386.50,367.02 L1386.75,367.18 L1387.00,367.13 L1387.25,367.20 L1387.50,367.18 L1387.75,367.04 L1388.00,366.94 L1388.25,366.97 L1388.50,367.01 L1388.75,367.15 L1389.00,367.02 L1389.25,367.19 L1389.50,367.06 L1389.75,366.99 L1390.00,367.12 L1390.25,367.15 L1390.50,367.15 L1390.75,367.03 L1391.00,367.14 L1391.25,367.28 L1391.50,367.16 L1391.75,367.24 L1392.00,366.94 L1392.25,367.12 L1392.50,367.30 L1392.75,367.09 L1393.00,367.04 L1393.25,367.08 L1393.50,367.17 L1393.75,367.11 L1394.00,367.10 L1394.25,367.01 L1394.50,367.09 L1394.75,366.86 L1395.00,367.16 L1395.25,366.95 L1395.50,367.14 L1395.75,367.34 L1396.00,367.28 L1396.25,367.36 L1396.50,367.35 L1396.75,367.00 L1397.00,367.22 L1397.25,367.07 L1397.50,367.25 L1397.75,367.15 L1398.00,367.27 L1398.25,367.05 L1398.50,367.18 L1398.75,367.20 L1399.00,367.17 L1399.25,366.89 L1399.50,367.10 L1399.75,367.05 L1400.00,367.30 L1400.25,367.23 L1400.50,367.12 L1400.75,367.38 L1401.00,367.00 L1401.25,367.13 L1401.50,367.16 L1401.75,367.18 L1402.00,367.19 L1402.25,367.22 L1402.50,366.99 L1402.75,367.08 L1403.00,367.01 L1403.25,367.20 L1403.50,367.27 L1403.75,367.00 L1404.00,367.31 L1404.25,367.24 L1404.50,367.08 L1404.75,367.04 L1405.00,367.32 L1405.25,367.20 L1405.50,367.16 L1405.75,367.18 L1406.00,367.27 L1406.25,367.09 L1406.50,367.23 L1406.75,367.20 L1407.00,367.44 L1407.25,367.18 L1407.50,367.40 L1407.75,367.09 L1408.00,367.11 L1408.25,367.23 L1408.50,367.15 L1408.75,367.16 L1409.00,367.19 L1409.25,367.13 L1409.50,367.19 L1409.75,367.23 L1410.00,367.27 L1410.25,366.97 L1410.50,367.15 L1410.75,367.18 L1411.00,367.09 L1411.25,367.22 L1411.50,367.22 L1411.75,367.09 L1412.00,367.05 L1412.25,367.09 L1412.50,367.35 L1412.75,367.17 L1413.00,367.18 L1413.25,367.12 L1413.50,367.28 L1413.75,367.30 L1414.00,367.19 L1414.25,367.28 L1414.50,367.30 L1414.75,367.18 L1415.00,367.07 L1415.25,367.16 L1415.50,367.04 L1415.75,367.30 L1416.00,367.09 L1416.25,367.18 L1416.50,367.28 L1416.75,367.23 L1417.00,367.28 L1417.25,367.20 L1417.50,367.27 L1417.75,367.03 L1418.00,367.22 L1418.25,367.35 L1418.50,367.20 L1418.75,367.13 L1419.00,367.22 L1419.25,367.08 L1419.50,367.29 L1419.75,367.28 L1420.00,366.99 L1420.25,367.18 L1420.50,367.12 L1420.75,367.12 L1421.00,367.11 L1421.25,367.17 L1421.50,367.20 L1421.75,367.05 L1422.00,367.24 L1422.25,367.17 L1422.50,367.10 L1422.75,367.23 L1423.00,367.36 L1423.25,367.13 L1423.50,367.05 L1423.75,367.15 L1424.00,367.38 L1424.25,367.10 L1424.50,366.95 L1424.75,367.36 L1425.00,367.50 L1425.25,367.21 L1425.50,367.17 L1425.75,367.09 L1426.00,367.08 L1426.25,367.17 L1426.50,367.12 L1426.75,367.14 L1427.00,367.17 L1427.25,367.19 L1427.50,367.20 L1427.75,367.10 L1428.00,367.13 L1428.25,367.23 L1428.50,367.05 L1428.75,367.27 L1429.00,367.21 L1429.25,367.16 L1429.50,367.40 L1429.75,367.22 L1430.00,367.08 L1430.25,367.09 L1430.50,367.32 L1430.75,367.28 L1431.00,367.31 L1431.25,367.21 L1431.50,367.19 L1431.75,367.37 L1432.00,367.14 L1432.25,367.17 L1432.50,367.19 L1432.75,367.26 L1433.00,367.20 L1433.25,367.39 L1433.50,367.15 L1433.75,367.16 L1434.00,367.19 L1434.25,367.32 L1434.50,367.03 L1434.75,367.05 L1435.00,367.40 L1435.25,367.13 L1435.50,367.16 L1435.75,367.48 L1436.00,367.12 L1436.25,367.10 L1436.50,367.10 L1436.75,367.16 L1437.00,367.26 L1437.25,367.24 L1437.50,367.12 L1437.75,367.04 L1438.00,367.24 L1438.25,367.21 L1438.50,367.10 L1438.75,367.43 L1439.00,367.13 L1439.25,367.21 L1439.50,367.44 L1439.75,367.09 L1440.00,367.29 L1440.25,367.09 L1440.50,367.02 L1440.75,367.32 L1441.00,367.32 L1441.25,367.18 L1441.50,367.38 L1441.75,367.09 L1442.00,367.16 L1442.25,367.06 L1442.50,367.39 L1442.75,367.15 L1443.00,367.12 L1443.25,367.39 L1443.50,367.07 L1443.75,367.34 L1444.00,367.16 L1444.25,367.33 L1444.50,367.09 L1444.75,366.98 L1445.00,367.17 L1445.25,367.17 L1445.50,367.02 L1445.75,367.23 L1446.00,367.17 L1446.25,367.08 L1446.50,367.13 L1446.75,366.99 L1447.00,367.03 L1447.25,366.95 L1447.50,367.17 L1447.75,367.04 L1448.00,367.27 L1448.25,367.06 L1448.50,366.96 L1448.75,366.89 L1449.00,367.31 L1449.25,367.19 L1449.50,367.08 L1449.75,367.27 L1450.00,367.10 L1450.25,367.10 L1450.50,367.22 L1450.75,367.23 L1451.00,367.27 L1451.25,367.13 L1451.50,367.02 L1451.75,367.13 L1452.00,366.84 L1452.25,367.34 L1452.50,367.23 L1452.75,367.09 L1453.00,367.30 L1453.25,367.12 L1453.50,367.07 L1453.75,367.14 L1454.00,367.19 L1454.25,367.05 L1454.50,367.11 L1454.75,367.08 L1455.00,367.10 L1455.25,367.24 L1455.50,367.29 L1455.75,367.21 L1456.00,367.14 L1456.25,367.18 L1456.50,367.05 L1456.75,367.13 L1457.00,367.05 L1457.25,367.15 L1457.50,367.25 L1457.75,367.06 L1458.00,367.10 L1458.25,367.26 L1458.50,367.21 L1458.75,366.83 L1459.00,367.56 L1459.25,367.03 L1459.50,367.15 L1459.75,367.17 L1460.00,367.20 L1460.25,367.22 L1460.50,366.88 L1460.75,367.21 L1461.00,367.20 L1461.25,367.07 L1461.50,367.12 L1461.75,367.18 L1462.00,367.19 L1462.25,367.32 L1462.50,367.03 L1462.75,367.29 L1463.00,367.45 L1463.25,367.04 L1463.50,367.07 L1463.75,367.12 L1464.00,367.22 L1464.25,367.02 L1464.50,367.29 L1464.75,367.42 L1465.00,367.14 L1465.25,367.06 L1465.50,367.08 L1465.75,366.91 L1466.00,367.06 L1466.25,367.18 L1466.50,367.18 L1466.75,367.05 L1467.00,367.16 L1467.25,367.17 L1467.50,367.36 L1467.75,367.19 L1468.00,367.31 L1468.25,367.12 L1468.50,367.13 L1468.75,367.06 L1469.00,366.94 L1469.25,367.17 L1469.50,366.97 L1469.75,367.28 L1470.00,367.13 L1470.25,367.03 L1470.50,366.91 L1470.75,367.27 L1471.00,367.17 L1471.25,367.12 L1471.50,367.15 L1471.75,367.25 L1472.00,367.33 L1472.25,367.28 L1472.50,367.14 L1472.75,367.29 L1473.00,366.92 L1473.25,366.98 L1473.50,367.35 L1473.75,367.18 L1474.00,366.96 L1474.25,366.94 L1474.50,366.98 L1474.75,367.28 L1475.00,367.15 L1475.25,366.95 L1475.50,367.09 L1475.75,367.15 L1476.00,367.03 L1476.25,366.97 L1476.50,367.06 L1476.75,367.05 L1477.00,366.94 L1477.25,367.13 L1477.50,367.16 L1477.75,366.95 L1478.00,367.18 L1478.25,366.96 L1478.50,367.10 L1478.75,366.89 L1479.00,367.12 L1479.25,366.82 L1479.50,366.90 L1479.75,366.95 L1480.00,366.99 L1480.25,366.87 L1480.50,366.92 L1480.75,366.91 L1481.00,366.58 L1481.25,366.57 L1481.50,366.42 L1481.75,366.64 L1482.00,366.61 L1482.25,366.44 L1482.50,366.01 L1482.75,365.80 L1483.00,365.87 L1483.25,365.20 L1483.50,364.90 L1483.75,364.11 L1484.00,361.87 L1484.25,356.38 L1484.50,344.13 L1484.75,321.80 L1485.00,291.59 L1485.25,264.86 L1485.50,261.49 L1485.75,285.11 L1486.00,315.44 L1486.25,339.68 L1486.50,353.34 L1486.75,359.91 L1487.00,361.84 L1487.25,362.88 L1487.50,363.16 L1487.75,363.11 L1488.00,363.06 L1488.25,363.14 L1488.50,363.11 L1488.75,362.73 L1489.00,362.81 L1489.25,362.90 L1489.50,362.67 L1489.75,362.32 L1490.00,362.37 L1490.25,362.21 L1490.50,361.97 L1490.75,362.20 L1491.00,362.00 L1491.25,362.07 L1491.50,361.94 L1491.75,361.84 L1492.00,362.04 L1492.25,361.85 L1492.50,361.85 L1492.75,361.75 L1493.00,361.96 L1493.25,362.07 L1493.50,361.89 L1493.75,362.09 L1494.00,361.95 L1494.25,361.92 L1494.50,362.09 L1494.75,361.98 L1495.00,362.05 L1495.25,362.21 L1495.50,361.96 L1495.75,361.93 L1496.00,361.53 L1496.25,361.49 L1496.50,361.17 L1496.75,360.92 L1497.00,360.52 L1497.25,360.38 L1497.50,360.06 L1497.75,359.60 L1498.00,359.09 L1498.25,358.90 L1498.50,358.44 L1498.75,358.09 L1499.00,357.74 L1499.25,357.42 L1499.50,356.83 L1499.75,356.44 L1500.00,356.04 L1500.25,355.37 L1500.50,355.25 L1500.75,354.78 L1501.00,354.46 L1501.25,353.87 L1501.50,353.62 L1501.75,352.92 L1502.00,352.70 L1502.25,352.07 L1502.50,351.49 L1502.75,351.06 L1503.00,350.30 L1503.25,349.73 L1503.50,349.13 L1503.75,348.40 L1504.00,347.53 L1504.25,346.62 L1504.50,346.16 L1504.75,345.32 L1505.00,344.82 L1505.25,344.09 L1505.50,343.74 L1505.75,343.23 L1506.00,342.77 L1506.25,342.59 L1506.50,342.35 L1506.75,342.11 L1507.00,342.25 L1507.25,342.39 L1507.50,342.59 L1507.75,342.68 L1508.00,342.70 L1508.25,343.09 L1508.50,343.35 L1508.75,343.52 L1509.00,343.78 L1509.25,344.05 L1509.50,344.52 L1509.75,344.92 L1510.00,345.37 L1510.25,345.64 L1510.50,346.01 L1510.75,346.28 L1511.00,346.65 L1511.25,346.85 L1511.50,346.33 L1511.75,345.49 L1512.00,343.29 L1512.25,339.76 L1512.50,334.72 L1512.75,328.33 L1513.00,321.49 L1513.25,315.04 L1513.50,310.51 L1513.75,310.50 L1514.00,314.61 L1514.25,321.93 L1514.50,330.62 L1514.75,339.30 L1515.00,347.04 L1515.25,353.19 L1515.50,357.72 L1515.75,360.73 L1516.00,362.97 L1516.25,364.42 L1516.50,364.91 L1516.75,365.57 L1517.00,365.77 L1517.25,365.83 L1517.50,366.15 L1517.75,366.07 L1518.00,366.58 L1518.25,366.43 L1518.50,366.48 L1518.75,366.47 L1519.00,366.70 L1519.25,366.62 L1519.50,366.65 L1519.75,366.67 L1520.00,366.86 L1520.25,366.92 L1520.50,366.65 L1520.75,366.68 L1521.00,366.72 L1521.25,366.66 L1521.50,366.60 L1521.75,366.87 L1522.00,366.64 L1522.25,366.55 L1522.50,366.60 L1522.75,366.64 L1523.00,366.62 L1523.25,366.87 L1523.50,366.75 L1523.75,366.55 L1524.00,366.48 L1524.25,366.59 L1524.50,366.68 L1524.75,366.62 L1525.00,366.48 L1525.25,366.32 L1525.50,366.43 L1525.75,366.56 L1526.00,366.38 L1526.25,366.36 L1526.50,366.07 L1526.75,366.23 L1527.00,366.22 L1527.25,366.15 L1527.50,366.18 L1527.75,366.03 L1528.00,365.80 L1528.25,365.65 L1528.50,365.31 L1528.75,365.04 L1529.00,364.61 L1529.25,364.16 L1529.50,363.86 L1529.75,363.36 L1530.00,362.93 L1530.25,361.93 L1530.50,361.07 L1530.75,360.29 L1531.00,359.19 L1531.25,358.04 L1531.50,356.52 L1531.75,355.14 L1532.00,353.51 L1532.25,352.11 L1532.50,349.85 L1532.75,348.34 L1533.00,346.30 L1533.25,343.94 L1533.50,341.65 L1533.75,338.77 L1534.00,336.19 L1534.25,333.11 L1534.50,329.73 L1534.75,327.04 L1535.00,326.05 L1535.25,326.70 L1535.50,328.80 L1535.75,331.40 L1536.00,333.73 L1536.25,336.06 L1536.50,338.09 L1536.75,339.84 L1537.00,341.57 L1537.25,342.88 L1537.50,344.25 L1537.75,345.44 L1538.00,346.11 L1538.25,347.33 L1538.50,347.78 L1538.75,348.37 L1539.00,348.87 L1539.25,348.94 L1539.50,348.98 L1539.75,348.90 L1540.00,348.90 L1540.25,348.45 L1540.50,348.16 L1540.75,347.67 L1541.00,347.51 L1541.25,346.80 L1541.50,346.24 L1541.75,345.51 L1542.00,345.06 L1542.25,344.43 L1542.50,343.93 L1542.75,343.38 L1543.00,342.82 L1543.25,342.12 L1543.50,341.93 L1543.75,341.73 L1544.00,341.10 L1544.25,340.95 L1544.50,340.67 L1544.75,340.58 L1545.00,340.67 L1545.25,340.75 L1545.50,340.91 L1545.75,341.06 L1546.00,341.45 L1546.25,341.70 L1546.50,341.99 L1546.75,342.74 L1547.00,343.30 L1547.25,343.93 L1547.50,344.45 L1547.75,345.17 L1548.00,345.84 L1548.25,346.72 L1548.50,347.62 L1548.75,348.43 L1549.00,349.50 L1549.25,350.16 L1549.50,351.09 L1549.75,351.74 L1550.00,352.70 L1550.25,353.82 L1550.50,354.64 L1550.75,355.30 L1551.00,356.46 L1551.25,357.10 L1551.50,357.70 L1551.75,358.38 L1552.00,359.13 L1552.25,359.66 L1552.50,360.45 L1552.75,360.98 L1553.00,361.55 L1553.25,362.16 L1553.50,362.49 L1553.75,362.99 L1554.00,363.30 L1554.25,363.97 L1554.50,363.95 L1554.75,364.30 L1555.00,364.50 L1555.25,364.51 L1555.50,364.41 L1555.75,363.58 L1556.00,362.00 L1556.25,359.32 L1556.50,355.47 L1556.75,351.36 L1557.00,348.58 L1557.25,349.21 L1557.50,352.59 L1557.75,356.82 L1558.00,360.76 L1558.25,363.62 L1558.50,365.13 L1558.75,365.81 L1559.00,366.33 L1559.25,366.30 L1559.50,366.69 L1559.75,366.58 L1560.00,366.65 L1560.25,366.75 L1560.50,366.77 L1560.75,366.77 L1561.00,367.13 L1561.25,366.82 L1561.50,366.76 L1561.75,366.86 L1562.00,366.78 L1562.25,367.07 L1562.50,366.94 L1562.75,366.90 L1563.00,366.97 L1563.25,366.80 L1563.50,366.88 L1563.75,367.00 L1564.00,366.85 L1564.25,366.84 L1564.50,366.99 L1564.75,366.86 L1565.00,366.89 L1565.25,366.89 L1565.50,367.08 L1565.75,366.77 L1566.00,366.84 L1566.25,366.91 L1566.50,366.86 L1566.75,366.85 L1567.00,366.92 L1567.25,366.94 L1567.50,366.85 L1567.75,366.92 L1568.00,366.89 L1568.25,366.96 L1568.50,366.84 L1568.75,366.66 L1569.00,366.74 L1569.25,366.74 L1569.50,366.75 L1569.75,366.74 L1570.00,366.84 L1570.25,366.42 L1570.50,366.67 L1570.75,366.72 L1571.00,366.44 L1571.25,366.39 L1571.50,366.42 L1571.75,366.44 L1572.00,366.32 L1572.25,365.83 L1572.50,365.82 L1572.75,365.57 L1573.00,364.79 L1573.25,364.32 L1573.50,363.18 L1573.75,361.23 L1574.00,358.68 L1574.25,354.97 L1574.50,350.68 L1574.75,344.69 L1575.00,338.22 L1575.25,330.70 L1575.50,323.64 L1575.75,317.37 L1576.00,313.23 L1576.25,312.00 L1576.50,314.28 L1576.75,319.62 L1577.00,326.39 L1577.25,333.72 L1577.50,340.68 L1577.75,347.23 L1578.00,352.01 L1578.25,356.67 L1578.50,359.58 L1578.75,361.98 L1579.00,363.67 L1579.25,364.67 L1579.50,365.16 L1579.75,365.59 L1580.00,365.78 L1580.25,366.06 L1580.50,365.75 L1580.75,365.86 L1581.00,366.40 L1581.25,366.17 L1581.50,366.12 L1581.75,366.34 L1582.00,366.34 L1582.25,366.20 L1582.50,366.28 L1582.75,366.49 L1583.00,366.19 L1583.25,366.39 L1583.50,366.09 L1583.75,366.41 L1584.00,366.54 L1584.25,366.22 L1584.50,366.04 L1584.75,366.07 L1585.00,366.05 L1585.25,366.10 L1585.50,365.78 L1585.75,365.99 L1586.00,365.50 L1586.25,365.50 L1586.50,365.07 L1586.75,364.63 L1587.00,363.77 L1587.25,362.25 L1587.50,360.76 L1587.75,358.00 L1588.00,354.53 L1588.25,349.56 L1588.50,343.84 L1588.75,336.46 L1589.00,328.13 L1589.25,319.14 L1589.50,310.76 L1589.75,302.82 L1590.00,296.86 L1590.25,294.00 L1590.50,295.47 L1590.75,299.97 L1591.00,307.38 L1591.25,316.00 L1591.50,324.97 L1591.75,333.30 L1592.00,340.86 L1592.25,347.50 L1592.50,353.00 L1592.75,356.85 L1593.00,359.64 L1593.25,361.76 L1593.50,363.28 L1593.75,364.10 L1594.00,365.08 L1594.25,365.50 L1594.50,365.35 L1594.75,365.76 L1595.00,366.02 L1595.25,366.18 L1595.50,366.53 L1595.75,366.20 L1596.00,366.62 L1596.25,366.67 L1596.50,366.49 L1596.75,366.35 L1597.00,366.63 L1597.25,366.58 L1597.50,366.71 L1597.75,366.64 L1598.00,366.92 L1598.25,366.49 L1598.50,366.89 L1598.75,366.73 L1599.00,367.07 L1599.25,366.62 L1599.50,366.80 L1599.75,366.62 L1600.00,366.96 L1600.25,366.77 L1600.50,366.93 L1600.75,366.93 L1601.00,366.78 L1601.25,367.06 L1601.50,366.86 L1601.75,366.73 L1602.00,366.76 L1602.25,366.85 L1602.50,366.95 L1602.75,367.11 L1603.00,366.83 L1603.25,367.09 L1603.50,366.87 L1603.75,367.06 L1604.00,367.02 L1604.25,367.03 L1604.50,366.96 L1604.75,367.09 L1605.00,367.02 L1605.25,367.11 L1605.50,366.99 L1605.75,367.02 L1606.00,367.01 L1606.25,367.17 L1606.50,367.03 L1606.75,367.07 L1607.00,367.00 L1607.25,367.07 L1607.50,367.20 L1607.75,367.00 L1608.00,367.17 L1608.25,367.05 L1608.50,367.34 L1608.75,367.03 L1609.00,367.02 L1609.25,367.21 L1609.50,367.03 L1609.75,367.15 L1610.00,366.94 L1610.25,367.03 L1610.50,367.26 L1610.75,367.14 L1611.00,367.33 L1611.25,367.15 L1611.50,367.05 L1611.75,367.02 L1612.00,367.13 L1612.25,367.15 L1612.50,367.10 L1612.75,367.20 L1613.00,367.08 L1613.25,366.99 L1613.50,367.10 L1613.75,367.02 L1614.00,367.22 L1614.25,367.19 L1614.50,367.09 L1614.75,366.88 L1615.00,367.01 L1615.25,366.92 L1615.50,367.13 L1615.75,366.98 L1616.00,367.34 L1616.25,367.07 L1616.50,367.39 L1616.75,366.98 L1617.00,367.08 L1617.25,366.99 L1617.50,367.09 L1617.75,367.20 L1618.00,367.23 L1618.25,367.11 L1618.50,366.95 L1618.75,367.06 L1619.00,367.20 L1619.25,367.21 L1619.50,367.22 L1619.75,367.17 L1620.00,367.15 L1620.25,367.20 L1620.50,367.14 L1620.75,367.33 L1621.00,366.95 L1621.25,367.11 L1621.50,366.96 L1621.75,367.11 L1622.00,367.17 L1622.25,367.13 L1622.50,367.12 L1622.75,367.22 L1623.00,367.19 L1623.25,366.91 L1623.50,367.03 L1623.75,367.21 L1624.00,367.08 L1624.25,367.24 L1624.50,366.97 L1624.75,367.27 L1625.00,367.03 L1625.25,367.14 L1625.50,367.14 L1625.75,367.24 L1626.00,367.17 L1626.25,367.24 L1626.50,367.25 L1626.75,367.09 L1627.00,366.84 L1627.25,367.18 L1627.50,367.02 L1627.75,367.14 L1628.00,367.23 L1628.25,366.98 L1628.50,367.07 L1628.75,367.00 L1629.00,367.13 L1629.25,367.12 L1629.50,367.24 L1629.75,367.17 L1630.00,366.94 L1630.25,367.42 L1630.50,367.09 L1630.75,366.96 L1631.00,367.04 L1631.25,367.03 L1631.50,367.17 L1631.75,367.00 L1632.00,367.00 L1632.25,367.14 L1632.50,366.93 L1632.75,367.19 L1633.00,367.44 L1633.25,367.14 L1633.50,367.15 L1633.75,367.24 L1634.00,367.19 L1634.25,367.20 L1634.50,367.35 L1634.75,366.98 L1635.00,367.13 L1635.25,366.80 L1635.50,367.13 L1635.75,367.08 L1636.00,367.31 L1636.25,367.00 L1636.50,367.25 L1636.75,367.06 L1637.00,367.01 L1637.25,367.03 L1637.50,367.22 L1637.75,367.21 L1638.00,367.02 L1638.25,366.97 L1638.50,366.93 L1638.75,367.11 L1639.00,367.12 L1639.25,366.89 L1639.50,367.17 L1639.75,367.00 L1640.00,367.13 L1640.25,367.26 L1640.50,367.22 L1640.75,367.03 L1641.00,367.05 L1641.25,367.02 L1641.50,367.11 L1641.75,367.13 L1642.00,367.03 L1642.25,367.08 L1642.50,367.24 L1642.75,367.09 L1643.00,366.83 L1643.25,367.12 L1643.50,366.95 L1643.75,367.02 L1644.00,366.91 L1644.25,367.09 L1644.50,367.13 L1644.75,366.91 L1645.00,367.03 L1645.25,366.94 L1645.50,366.95 L1645.75,366.78 L1646.00,366.84 L1646.25,366.83 L1646.50,366.94 L1646.75,366.98 L1647.00,366.85 L1647.25,366.61 L1647.50,366.58 L1647.75,366.53 L1648.00,366.58 L1648.25,366.58 L1648.50,366.22 L1648.75,366.23 L1649.00,366.04 L1649.25,366.05 L1649.50,365.80 L1649.75,365.35 L1650.00,364.97 L1650.25,364.68 L1650.50,363.80 L1650.75,362.77 L1651.00,359.70 L1651.25,351.65 L1651.50,329.04 L1651.75,280.69 L1652.00,206.04 L1652.25,133.54 L1652.50,124.76 L1652.75,189.66 L1653.00,267.51 L1653.25,322.01 L1653.50,348.77 L1653.75,359.01 L1654.00,362.20 L1654.25,363.66 L1654.50,364.36 L1654.75,364.85 L1655.00,365.36 L1655.25,365.58 L1655.50,365.97 L1655.75,365.97 L1656.00,366.23 L1656.25,366.42 L1656.50,366.47 L1656.75,366.69 L1657.00,366.67 L1657.25,366.70 L1657.50,366.70 L1657.75,366.76 L1658.00,366.86 L1658.25,366.84 L1658.50,367.10 L1658.75,366.86" fill="none" stroke="#2176F2" stroke-width="2.0" stroke-linejoin="miter" stroke-linecap="round" clip-path="url(#cb)"/>
<line x1="1083.00" y1="355.20" x2="1083.00" y2="9.00" stroke="#2176F2" stroke-width="2.0" stroke-linecap="butt"/>
<line x1="1535.00" y1="355.20" x2="1535.00" y2="9.00" stroke="#2176F2" stroke-width="2.0" stroke-linecap="butt"/>
<path d="M947.00,295.95 L947.25,296.51 L947.50,296.15 L947.75,296.27 L948.00,296.25 L948.25,296.23 L948.50,296.44 L948.75,296.23 L949.00,296.30 L949.25,295.80 L949.50,296.17 L949.75,296.24 L950.00,296.23 L950.25,296.28 L950.50,296.33 L950.75,296.25 L951.00,296.14 L951.25,296.23 L951.50,296.08 L951.75,296.22 L952.00,296.20 L952.25,296.01 L952.50,296.13 L952.75,296.26 L953.00,296.22 L953.25,296.13 L953.50,295.97 L953.75,296.23 L954.00,296.23 L954.25,296.08 L954.50,296.31 L954.75,296.23 L955.00,296.09 L955.25,296.13 L955.50,296.19 L955.75,296.12 L956.00,296.54 L956.25,296.08 L956.50,296.31 L956.75,296.40 L957.00,296.17 L957.25,296.12 L957.50,296.25 L957.75,296.33 L958.00,296.20 L958.25,296.21 L958.50,296.03 L958.75,296.11 L959.00,296.18 L959.25,296.07 L959.50,296.22 L959.75,296.31 L960.00,296.13 L960.25,296.13 L960.50,296.22 L960.75,296.29 L961.00,296.17 L961.25,296.50 L961.50,296.12 L961.75,296.14 L962.00,296.40 L962.25,296.19 L962.50,296.31 L962.75,296.11 L963.00,296.44 L963.25,296.31 L963.50,296.11 L963.75,296.06 L964.00,296.46 L964.25,296.26 L964.50,296.16 L964.75,296.27 L965.00,296.01 L965.25,296.34 L965.50,296.16 L965.75,296.32 L966.00,296.03 L966.25,296.20 L966.50,296.24 L966.75,296.41 L967.00,296.00 L967.25,296.11 L967.50,296.11 L967.75,296.06 L968.00,296.16 L968.25,296.28 L968.50,296.30 L968.75,296.30 L969.00,296.03 L969.25,296.37 L969.50,296.27 L969.75,296.24 L970.00,296.17 L970.25,296.13 L970.50,296.35 L970.75,296.41 L971.00,296.20 L971.25,296.05 L971.50,296.11 L971.75,296.17 L972.00,296.24 L972.25,296.16 L972.50,296.23 L972.75,296.10 L973.00,296.29 L973.25,296.18 L973.50,296.21 L973.75,296.13 L974.00,296.17 L974.25,295.89 L974.50,296.02 L974.75,296.02 L975.00,296.44 L975.25,296.24 L975.50,296.27 L975.75,296.13 L976.00,296.47 L976.25,296.06 L976.50,296.07 L976.75,296.35 L977.00,296.32 L977.25,296.29 L977.50,296.19 L977.75,296.12 L978.00,295.95 L978.25,296.22 L978.50,296.11 L978.75,296.18 L979.00,295.99 L979.25,296.11 L979.50,296.03 L979.75,296.33 L980.00,296.22 L980.25,296.29 L980.50,296.01 L980.75,296.12 L981.00,296.23 L981.25,296.25 L981.50,296.13 L981.75,296.27 L982.00,296.30 L982.25,296.13 L982.50,295.89 L982.75,296.21 L983.00,296.25 L983.25,296.32 L983.50,296.33 L983.75,296.10 L984.00,296.06 L984.25,296.15 L984.50,296.11 L984.75,296.13 L985.00,296.11 L985.25,296.30 L985.50,296.16 L985.75,296.08 L986.00,296.17 L986.25,296.12 L986.50,296.14 L986.75,296.06 L987.00,295.89 L987.25,296.02 L987.50,295.95 L987.75,295.80 L988.00,295.78 L988.25,295.61 L988.50,296.02 L988.75,295.61 L989.00,295.72 L989.25,295.58 L989.50,295.42 L989.75,295.32 L990.00,295.24 L990.25,295.25 L990.50,294.98 L990.75,295.10 L991.00,294.97 L991.25,294.73 L991.50,294.76 L991.75,294.29 L992.00,294.27 L992.25,293.96 L992.50,294.05 L992.75,293.91 L993.00,293.64 L993.25,293.37 L993.50,293.31 L993.75,292.96 L994.00,292.77 L994.25,292.32 L994.50,292.33 L994.75,291.85 L995.00,291.77 L995.25,291.52 L995.50,291.19 L995.75,290.94 L996.00,290.47 L996.25,290.04 L996.50,289.82 L996.75,289.44 L997.00,288.99 L997.25,288.82 L997.50,288.50 L997.75,288.23 L998.00,288.06 L998.25,287.46 L998.50,287.44 L998.75,286.85 L999.00,286.63 L999.25,286.21 L999.50,286.08 L999.75,285.90 L1000.00,285.52 L1000.25,285.40 L1000.50,285.14 L1000.75,284.92 L1001.00,284.77 L1001.25,284.63 L1001.50,284.58 L1001.75,284.40 L1002.00,284.55 L1002.25,284.26 L1002.50,284.35 L1002.75,284.06 L1003.00,284.06 L1003.25,284.49 L1003.50,284.31 L1003.75,284.43 L1004.00,284.65 L1004.25,284.60 L1004.50,284.88 L1004.75,285.22 L1005.00,285.23 L1005.25,285.44 L1005.50,285.64 L1005.75,286.06 L1006.00,286.10 L1006.25,286.37 L1006.50,286.88 L1006.75,287.13 L1007.00,287.37 L1007.25,287.74 L1007.50,287.79 L1007.75,288.30 L1008.00,288.78 L1008.25,289.08 L1008.50,289.32 L1008.75,289.37 L1009.00,289.99 L1009.25,290.28 L1009.50,290.55 L1009.75,290.93 L1010.00,290.95 L1010.25,291.58 L1010.50,291.72 L1010.75,292.07 L1011.00,292.28 L1011.25,292.75 L1011.50,292.65 L1011.75,293.11 L1012.00,293.32 L1012.25,293.65 L1012.50,293.83 L1012.75,293.87 L1013.00,294.00 L1013.25,294.20 L1013.50,294.31 L1013.75,294.52 L1014.00,294.74 L1014.25,294.77 L1014.50,294.93 L1014.75,295.12 L1015.00,295.13 L1015.25,295.16 L1015.50,295.37 L1015.75,295.52 L1016.00,295.47 L1016.25,295.39 L1016.50,295.71 L1016.75,295.75 L1017.00,295.81 L1017.25,295.69 L1017.50,296.10 L1017.75,295.87 L1018.00,295.80 L1018.25,296.07 L1018.50,295.83 L1018.75,295.96 L1019.00,296.11 L1019.25,296.04 L1019.50,296.27 L1019.75,296.17 L1020.00,295.89 L1020.25,296.23 L1020.50,295.91 L1020.75,296.15 L1021.00,296.03 L1021.25,296.15 L1021.50,296.43 L1021.75,296.24 L1022.00,296.15 L1022.25,296.31 L1022.50,296.34 L1022.75,296.14 L1023.00,296.26 L1023.25,296.39 L1023.50,296.27 L1023.75,296.09 L1024.00,296.25 L1024.25,296.08 L1024.50,296.01 L1024.75,296.19 L1025.00,296.33 L1025.25,296.35 L1025.50,296.20 L1025.75,296.09 L1026.00,296.16 L1026.25,296.13 L1026.50,296.25 L1026.75,296.16 L1027.00,296.25 L1027.25,296.24 L1027.50,296.35 L1027.75,296.39 L1028.00,296.25 L1028.25,296.33 L1028.50,296.31 L1028.75,296.12 L1029.00,296.21 L1029.25,295.85 L1029.50,296.09 L1029.75,296.27 L1030.00,296.10 L1030.25,296.15 L1030.50,296.28 L1030.75,296.06 L1031.00,296.29 L1031.25,296.56 L1031.50,296.10 L1031.75,296.27 L1032.00,296.02 L1032.25,296.27 L1032.50,296.34 L1032.75,296.01 L1033.00,296.33 L1033.25,296.17 L1033.50,296.02 L1033.75,296.18 L1034.00,296.21 L1034.25,296.18 L1034.50,296.10 L1034.75,296.29 L1035.00,296.12 L1035.25,296.13 L1035.50,295.92 L1035.75,296.24 L1036.00,296.31 L1036.25,296.11 L1036.50,296.24 L1036.75,296.16 L1037.00,296.18 L1037.25,296.06 L1037.50,296.27 L1037.75,296.21 L1038.00,296.50 L1038.25,296.30 L1038.50,296.01 L1038.75,296.28 L1039.00,296.28 L1039.25,296.34 L1039.50,296.13 L1039.75,296.17 L1040.00,296.34 L1040.25,296.12 L1040.50,296.16 L1040.75,296.10 L1041.00,296.27 L1041.25,295.99 L1041.50,296.15 L1041.75,296.21 L1042.00,296.26 L1042.25,296.22 L1042.50,296.09 L1042.75,296.23 L1043.00,296.07 L1043.25,296.12 L1043.50,296.03 L1043.75,296.10 L1044.00,296.20 L1044.25,296.42 L1044.50,296.16 L1044.75,296.10 L1045.00,296.17 L1045.25,296.13 L1045.50,296.25 L1045.75,296.24 L1046.00,296.31 L1046.25,296.03 L1046.50,296.17 L1046.75,296.25 L1047.00,296.35 L1047.25,296.21 L1047.50,296.02 L1047.75,296.14 L1048.00,296.28 L1048.25,296.02 L1048.50,296.02 L1048.75,296.07 L1049.00,296.10 L1049.25,296.05 L1049.50,296.13 L1049.75,296.10 L1050.00,296.29 L1050.25,296.01 L1050.50,296.16 L1050.75,295.95 L1051.00,296.44 L1051.25,296.11 L1051.50,296.07 L1051.75,296.23 L1052.00,296.14 L1052.25,296.10 L1052.50,296.12 L1052.75,296.25 L1053.00,296.21 L1053.25,296.07 L1053.50,296.03 L1053.75,296.18 L1054.00,296.18 L1054.25,296.16 L1054.50,296.06 L1054.75,296.31 L1055.00,296.34 L1055.25,296.17 L1055.50,296.31 L1055.75,296.25 L1056.00,296.17 L1056.25,296.12 L1056.50,296.30 L1056.75,296.07 L1057.00,296.37 L1057.25,296.09 L1057.50,296.33 L1057.75,296.25 L1058.00,295.91 L1058.25,295.68 L1058.50,294.96 L1058.75,293.85 L1059.00,293.13 L1059.25,293.80 L1059.50,294.87 L1059.75,295.51 L1060.00,296.07 L1060.25,296.16 L1060.50,296.20 L1060.75,296.01 L1061.00,296.04 L1061.25,296.01 L1061.50,296.17 L1061.75,296.19 L1062.00,296.07 L1062.25,296.22 L1062.50,296.07 L1062.75,296.09 L1063.00,296.26 L1063.25,296.19 L1063.50,296.19 L1063.75,295.97 L1064.00,295.87 L1064.25,296.19 L1064.50,296.17 L1064.75,296.45 L1065.00,296.15 L1065.25,296.18 L1065.50,296.30 L1065.75,296.08 L1066.00,296.36 L1066.25,296.20 L1066.50,296.16 L1066.75,296.32 L1067.00,296.07 L1067.25,296.04 L1067.50,296.34 L1067.75,296.34 L1068.00,296.10 L1068.25,296.17 L1068.50,296.31 L1068.75,296.20 L1069.00,296.18 L1069.25,296.18 L1069.50,296.06 L1069.75,296.11 L1070.00,295.95 L1070.25,295.99 L1070.50,296.07 L1070.75,296.02 L1071.00,295.99 L1071.25,296.06 L1071.50,296.29 L1071.75,296.04 L1072.00,296.13 L1072.25,295.95 L1072.50,296.13 L1072.75,296.07 L1073.00,296.09 L1073.25,295.93 L1073.50,296.10 L1073.75,296.15 L1074.00,296.08 L1074.25,296.16 L1074.50,296.08 L1074.75,296.10 L1075.00,296.06 L1075.25,295.85 L1075.50,296.13 L1075.75,296.07 L1076.00,296.08 L1076.25,295.97 L1076.50,296.18 L1076.75,296.11 L1077.00,296.02 L1077.25,295.93 L1077.50,295.98 L1077.75,296.01 L1078.00,296.03 L1078.25,295.84 L1078.50,295.70 L1078.75,295.79 L1079.00,295.76 L1079.25,295.67 L1079.50,295.77 L1079.75,295.62 L1080.00,295.51 L1080.25,295.31 L1080.50,295.19 L1080.75,295.11 L1081.00,294.54 L1081.25,294.06 L1081.50,293.73 L1081.75,292.81 L1082.00,291.56 L1082.25,289.59 L1082.50,287.11 L1082.75,283.59 L1083.00,282.26 L1083.25,283.63 L1083.50,286.92 L1083.75,289.73 L1084.00,291.61 L1084.25,292.75 L1084.50,293.80 L1084.75,294.31 L1085.00,294.73 L1085.25,295.17 L1085.50,295.03 L1085.75,295.28 L1086.00,295.48 L1086.25,295.44 L1086.50,295.78 L1086.75,295.74 L1087.00,295.58 L1087.25,295.71 L1087.50,296.14 L1087.75,296.30 L1088.00,296.05 L1088.25,295.83 L1088.50,296.03 L1088.75,296.02 L1089.00,295.94 L1089.25,296.13 L1089.50,296.01 L1089.75,295.95 L1090.00,295.99 L1090.25,295.99 L1090.50,296.07 L1090.75,295.86 L1091.00,295.81 L1091.25,295.33 L1091.50,294.73 L1091.75,294.43 L1092.00,293.58 L1092.25,291.98 L1092.50,290.05 L1092.75,287.68 L1093.00,284.94 L1093.25,282.02 L1093.50,278.56 L1093.75,274.62 L1094.00,271.11 L1094.25,267.08 L1094.50,263.60 L1094.75,260.07 L1095.00,256.97 L1095.25,254.21 L1095.50,251.84 L1095.75,250.08 L1096.00,248.31 L1096.25,247.08 L1096.50,246.07 L1096.75,245.25 L1097.00,244.92 L1097.25,244.64 L1097.50,244.43 L1097.75,244.25 L1098.00,244.05 L1098.25,244.19 L1098.50,243.92 L1098.75,243.99 L1099.00,244.00 L1099.25,244.07 L1099.50,243.81 L1099.75,243.69 L1100.00,243.95 L1100.25,243.59 L1100.50,243.61 L1100.75,243.95 L1101.00,244.26 L1101.25,244.54 L1101.50,245.42 L1101.75,246.67 L1102.00,247.85 L1102.25,249.47 L1102.50,251.37 L1102.75,253.84 L1103.00,255.92 L1103.25,258.75 L1103.50,261.43 L1103.75,264.26 L1104.00,266.84 L1104.25,269.50 L1104.50,271.78 L1104.75,273.48 L1105.00,274.85 L1105.25,276.12 L1105.50,276.61 L1105.75,277.13 L1106.00,277.37 L1106.25,277.11 L1106.50,277.30 L1106.75,276.99 L1107.00,277.11 L1107.25,277.02 L1107.50,277.33 L1107.75,277.50 L1108.00,277.59 L1108.25,278.10 L1108.50,278.62 L1108.75,279.24 L1109.00,279.78 L1109.25,280.70 L1109.50,281.41 L1109.75,282.09 L1110.00,283.00 L1110.25,283.85 L1110.50,284.66 L1110.75,285.57 L1111.00,286.49 L1111.25,287.17 L1111.50,288.14 L1111.75,288.99 L1112.00,289.98 L1112.25,290.84 L1112.50,291.71 L1112.75,292.27 L1113.00,293.10 L1113.25,293.49 L1113.50,293.83 L1113.75,294.16 L1114.00,294.61 L1114.25,295.14 L1114.50,295.23 L1114.75,295.60 L1115.00,295.57 L1115.25,295.82 L1115.50,295.80 L1115.75,295.68 L1116.00,295.93 L1116.25,295.81 L1116.50,296.10 L1116.75,296.18 L1117.00,296.00 L1117.25,295.96 L1117.50,296.24 L1117.75,296.17 L1118.00,296.36 L1118.25,296.21 L1118.50,296.08 L1118.75,296.20 L1119.00,296.26 L1119.25,296.36 L1119.50,296.15 L1119.75,296.09 L1120.00,296.12 L1120.25,296.16 L1120.50,296.34 L1120.75,295.97 L1121.00,296.18 L1121.25,296.19 L1121.50,296.08 L1121.75,296.42 L1122.00,296.16 L1122.25,296.15 L1122.50,296.07 L1122.75,295.94 L1123.00,296.02 L1123.25,296.26 L1123.50,296.05 L1123.75,295.94 L1124.00,295.89 L1124.25,296.00 L1124.50,295.97 L1124.75,295.62 L1125.00,295.55 L1125.25,295.47 L1125.50,295.55 L1125.75,294.98 L1126.00,295.37 L1126.25,294.88 L1126.50,294.38 L1126.75,294.42 L1127.00,294.12 L1127.25,294.01 L1127.50,293.40 L1127.75,293.40 L1128.00,292.86 L1128.25,292.50 L1128.50,292.24 L1128.75,291.58 L1129.00,291.40 L1129.25,290.84 L1129.50,290.25 L1129.75,289.77 L1130.00,289.11 L1130.25,288.47 L1130.50,288.01 L1130.75,287.40 L1131.00,286.74 L1131.25,286.03 L1131.50,285.17 L1131.75,284.55 L1132.00,283.71 L1132.25,282.98 L1132.50,282.26 L1132.75,281.23 L1133.00,280.62 L1133.25,279.65 L1133.50,278.62 L1133.75,278.08 L1134.00,277.13 L1134.25,276.50 L1134.50,275.59 L1134.75,274.97 L1135.00,274.14 L1135.25,273.52 L1135.50,272.87 L1135.75,272.20 L1136.00,271.94 L1136.25,271.56 L1136.50,271.41 L1136.75,271.29 L1137.00,271.32 L1137.25,271.48 L1137.50,271.40 L1137.75,271.44 L1138.00,271.88 L1138.25,272.39 L1138.50,272.57 L1138.75,273.31 L1139.00,273.86 L1139.25,274.49 L1139.50,275.03 L1139.75,275.50 L1140.00,275.77 L1140.25,276.54 L1140.50,277.10 L1140.75,277.45 L1141.00,277.74 L1141.25,278.16 L1141.50,278.11 L1141.75,278.11 L1142.00,278.13 L1142.25,277.98 L1142.50,277.99 L1142.75,277.73 L1143.00,276.98 L1143.25,276.54 L1143.50,276.32 L1143.75,275.52 L1144.00,274.92 L1144.25,274.20 L1144.50,273.56 L1144.75,272.98 L1145.00,272.24 L1145.25,271.62 L1145.50,271.07 L1145.75,270.76 L1146.00,270.44 L1146.25,269.79 L1146.50,269.59 L1146.75,269.14 L1147.00,268.95 L1147.25,268.95 L1147.50,269.05 L1147.75,269.11 L1148.00,269.15 L1148.25,269.61 L1148.50,269.70 L1148.75,270.05 L1149.00,270.47 L1149.25,270.71 L1149.50,271.37 L1149.75,271.58 L1150.00,272.22 L1150.25,272.62 L1150.50,273.07 L1150.75,273.32 L1151.00,273.92 L1151.25,274.24 L1151.50,274.84 L1151.75,275.06 L1152.00,275.48 L1152.25,276.21 L1152.50,276.62 L1152.75,277.37 L1153.00,277.84 L1153.25,278.79 L1153.50,279.72 L1153.75,280.11 L1154.00,281.09 L1154.25,281.99 L1154.50,282.74 L1154.75,283.65 L1155.00,284.24 L1155.25,285.09 L1155.50,285.49 L1155.75,286.24 L1156.00,287.13 L1156.25,287.67 L1156.50,288.06 L1156.75,288.67 L1157.00,288.84 L1157.25,289.18 L1157.50,289.56 L1157.75,289.79 L1158.00,289.89 L1158.25,289.97 L1158.50,290.13 L1158.75,290.47 L1159.00,290.51 L1159.25,290.85 L1159.50,290.85 L1159.75,291.16 L1160.00,291.11 L1160.25,291.51 L1160.50,291.64 L1160.75,291.70 L1161.00,291.82 L1161.25,292.26 L1161.50,292.36 L1161.75,292.49 L1162.00,292.69 L1162.25,293.04 L1162.50,293.15 L1162.75,293.41 L1163.00,293.42 L1163.25,293.74 L1163.50,294.17 L1163.75,294.47 L1164.00,294.38 L1164.25,294.43 L1164.50,294.72 L1164.75,294.79 L1165.00,295.11 L1165.25,295.35 L1165.50,295.22 L1165.75,295.41 L1166.00,295.44 L1166.25,295.78 L1166.50,295.67 L1166.75,295.84 L1167.00,295.73 L1167.25,295.96 L1167.50,296.01 L1167.75,296.05 L1168.00,295.86 L1168.25,296.04 L1168.50,296.16 L1168.75,296.22 L1169.00,296.24 L1169.25,295.95 L1169.50,296.36 L1169.75,296.26 L1170.00,296.09 L1170.25,296.03 L1170.50,296.19 L1170.75,296.09 L1171.00,296.09 L1171.25,296.07 L1171.50,296.18 L1171.75,295.99 L1172.00,296.17 L1172.25,296.01 L1172.50,296.32 L1172.75,296.08 L1173.00,296.34 L1173.25,296.37 L1173.50,296.13 L1173.75,296.29 L1174.00,296.14 L1174.25,296.32 L1174.50,296.00 L1174.75,296.19 L1175.00,296.33 L1175.25,296.17 L1175.50,296.09 L1175.75,296.28 L1176.00,296.13 L1176.25,295.95 L1176.50,296.09 L1176.75,296.19 L1177.00,296.26 L1177.25,296.12 L1177.50,296.37 L1177.75,296.56 L1178.00,296.27 L1178.25,296.32 L1178.50,295.98 L1178.75,296.17 L1179.00,296.31 L1179.25,296.33 L1179.50,296.13 L1179.75,296.29 L1180.00,296.26 L1180.25,296.20 L1180.50,296.18 L1180.75,296.18 L1181.00,296.18 L1181.25,296.03 L1181.50,295.99 L1181.75,296.39 L1182.00,295.88 L1182.25,296.17 L1182.50,296.04 L1182.75,296.28 L1183.00,296.15 L1183.25,296.16 L1183.50,296.18 L1183.75,296.09 L1184.00,296.11 L1184.25,296.31 L1184.50,296.20 L1184.75,296.10 L1185.00,296.11 L1185.25,296.23 L1185.50,296.22 L1185.75,296.21 L1186.00,296.32 L1186.25,296.34 L1186.50,296.00 L1186.75,296.24 L1187.00,296.18 L1187.25,296.28 L1187.50,296.03 L1187.75,295.98 L1188.00,296.22 L1188.25,296.13 L1188.50,296.28 L1188.75,295.98 L1189.00,296.08 L1189.25,296.29 L1189.50,296.04 L1189.75,296.15 L1190.00,296.14 L1190.25,296.15 L1190.50,296.27 L1190.75,296.25 L1191.00,296.11 L1191.25,296.20 L1191.50,296.30 L1191.75,295.95 L1192.00,296.21 L1192.25,296.26 L1192.50,296.27 L1192.75,296.11 L1193.00,296.07 L1193.25,296.16 L1193.50,296.09 L1193.75,296.37 L1194.00,296.23 L1194.25,296.25 L1194.50,296.19 L1194.75,296.13 L1195.00,296.43 L1195.25,295.81 L1195.50,296.29 L1195.75,296.15 L1196.00,296.09 L1196.25,296.09 L1196.50,296.16 L1196.75,296.54 L1197.00,296.32 L1197.25,296.10 L1197.50,296.30 L1197.75,296.32 L1198.00,296.47 L1198.25,296.05 L1198.50,296.13 L1198.75,296.30 L1199.00,296.21 L1199.25,296.21 L1199.50,296.33 L1199.75,296.23 L1200.00,296.16 L1200.25,296.13 L1200.50,296.04 L1200.75,296.19 L1201.00,296.25 L1201.25,296.15 L1201.50,296.27 L1201.75,296.35 L1202.00,296.06 L1202.25,296.24 L1202.50,296.18 L1202.75,296.12 L1203.00,296.33 L1203.25,296.12 L1203.50,296.14 L1203.75,296.21 L1204.00,296.15 L1204.25,296.29 L1204.50,296.46 L1204.75,296.23 L1205.00,296.30 L1205.25,296.09 L1205.50,296.16 L1205.75,296.26 L1206.00,296.19 L1206.25,296.03 L1206.50,296.06 L1206.75,296.15 L1207.00,296.14 L1207.25,296.23 L1207.50,296.21 L1207.75,296.12 L1208.00,296.21 L1208.25,296.16 L1208.50,296.33 L1208.75,296.40 L1209.00,296.40 L1209.25,296.25 L1209.50,296.04 L1209.75,296.05 L1210.00,296.32 L1210.25,296.38 L1210.50,296.10 L1210.75,296.14 L1211.00,296.36 L1211.25,296.07 L1211.50,296.17 L1211.75,296.04 L1212.00,296.15 L1212.25,296.09 L1212.50,296.16 L1212.75,296.31 L1213.00,296.22 L1213.25,296.28 L1213.50,296.10 L1213.75,296.32 L1214.00,296.38 L1214.25,296.11 L1214.50,296.06 L1214.75,296.02 L1215.00,296.06 L1215.25,296.38 L1215.50,296.28 L1215.75,296.26 L1216.00,296.20 L1216.25,296.45 L1216.50,296.20 L1216.75,296.16 L1217.00,296.31 L1217.25,296.18 L1217.50,296.05 L1217.75,296.19 L1218.00,296.07 L1218.25,296.07 L1218.50,296.15 L1218.75,296.15 L1219.00,296.24 L1219.25,296.05 L1219.50,296.25 L1219.75,296.28 L1220.00,296.11 L1220.25,296.28 L1220.50,296.15 L1220.75,296.07 L1221.00,296.19 L1221.25,296.18 L1221.50,296.09 L1221.75,296.11 L1222.00,296.38 L1222.25,296.35 L1222.50,296.04 L1222.75,296.15 L1223.00,296.45 L1223.25,296.36 L1223.50,296.19 L1223.75,296.31 L1224.00,296.14 L1224.25,296.19 L1224.50,296.14 L1224.75,296.34 L1225.00,296.12 L1225.25,295.96 L1225.50,296.29 L1225.75,296.04 L1226.00,296.08 L1226.25,296.12 L1226.50,296.20 L1226.75,296.33 L1227.00,296.30 L1227.25,296.10 L1227.50,296.08 L1227.75,296.05 L1228.00,296.08 L1228.25,296.09 L1228.50,296.25 L1228.75,296.34 L1229.00,296.17 L1229.25,296.13 L1229.50,296.18 L1229.75,296.38 L1230.00,296.26 L1230.25,296.37 L1230.50,296.18 L1230.75,296.32 L1231.00,296.21 L1231.25,296.16 L1231.50,296.18 L1231.75,296.03 L1232.00,296.33 L1232.25,296.46 L1232.50,296.08 L1232.75,296.03 L1233.00,296.02 L1233.25,296.16 L1233.50,296.13 L1233.75,296.18 L1234.00,296.35 L1234.25,296.26 L1234.50,296.13 L1234.75,296.26 L1235.00,295.96 L1235.25,296.38 L1235.50,296.25 L1235.75,296.06 L1236.00,296.27 L1236.25,296.33 L1236.50,296.36 L1236.75,296.28 L1237.00,296.01 L1237.25,296.14 L1237.50,296.13 L1237.75,296.26 L1238.00,296.09 L1238.25,296.18 L1238.50,296.30 L1238.75,296.25 L1239.00,296.17 L1239.25,296.05 L1239.50,296.20 L1239.75,296.13 L1240.00,295.95 L1240.25,296.29 L1240.50,296.34 L1240.75,296.08 L1241.00,296.14 L1241.25,296.20 L1241.50,296.16 L1241.75,296.23 L1242.00,296.13 L1242.25,296.23 L1242.50,296.10 L1242.75,296.33 L1243.00,296.29 L1243.25,296.18 L1243.50,296.25 L1243.75,296.11 L1244.00,296.20 L1244.25,296.26 L1244.50,296.17 L1244.75,296.26 L1245.00,296.38 L1245.25,296.33 L1245.50,296.29 L1245.75,296.25 L1246.00,296.18 L1246.25,296.08 L1246.50,296.13 L1246.75,295.98 L1247.00,296.04 L1247.25,296.21 L1247.50,295.99 L1247.75,296.05 L1248.00,296.25 L1248.25,296.15 L1248.50,296.06 L1248.75,296.16 L1249.00,296.07 L1249.25,296.14 L1249.50,296.11 L1249.75,296.23 L1250.00,296.15 L1250.25,296.24 L1250.50,296.11 L1250.75,296.39 L1251.00,296.15 L1251.25,296.04 L1251.50,296.12 L1251.75,296.19 L1252.00,296.13 L1252.25,296.29 L1252.50,296.29 L1252.75,296.23 L1253.00,296.21 L1253.25,296.08 L1253.50,296.30 L1253.75,296.07 L1254.00,296.38 L1254.25,296.29 L1254.50,296.20 L1254.75,296.05 L1255.00,296.26 L1255.25,296.45 L1255.50,296.14 L1255.75,296.19 L1256.00,296.32 L1256.25,296.32 L1256.50,296.27 L1256.75,296.18 L1257.00,296.11 L1257.25,296.37 L1257.50,295.92 L1257.75,296.20 L1258.00,296.24 L1258.25,296.11 L1258.50,296.18 L1258.75,295.91 L1259.00,296.06 L1259.25,296.24 L1259.50,296.24 L1259.75,296.25 L1260.00,296.23 L1260.25,296.11 L1260.50,296.27 L1260.75,296.00 L1261.00,296.20 L1261.25,296.21 L1261.50,296.08 L1261.75,296.43 L1262.00,296.30 L1262.25,296.12 L1262.50,296.19 L1262.75,296.19 L1263.00,296.14 L1263.25,296.26 L1263.50,296.21 L1263.75,296.35 L1264.00,296.42 L1264.25,296.04 L1264.50,296.30 L1264.75,296.28 L1265.00,296.02 L1265.25,296.06 L1265.50,296.25 L1265.75,296.26 L1266.00,296.20 L1266.25,296.31 L1266.50,296.13 L1266.75,296.17 L1267.00,296.18 L1267.25,296.10 L1267.50,296.11 L1267.75,295.97 L1268.00,296.01 L1268.25,296.40 L1268.50,296.08 L1268.75,296.33 L1269.00,296.36 L1269.25,296.11 L1269.50,296.28 L1269.75,296.23 L1270.00,296.06 L1270.25,296.27 L1270.50,296.30 L1270.75,296.15 L1271.00,296.04 L1271.25,296.13 L1271.50,296.38 L1271.75,296.27 L1272.00,296.21 L1272.25,295.96 L1272.50,296.08 L1272.75,296.09 L1273.00,296.05 L1273.25,296.23 L1273.50,296.13 L1273.75,296.13 L1274.00,296.31 L1274.25,296.19 L1274.50,296.12 L1274.75,296.32 L1275.00,296.09 L1275.25,296.10 L1275.50,296.07 L1275.75,296.28 L1276.00,296.18 L1276.25,296.02 L1276.50,296.10 L1276.75,296.29 L1277.00,296.16 L1277.25,296.02 L1277.50,296.20 L1277.75,296.15 L1278.00,295.88 L1278.25,296.20 L1278.50,296.20 L1278.75,296.31 L1279.00,296.27 L1279.25,296.01 L1279.50,296.21 L1279.75,296.33 L1280.00,296.30 L1280.25,296.19 L1280.50,296.10 L1280.75,296.28 L1281.00,296.11 L1281.25,296.25 L1281.50,296.15 L1281.75,296.13 L1282.00,296.12 L1282.25,296.24 L1282.50,296.21 L1282.75,296.13 L1283.00,296.35 L1283.25,296.17 L1283.50,296.13 L1283.75,296.07 L1284.00,296.20 L1284.25,296.22 L1284.50,296.18 L1284.75,296.28 L1285.00,296.22 L1285.25,296.15 L1285.50,296.16 L1285.75,296.32 L1286.00,296.23 L1286.25,296.45 L1286.50,296.10 L1286.75,296.26 L1287.00,296.17 L1287.25,296.33 L1287.50,296.21 L1287.75,296.14 L1288.00,296.08 L1288.25,296.36 L1288.50,296.10 L1288.75,296.22 L1289.00,296.29 L1289.25,296.14 L1289.50,296.23 L1289.75,296.23 L1290.00,296.28 L1290.25,296.17 L1290.50,296.19 L1290.75,296.22 L1291.00,296.31 L1291.25,296.26 L1291.50,296.15 L1291.75,296.04 L1292.00,296.20 L1292.25,296.03 L1292.50,296.20 L1292.75,296.33 L1293.00,296.12 L1293.25,296.31 L1293.50,296.15 L1293.75,296.07 L1294.00,296.23 L1294.25,296.21 L1294.50,295.90 L1294.75,296.17 L1295.00,296.17 L1295.25,296.10 L1295.50,296.21 L1295.75,296.21 L1296.00,296.15 L1296.25,296.48 L1296.50,296.03 L1296.75,296.32 L1297.00,296.33 L1297.25,296.13 L1297.50,296.19 L1297.75,296.35 L1298.00,296.17 L1298.25,296.33 L1298.50,296.28 L1298.75,296.38 L1299.00,296.30 L1299.25,296.15 L1299.50,296.18 L1299.75,296.16 L1300.00,296.09 L1300.25,296.20 L1300.50,296.28 L1300.75,296.23 L1301.00,296.00 L1301.25,296.19 L1301.50,296.16 L1301.75,296.21 L1302.00,296.17 L1302.25,296.14 L1302.50,296.20 L1302.75,296.21 L1303.00,296.29 L1303.25,296.30 L1303.50,296.15 L1303.75,296.11 L1304.00,296.09 L1304.25,296.19 L1304.50,296.29 L1304.75,296.12 L1305.00,296.12 L1305.25,296.38 L1305.50,296.10 L1305.75,296.13 L1306.00,296.00 L1306.25,296.33 L1306.50,296.35 L1306.75,296.10 L1307.00,296.41 L1307.25,296.28 L1307.50,296.33 L1307.75,296.32 L1308.00,296.42 L1308.25,296.22 L1308.50,296.08 L1308.75,296.14 L1309.00,296.14 L1309.25,296.24 L1309.50,296.02 L1309.75,296.13 L1310.00,296.07 L1310.25,296.38 L1310.50,296.15 L1310.75,296.33 L1311.00,296.15 L1311.25,296.17 L1311.50,296.33 L1311.75,296.17 L1312.00,296.05 L1312.25,296.13 L1312.50,296.12 L1312.75,296.30 L1313.00,296.27 L1313.25,296.33 L1313.50,296.18 L1313.75,296.05 L1314.00,296.14 L1314.25,296.19 L1314.50,296.33 L1314.75,296.14 L1315.00,296.22 L1315.25,296.42 L1315.50,296.40 L1315.75,296.23 L1316.00,296.30 L1316.25,295.99 L1316.50,296.19 L1316.75,296.31 L1317.00,296.25 L1317.25,296.00 L1317.50,296.30 L1317.75,296.10 L1318.00,296.14 L1318.25,296.01 L1318.50,296.13 L1318.75,296.24 L1319.00,296.13 L1319.25,296.18 L1319.50,296.07 L1319.75,296.20 L1320.00,295.95 L1320.25,296.20 L1320.50,296.14 L1320.75,296.27 L1321.00,296.17 L1321.25,296.19 L1321.50,296.17 L1321.75,296.08 L1322.00,296.25 L1322.25,296.29 L1322.50,296.06 L1322.75,296.22 L1323.00,296.27 L1323.25,296.05 L1323.50,296.09 L1323.75,296.50 L1324.00,296.23 L1324.25,296.09 L1324.50,296.09 L1324.75,296.25 L1325.00,296.00 L1325.25,296.28 L1325.50,296.21 L1325.75,296.17 L1326.00,296.19 L1326.25,296.09 L1326.50,296.06 L1326.75,296.19 L1327.00,296.02 L1327.25,296.27 L1327.50,296.21 L1327.75,295.98 L1328.00,296.17 L1328.25,296.06 L1328.50,296.24 L1328.75,296.22 L1329.00,296.20 L1329.25,296.16 L1329.50,296.22 L1329.75,296.18 L1330.00,296.10 L1330.25,296.04 L1330.50,296.17 L1330.75,296.10 L1331.00,296.07 L1331.25,296.31 L1331.50,296.37 L1331.75,295.99 L1332.00,296.02 L1332.25,296.17 L1332.50,296.14 L1332.75,296.29 L1333.00,296.35 L1333.25,296.14 L1333.50,296.36 L1333.75,296.07 L1334.00,296.26 L1334.25,296.14 L1334.50,295.95 L1334.75,295.95 L1335.00,296.21 L1335.25,296.05 L1335.50,296.30 L1335.75,296.25 L1336.00,296.13 L1336.25,296.01 L1336.50,296.25 L1336.75,296.11 L1337.00,296.17 L1337.25,296.33 L1337.50,296.19 L1337.75,296.00 L1338.00,296.19 L1338.25,296.12 L1338.50,296.08 L1338.75,296.26 L1339.00,296.03 L1339.25,296.00 L1339.50,295.98 L1339.75,296.02 L1340.00,296.23 L1340.25,296.24 L1340.50,296.27 L1340.75,296.28 L1341.00,296.27 L1341.25,296.05 L1341.50,296.00 L1341.75,296.25 L1342.00,296.08 L1342.25,296.32 L1342.50,296.21 L1342.75,296.29 L1343.00,296.37 L1343.25,296.16 L1343.50,296.16 L1343.75,296.22 L1344.00,296.23 L1344.25,296.29 L1344.50,296.19 L1344.75,296.24 L1345.00,296.14 L1345.25,296.31 L1345.50,296.14 L1345.75,296.11 L1346.00,296.02 L1346.25,296.04 L1346.50,296.14 L1346.75,296.25 L1347.00,296.38 L1347.25,296.17 L1347.50,295.99 L1347.75,295.96 L1348.00,296.47 L1348.25,296.25 L1348.50,296.20 L1348.75,296.29 L1349.00,296.14 L1349.25,296.15 L1349.50,296.22 L1349.75,296.16 L1350.00,296.35 L1350.25,296.27 L1350.50,296.26 L1350.75,296.05 L1351.00,296.35 L1351.25,296.18 L1351.50,296.06 L1351.75,296.16 L1352.00,296.05 L1352.25,296.23 L1352.50,296.09 L1352.75,296.04 L1353.00,295.88 L1353.25,296.06 L1353.50,295.97 L1353.75,296.14 L1354.00,296.13 L1354.25,295.95 L1354.50,296.06 L1354.75,295.96 L1355.00,296.05 L1355.25,295.87 L1355.50,295.84 L1355.75,296.23 L1356.00,295.90 L1356.25,296.07 L1356.50,296.06 L1356.75,296.13 L1357.00,296.03 L1357.25,296.24 L1357.50,296.20 L1357.75,296.20 L1358.00,296.07 L1358.25,295.99 L1358.50,296.01 L1358.75,296.05 L1359.00,296.16 L1359.25,296.30 L1359.50,296.03 L1359.75,296.06 L1360.00,296.03 L1360.25,295.90 L1360.50,296.08 L1360.75,296.08 L1361.00,296.33 L1361.25,295.98 L1361.50,296.04 L1361.75,296.12 L1362.00,295.98 L1362.25,296.14 L1362.50,296.07 L1362.75,295.76 L1363.00,295.90 L1363.25,295.87 L1363.50,295.88 L1363.75,295.88 L1364.00,295.92 L1364.25,295.65 L1364.50,295.92 L1364.75,295.81 L1365.00,295.91 L1365.25,295.90 L1365.50,296.13 L1365.75,296.04 L1366.00,295.60 L1366.25,295.58 L1366.50,295.78 L1366.75,295.69 L1367.00,295.57 L1367.25,295.72 L1367.50,295.34 L1367.75,295.61 L1368.00,295.51 L1368.25,295.67 L1368.50,295.07 L1368.75,295.13 L1369.00,294.82 L1369.25,294.98 L1369.50,294.64 L1369.75,294.45 L1370.00,294.17 L1370.25,293.60 L1370.50,293.14 L1370.75,292.65 L1371.00,291.94 L1371.25,290.08 L1371.50,286.30 L1371.75,277.96 L1372.00,260.37 L1372.25,228.78 L1372.50,181.69 L1372.75,124.80 L1373.00,75.47 L1373.25,61.33 L1373.50,92.78 L1373.75,147.75 L1374.00,202.35 L1374.25,243.41 L1374.50,269.11 L1374.75,282.29 L1375.00,288.50 L1375.25,291.13 L1375.50,292.38 L1375.75,293.11 L1376.00,293.63 L1376.25,294.29 L1376.50,294.12 L1376.75,294.59 L1377.00,294.89 L1377.25,295.00 L1377.50,295.03 L1377.75,295.31 L1378.00,295.34 L1378.25,295.43 L1378.50,295.38 L1378.75,295.60 L1379.00,295.52 L1379.25,295.58 L1379.50,295.68 L1379.75,295.56 L1380.00,295.74 L1380.25,295.91 L1380.50,295.76 L1380.75,295.81 L1381.00,295.85 L1381.25,295.84 L1381.50,295.61 L1381.75,295.88 L1382.00,295.87 L1382.25,295.97 L1382.50,295.79 L1382.75,295.97 L1383.00,296.07 L1383.25,296.13 L1383.50,295.93 L1383.75,295.92 L1384.00,296.20 L1384.25,296.11 L1384.50,295.95 L1384.75,295.91 L1385.00,296.20 L1385.25,296.10 L1385.50,295.96 L1385.75,296.13 L1386.00,296.12 L1386.25,296.14 L1386.50,296.23 L1386.75,296.07 L1387.00,296.05 L1387.25,296.26 L1387.50,296.08 L1387.75,295.96 L1388.00,296.07 L1388.25,295.99 L1388.50,296.17 L1388.75,295.94 L1389.00,296.20 L1389.25,295.89 L1389.50,296.17 L1389.75,296.20 L1390.00,296.23 L1390.25,296.17 L1390.50,296.18 L1390.75,296.21 L1391.00,296.17 L1391.25,296.05 L1391.50,296.03 L1391.75,296.17 L1392.00,295.99 L1392.25,296.26 L1392.50,296.26 L1392.75,296.28 L1393.00,296.07 L1393.25,296.33 L1393.50,296.31 L1393.75,295.99 L1394.00,295.94 L1394.25,295.99 L1394.50,296.33 L1394.75,296.15 L1395.00,296.05 L1395.25,296.14 L1395.50,296.35 L1395.75,296.19 L1396.00,296.36 L1396.25,296.30 L1396.50,295.90 L1396.75,296.08 L1397.00,296.33 L1397.25,296.34 L1397.50,296.10 L1397.75,296.23 L1398.00,296.09 L1398.25,296.24 L1398.50,296.19 L1398.75,296.13 L1399.00,296.29 L1399.25,296.39 L1399.50,296.31 L1399.75,296.25 L1400.00,296.19 L1400.25,296.17 L1400.50,296.18 L1400.75,296.11 L1401.00,296.28 L1401.25,296.00 L1401.50,295.93 L1401.75,296.13 L1402.00,296.15 L1402.25,296.02 L1402.50,296.09 L1402.75,296.15 L1403.00,296.19 L1403.25,296.26 L1403.50,296.31 L1403.75,296.09 L1404.00,296.03 L1404.25,296.30 L1404.50,296.18 L1404.75,296.15 L1405.00,296.23 L1405.25,296.27 L1405.50,296.22 L1405.75,296.41 L1406.00,296.18 L1406.25,296.21 L1406.50,295.92 L1406.75,296.06 L1407.00,296.22 L1407.25,296.18 L1407.50,295.97 L1407.75,295.99 L1408.00,296.16 L1408.25,296.19 L1408.50,296.35 L1408.75,296.22 L1409.00,296.20 L1409.25,296.27 L1409.50,295.97 L1409.75,296.40 L1410.00,296.20 L1410.25,296.13 L1410.50,296.13 L1410.75,295.98 L1411.00,296.35 L1411.25,296.27 L1411.50,296.17 L1411.75,296.17 L1412.00,296.23 L1412.25,296.27 L1412.50,296.05 L1412.75,296.31 L1413.00,296.25 L1413.25,296.01 L1413.50,295.97 L1413.75,296.08 L1414.00,296.29 L1414.25,296.29 L1414.50,296.29 L1414.75,296.32 L1415.00,296.23 L1415.25,296.03 L1415.50,296.16 L1415.75,296.27 L1416.00,296.28 L1416.25,296.32 L1416.50,296.04 L1416.75,296.43 L1417.00,296.15 L1417.25,296.36 L1417.50,296.31 L1417.75,296.36 L1418.00,296.07 L1418.25,296.20 L1418.50,295.86 L1418.75,296.31 L1419.00,296.32 L1419.25,296.12 L1419.50,296.12 L1419.75,296.22 L1420.00,296.43 L1420.25,296.01 L1420.50,296.12 L1420.75,296.14 L1421.00,296.26 L1421.25,296.11 L1421.50,296.26 L1421.75,296.18 L1422.00,296.21 L1422.25,296.04 L1422.50,296.25 L1422.75,296.23 L1423.00,296.06 L1423.25,296.16 L1423.50,296.19 L1423.75,296.22 L1424.00,296.08 L1424.25,296.27 L1424.50,296.13 L1424.75,295.95 L1425.00,296.14 L1425.25,296.28 L1425.50,296.33 L1425.75,296.17 L1426.00,296.34 L1426.25,296.38 L1426.50,296.28 L1426.75,296.32 L1427.00,296.09 L1427.25,296.37 L1427.50,296.00 L1427.75,296.28 L1428.00,296.18 L1428.25,296.11 L1428.50,296.17 L1428.75,296.11 L1429.00,296.31 L1429.25,296.47 L1429.50,296.22 L1429.75,296.39 L1430.00,296.26 L1430.25,296.08 L1430.50,296.22 L1430.75,296.26 L1431.00,296.33 L1431.25,296.23 L1431.50,296.21 L1431.75,296.38 L1432.00,296.16 L1432.25,296.32 L1432.50,296.17 L1432.75,296.25 L1433.00,296.08 L1433.25,296.09 L1433.50,296.19 L1433.75,296.21 L1434.00,296.14 L1434.25,296.03 L1434.50,296.07 L1434.75,296.17 L1435.00,296.15 L1435.25,296.00 L1435.50,296.39 L1435.75,296.13 L1436.00,296.30 L1436.25,296.03 L1436.50,296.25 L1436.75,296.20 L1437.00,296.32 L1437.25,296.19 L1437.50,296.09 L1437.75,295.99 L1438.00,296.34 L1438.25,296.24 L1438.50,295.72 L1438.75,296.07 L1439.00,296.19 L1439.25,296.12 L1439.50,296.51 L1439.75,295.99 L1440.00,296.17 L1440.25,296.36 L1440.50,296.04 L1440.75,296.26 L1441.00,296.31 L1441.25,296.12 L1441.50,296.14 L1441.75,296.24 L1442.00,296.19 L1442.25,296.35 L1442.50,296.36 L1442.75,296.08 L1443.00,296.03 L1443.25,296.13 L1443.50,296.14 L1443.75,296.23 L1444.00,296.20 L1444.25,296.30 L1444.50,295.97 L1444.75,296.25 L1445.00,296.13 L1445.25,296.18 L1445.50,296.35 L1445.75,295.95 L1446.00,296.23 L1446.25,296.28 L1446.50,296.17 L1446.75,296.29 L1447.00,296.18 L1447.25,296.30 L1447.50,296.12 L1447.75,296.18 L1448.00,296.35 L1448.25,296.06 L1448.50,296.16 L1448.75,296.32 L1449.00,296.14 L1449.25,296.13 L1449.50,295.96 L1449.75,296.29 L1450.00,296.08 L1450.25,296.19 L1450.50,296.11 L1450.75,296.21 L1451.00,296.19 L1451.25,296.12 L1451.50,296.32 L1451.75,296.43 L1452.00,296.18 L1452.25,296.23 L1452.50,296.17 L1452.75,296.10 L1453.00,296.21 L1453.25,296.04 L1453.50,296.18 L1453.75,296.17 L1454.00,296.08 L1454.25,296.11 L1454.50,296.19 L1454.75,296.16 L1455.00,296.27 L1455.25,296.25 L1455.50,296.17 L1455.75,296.08 L1456.00,296.23 L1456.25,296.08 L1456.50,295.94 L1456.75,295.92 L1457.00,296.17 L1457.25,296.05 L1457.50,296.10 L1457.75,296.08 L1458.00,296.07 L1458.25,296.11 L1458.50,296.08 L1458.75,296.15 L1459.00,296.21 L1459.25,296.14 L1459.50,296.11 L1459.75,296.03 L1460.00,296.13 L1460.25,296.08 L1460.50,296.00 L1460.75,296.28 L1461.00,296.20 L1461.25,296.11 L1461.50,296.17 L1461.75,296.29 L1462.00,296.05 L1462.25,296.18 L1462.50,296.29 L1462.75,295.94 L1463.00,296.33 L1463.25,296.17 L1463.50,296.25 L1463.75,296.16 L1464.00,296.10 L1464.25,296.27 L1464.50,296.18 L1464.75,296.19 L1465.00,296.29 L1465.25,296.03 L1465.50,296.15 L1465.75,296.21 L1466.00,296.25 L1466.25,296.21 L1466.50,296.15 L1466.75,296.23 L1467.00,296.02 L1467.25,296.48 L1467.50,296.43 L1467.75,296.20 L1468.00,296.39 L1468.25,296.18 L1468.50,296.25 L1468.75,296.10 L1469.00,296.12 L1469.25,296.01 L1469.50,296.06 L1469.75,296.02 L1470.00,296.11 L1470.25,296.04 L1470.50,296.11 L1470.75,296.24 L1471.00,296.32 L1471.25,296.31 L1471.50,296.11 L1471.75,296.45 L1472.00,296.15 L1472.25,296.26 L1472.50,296.08 L1472.75,296.14 L1473.00,296.26 L1473.25,296.16 L1473.50,296.44 L1473.75,296.13 L1474.00,296.11 L1474.25,296.39 L1474.50,296.06 L1474.75,296.18 L1475.00,296.14 L1475.25,296.33 L1475.50,296.09 L1475.75,296.09 L1476.00,296.16 L1476.25,296.28 L1476.50,296.07 L1476.75,296.01 L1477.00,296.11 L1477.25,296.04 L1477.50,296.23 L1477.75,296.13 L1478.00,296.11 L1478.25,296.13 L1478.50,295.81 L1478.75,296.09 L1479.00,296.20 L1479.25,296.03 L1479.50,296.26 L1479.75,296.07 L1480.00,296.02 L1480.25,296.16 L1480.50,296.13 L1480.75,296.19 L1481.00,296.05 L1481.25,296.13 L1481.50,295.82 L1481.75,295.92 L1482.00,296.00 L1482.25,296.11 L1482.50,295.67 L1482.75,295.72 L1483.00,295.77 L1483.25,295.76 L1483.50,295.71 L1483.75,295.73 L1484.00,295.38 L1484.25,295.51 L1484.50,295.63 L1484.75,295.45 L1485.00,295.59 L1485.25,295.10 L1485.50,294.98 L1485.75,294.75 L1486.00,294.59 L1486.25,294.81 L1486.50,294.53 L1486.75,294.33 L1487.00,294.21 L1487.25,294.22 L1487.50,293.92 L1487.75,293.80 L1488.00,293.55 L1488.25,293.56 L1488.50,293.44 L1488.75,293.32 L1489.00,293.16 L1489.25,293.06 L1489.50,292.88 L1489.75,292.65 L1490.00,292.54 L1490.25,292.32 L1490.50,292.25 L1490.75,292.22 L1491.00,292.35 L1491.25,292.08 L1491.50,291.95 L1491.75,292.21 L1492.00,292.15 L1492.25,292.11 L1492.50,292.10 L1492.75,292.00 L1493.00,292.08 L1493.25,291.91 L1493.50,292.10 L1493.75,291.96 L1494.00,291.99 L1494.25,292.03 L1494.50,291.75 L1494.75,291.81 L1495.00,291.68 L1495.25,291.69 L1495.50,291.44 L1495.75,291.30 L1496.00,291.21 L1496.25,291.19 L1496.50,290.63 L1496.75,290.37 L1497.00,290.12 L1497.25,289.77 L1497.50,289.42 L1497.75,289.03 L1498.00,288.76 L1498.25,288.23 L1498.50,287.75 L1498.75,287.43 L1499.00,287.04 L1499.25,286.27 L1499.50,285.99 L1499.75,285.69 L1500.00,285.30 L1500.25,285.17 L1500.50,284.64 L1500.75,284.12 L1501.00,283.57 L1501.25,283.60 L1501.50,283.05 L1501.75,282.35 L1502.00,282.09 L1502.25,281.68 L1502.50,281.12 L1502.75,280.79 L1503.00,280.26 L1503.25,279.59 L1503.50,278.99 L1503.75,278.60 L1504.00,277.67 L1504.25,277.43 L1504.50,276.68 L1504.75,275.63 L1505.00,275.49 L1505.25,274.83 L1505.50,274.57 L1505.75,274.09 L1506.00,273.82 L1506.25,273.54 L1506.50,273.25 L1506.75,273.02 L1507.00,273.10 L1507.25,273.04 L1507.50,273.36 L1507.75,273.23 L1508.00,273.47 L1508.25,273.52 L1508.50,273.89 L1508.75,274.03 L1509.00,274.00 L1509.25,274.27 L1509.50,274.52 L1509.75,274.84 L1510.00,275.03 L1510.25,275.26 L1510.50,275.56 L1510.75,276.05 L1511.00,276.31 L1511.25,276.31 L1511.50,276.21 L1511.75,275.03 L1512.00,273.25 L1512.25,270.14 L1512.50,265.97 L1512.75,260.31 L1513.00,254.11 L1513.25,248.36 L1513.50,244.66 L1513.75,244.26 L1514.00,248.13 L1514.25,254.93 L1514.50,263.11 L1514.75,270.58 L1515.00,277.72 L1515.25,283.19 L1515.50,287.47 L1515.75,290.25 L1516.00,292.03 L1516.25,293.25 L1516.50,293.90 L1516.75,294.50 L1517.00,294.54 L1517.25,295.22 L1517.50,295.21 L1517.75,295.14 L1518.00,295.38 L1518.25,295.47 L1518.50,295.68 L1518.75,295.36 L1519.00,295.76 L1519.25,295.50 L1519.50,295.55 L1519.75,295.48 L1520.00,295.41 L1520.25,295.68 L1520.50,295.69 L1520.75,295.63 L1521.00,295.79 L1521.25,295.48 L1521.50,295.61 L1521.75,295.53 L1522.00,295.67 L1522.25,295.52 L1522.50,295.57 L1522.75,295.48 L1523.00,295.57 L1523.25,295.29 L1523.50,295.45 L1523.75,295.63 L1524.00,295.19 L1524.25,295.24 L1524.50,295.23 L1524.75,294.73 L1525.00,294.92 L1525.25,294.94 L1525.50,294.68 L1525.75,294.36 L1526.00,294.18 L1526.25,293.71 L1526.50,293.37 L1526.75,293.16 L1527.00,292.56 L1527.25,291.89 L1527.50,291.32 L1527.75,290.51 L1528.00,289.42 L1528.25,288.42 L1528.50,287.44 L1528.75,286.01 L1529.00,284.52 L1529.25,282.86 L1529.50,281.17 L1529.75,279.03 L1530.00,277.27 L1530.25,275.13 L1530.50,272.68 L1530.75,270.55 L1531.00,267.82 L1531.25,264.87 L1531.50,262.13 L1531.75,258.86 L1532.00,255.29 L1532.25,252.29 L1532.50,250.39 L1532.75,250.32 L1533.00,252.18 L1533.25,254.72 L1533.50,257.60 L1533.75,259.90 L1534.00,262.51 L1534.25,264.76 L1534.50,266.67 L1534.75,268.43 L1535.00,270.21 L1535.25,271.58 L1535.50,272.58 L1535.75,274.03 L1536.00,274.86 L1536.25,275.40 L1536.50,275.90 L1536.75,276.57 L1537.00,276.46 L1537.25,276.68 L1537.50,276.28 L1537.75,276.09 L1538.00,275.71 L1538.25,274.98 L1538.50,274.27 L1538.75,273.60 L1539.00,272.31 L1539.25,271.60 L1539.50,270.34 L1539.75,269.41 L1540.00,268.39 L1540.25,267.11 L1540.50,265.77 L1540.75,264.46 L1541.00,263.12 L1541.25,262.12 L1541.50,260.99 L1541.75,259.97 L1542.00,258.74 L1542.25,257.67 L1542.50,257.00 L1542.75,255.67 L1543.00,254.87 L1543.25,253.98 L1543.50,253.71 L1543.75,253.04 L1544.00,252.58 L1544.25,252.38 L1544.50,252.06 L1544.75,251.93 L1545.00,251.71 L1545.25,251.79 L1545.50,251.86 L1545.75,252.35 L1546.00,252.86 L1546.25,253.14 L1546.50,253.74 L1546.75,254.39 L1547.00,255.10 L1547.25,256.18 L1547.50,256.96 L1547.75,258.19 L1548.00,259.13 L1548.25,260.20 L1548.50,261.48 L1548.75,262.68 L1549.00,264.14 L1549.25,265.34 L1549.50,266.57 L1549.75,268.06 L1550.00,269.35 L1550.25,270.29 L1550.50,271.89 L1550.75,273.33 L1551.00,274.66 L1551.25,275.64 L1551.50,277.39 L1551.75,278.31 L1552.00,279.37 L1552.25,280.65 L1552.50,281.61 L1552.75,282.84 L1553.00,283.71 L1553.25,284.66 L1553.50,285.56 L1553.75,286.39 L1554.00,287.19 L1554.25,287.80 L1554.50,288.65 L1554.75,289.32 L1555.00,289.83 L1555.25,290.27 L1555.50,290.64 L1555.75,290.50 L1556.00,289.54 L1556.25,287.50 L1556.50,284.89 L1556.75,281.85 L1557.00,279.48 L1557.25,280.26 L1557.50,283.31 L1557.75,286.98 L1558.00,289.90 L1558.25,292.41 L1558.50,293.52 L1558.75,294.33 L1559.00,294.63 L1559.25,295.11 L1559.50,295.08 L1559.75,295.53 L1560.00,295.44 L1560.25,295.38 L1560.50,295.50 L1560.75,295.87 L1561.00,295.62 L1561.25,295.70 L1561.50,295.80 L1561.75,295.92 L1562.00,295.89 L1562.25,295.95 L1562.50,295.79 L1562.75,295.86 L1563.00,295.81 L1563.25,295.86 L1563.50,296.11 L1563.75,295.95 L1564.00,295.71 L1564.25,296.10 L1564.50,295.94 L1564.75,296.07 L1565.00,296.08 L1565.25,295.95 L1565.50,295.86 L1565.75,295.88 L1566.00,295.91 L1566.25,295.85 L1566.50,296.15 L1566.75,295.85 L1567.00,295.89 L1567.25,295.96 L1567.50,295.93 L1567.75,296.02 L1568.00,295.77 L1568.25,295.98 L1568.50,296.06 L1568.75,295.86 L1569.00,295.92 L1569.25,295.84 L1569.50,295.63 L1569.75,295.80 L1570.00,295.74 L1570.25,295.46 L1570.50,295.86 L1570.75,295.61 L1571.00,295.47 L1571.25,295.38 L1571.50,295.23 L1571.75,295.51 L1572.00,295.27 L1572.25,295.23 L1572.50,295.10 L1572.75,294.87 L1573.00,294.56 L1573.25,293.71 L1573.50,292.67 L1573.75,291.40 L1574.00,289.03 L1574.25,286.21 L1574.50,282.36 L1574.75,277.73 L1575.00,271.67 L1575.25,265.65 L1575.50,259.75 L1575.75,254.54 L1576.00,251.16 L1576.25,250.06 L1576.50,252.13 L1576.75,256.35 L1577.00,262.03 L1577.25,268.33 L1577.50,274.28 L1577.75,279.35 L1578.00,284.07 L1578.25,287.35 L1578.50,289.90 L1578.75,292.02 L1579.00,293.04 L1579.25,293.94 L1579.50,294.40 L1579.75,294.87 L1580.00,295.00 L1580.25,295.09 L1580.50,295.01 L1580.75,295.21 L1581.00,295.29 L1581.25,295.55 L1581.50,295.39 L1581.75,295.53 L1582.00,295.48 L1582.25,295.45 L1582.50,295.37 L1582.75,295.42 L1583.00,295.47 L1583.25,295.49 L1583.50,295.30 L1583.75,295.56 L1584.00,295.42 L1584.25,295.23 L1584.50,295.39 L1584.75,295.22 L1585.00,295.16 L1585.25,294.96 L1585.50,294.98 L1585.75,295.22 L1586.00,294.88 L1586.25,294.64 L1586.50,294.29 L1586.75,293.90 L1587.00,293.06 L1587.25,292.14 L1587.50,290.93 L1587.75,288.73 L1588.00,285.95 L1588.25,281.59 L1588.50,276.88 L1588.75,270.95 L1589.00,264.37 L1589.25,256.98 L1589.50,249.64 L1589.75,243.25 L1590.00,238.43 L1590.25,236.26 L1590.50,236.91 L1590.75,241.10 L1591.00,247.16 L1591.25,254.08 L1591.50,261.39 L1591.75,268.37 L1592.00,274.69 L1592.25,280.14 L1592.50,284.35 L1592.75,287.60 L1593.00,290.27 L1593.25,291.59 L1593.50,292.81 L1593.75,294.04 L1594.00,294.39 L1594.25,294.57 L1594.50,294.77 L1594.75,294.88 L1595.00,295.45 L1595.25,295.46 L1595.50,295.46 L1595.75,295.40 L1596.00,295.66 L1596.25,295.53 L1596.50,295.57 L1596.75,295.58 L1597.00,295.86 L1597.25,295.71 L1597.50,295.76 L1597.75,295.84 L1598.00,295.66 L1598.25,295.87 L1598.50,295.68 L1598.75,295.95 L1599.00,295.68 L1599.25,295.71 L1599.50,296.02 L1599.75,295.89 L1600.00,295.91 L1600.25,296.08 L1600.50,295.87 L1600.75,295.90 L1601.00,296.09 L1601.25,295.98 L1601.50,295.89 L1601.75,296.03 L1602.00,296.10 L1602.25,295.82 L1602.50,296.15 L1602.75,295.99 L1603.00,295.90 L1603.25,295.95 L1603.50,296.27 L1603.75,296.09 L1604.00,296.07 L1604.25,296.09 L1604.50,295.99 L1604.75,296.00 L1605.00,296.06 L1605.25,296.04 L1605.50,295.95 L1605.75,295.93 L1606.00,296.31 L1606.25,295.82 L1606.50,296.16 L1606.75,296.00 L1607.00,296.29 L1607.25,296.16 L1607.50,296.25 L1607.75,295.97 L1608.00,295.99 L1608.25,296.10 L1608.50,296.13 L1608.75,296.06 L1609.00,296.22 L1609.25,296.19 L1609.50,296.21 L1609.75,296.02 L1610.00,296.11 L1610.25,296.27 L1610.50,296.08 L1610.75,296.06 L1611.00,295.95 L1611.25,296.19 L1611.50,296.08 L1611.75,295.87 L1612.00,296.17 L1612.25,296.17 L1612.50,296.07 L1612.75,296.19 L1613.00,296.13 L1613.25,296.19 L1613.50,296.23 L1613.75,296.03 L1614.00,296.18 L1614.25,296.26 L1614.50,296.17 L1614.75,296.16 L1615.00,296.10 L1615.25,296.03 L1615.50,295.93 L1615.75,296.29 L1616.00,296.17 L1616.25,296.37 L1616.50,296.12 L1616.75,296.08 L1617.00,296.23 L1617.25,296.26 L1617.50,296.27 L1617.75,296.33 L1618.00,296.07 L1618.25,295.92 L1618.50,296.29 L1618.75,295.95 L1619.00,296.17 L1619.25,296.32 L1619.50,296.09 L1619.75,296.06 L1620.00,296.11 L1620.25,296.19 L1620.50,295.95 L1620.75,296.19 L1621.00,296.08 L1621.25,296.08 L1621.50,296.27 L1621.75,296.39 L1622.00,296.37 L1622.25,296.21 L1622.50,296.12 L1622.75,296.38 L1623.00,296.25 L1623.25,295.98 L1623.50,296.38 L1623.75,296.11 L1624.00,296.12 L1624.25,296.07 L1624.50,296.34 L1624.75,296.12 L1625.00,296.33 L1625.25,296.00 L1625.50,296.27 L1625.75,296.12 L1626.00,296.26 L1626.25,296.15 L1626.50,296.35 L1626.75,296.13 L1627.00,296.09 L1627.25,296.17 L1627.50,295.97 L1627.75,296.12 L1628.00,296.07 L1628.25,296.10 L1628.50,295.94 L1628.75,296.25 L1629.00,296.20 L1629.25,296.19 L1629.50,296.09 L1629.75,296.13 L1630.00,296.06 L1630.25,296.13 L1630.50,296.23 L1630.75,296.17 L1631.00,296.11 L1631.25,296.44 L1631.50,295.99 L1631.75,296.23 L1632.00,296.20 L1632.25,296.13 L1632.50,296.19 L1632.75,296.34 L1633.00,296.19 L1633.25,295.99 L1633.50,296.03 L1633.75,296.00 L1634.00,296.22 L1634.25,296.18 L1634.50,296.02 L1634.75,295.97 L1635.00,296.15 L1635.25,296.27 L1635.50,296.38 L1635.75,295.97 L1636.00,296.33 L1636.25,296.09 L1636.50,296.03 L1636.75,295.74 L1637.00,296.12 L1637.25,296.15 L1637.50,296.08 L1637.75,296.07 L1638.00,295.97 L1638.25,296.05 L1638.50,296.22 L1638.75,296.39 L1639.00,296.09 L1639.25,296.21 L1639.50,295.95 L1639.75,296.28 L1640.00,296.09 L1640.25,296.20 L1640.50,296.22 L1640.75,295.90 L1641.00,296.08 L1641.25,296.12 L1641.50,296.00 L1641.75,296.19 L1642.00,296.13 L1642.25,296.16 L1642.50,295.83 L1642.75,296.03 L1643.00,295.99 L1643.25,295.92 L1643.50,296.08 L1643.75,296.06 L1644.00,296.24 L1644.25,295.97 L1644.50,295.99 L1644.75,296.06 L1645.00,295.85 L1645.25,296.20 L1645.50,295.91 L1645.75,296.12 L1646.00,296.07 L1646.25,295.94 L1646.50,295.72 L1646.75,296.01 L1647.00,295.95 L1647.25,295.95 L1647.50,295.50 L1647.75,295.64 L1648.00,295.60 L1648.25,295.33 L1648.50,295.48 L1648.75,295.68 L1649.00,295.36 L1649.25,295.31 L1649.50,294.72 L1649.75,294.92 L1650.00,294.40 L1650.25,294.09 L1650.50,293.49 L1650.75,292.43 L1651.00,290.16 L1651.25,283.54 L1651.50,265.13 L1651.75,225.15 L1652.00,163.47 L1652.25,103.80 L1652.50,96.36 L1652.75,149.94 L1653.00,214.07 L1653.25,258.99 L1653.50,280.78 L1653.75,289.41 L1654.00,292.26 L1654.25,293.15 L1654.50,294.01 L1654.75,294.35 L1655.00,294.57 L1655.25,294.95 L1655.50,295.17 L1655.75,295.16 L1656.00,295.36 L1656.25,295.56 L1656.50,295.73 L1656.75,295.69 L1657.00,295.91 L1657.25,295.86 L1657.50,295.93 L1657.75,295.79 L1658.00,295.76 L1658.25,295.97 L1658.50,295.97 L1658.75,296.07" fill="none" stroke="#2EF51A" stroke-width="2.0" stroke-linejoin="miter" stroke-linecap="round" clip-path="url(#cb)"/>
<line x1="1083.00" y1="284.20" x2="1083.00" y2="9.00" stroke="#2EF51A" stroke-width="2.0" stroke-linecap="butt"/>
<line x1="1532.60" y1="284.20" x2="1532.60" y2="9.00" stroke="#2EF51A" stroke-width="2.0" stroke-linecap="butt"/>
<line x1="1658.40" y1="440.10" x2="1658.40" y2="447.20" stroke="#000" stroke-width="2.8" stroke-linecap="butt"/>
<line x1="1626.78" y1="440.10" x2="1626.78" y2="445.00" stroke="#000" stroke-width="2.8" stroke-linecap="butt"/>
<line x1="1595.15" y1="440.10" x2="1595.15" y2="445.00" stroke="#000" stroke-width="2.8" stroke-linecap="butt"/>
<line x1="1563.53" y1="440.10" x2="1563.53" y2="445.00" stroke="#000" stroke-width="2.8" stroke-linecap="butt"/>
<line x1="1531.90" y1="440.10" x2="1531.90" y2="445.00" stroke="#000" stroke-width="2.8" stroke-linecap="butt"/>
<line x1="1500.28" y1="440.10" x2="1500.28" y2="447.20" stroke="#000" stroke-width="2.8" stroke-linecap="butt"/>
<line x1="1468.66" y1="440.10" x2="1468.66" y2="445.00" stroke="#000" stroke-width="2.8" stroke-linecap="butt"/>
<line x1="1437.03" y1="440.10" x2="1437.03" y2="445.00" stroke="#000" stroke-width="2.8" stroke-linecap="butt"/>
<line x1="1405.41" y1="440.10" x2="1405.41" y2="445.00" stroke="#000" stroke-width="2.8" stroke-linecap="butt"/>
<line x1="1373.78" y1="440.10" x2="1373.78" y2="445.00" stroke="#000" stroke-width="2.8" stroke-linecap="butt"/>
<line x1="1342.16" y1="440.10" x2="1342.16" y2="447.20" stroke="#000" stroke-width="2.8" stroke-linecap="butt"/>
<line x1="1310.54" y1="440.10" x2="1310.54" y2="445.00" stroke="#000" stroke-width="2.8" stroke-linecap="butt"/>
<line x1="1278.91" y1="440.10" x2="1278.91" y2="445.00" stroke="#000" stroke-width="2.8" stroke-linecap="butt"/>
<line x1="1247.29" y1="440.10" x2="1247.29" y2="445.00" stroke="#000" stroke-width="2.8" stroke-linecap="butt"/>
<line x1="1215.66" y1="440.10" x2="1215.66" y2="445.00" stroke="#000" stroke-width="2.8" stroke-linecap="butt"/>
<line x1="1184.04" y1="440.10" x2="1184.04" y2="447.20" stroke="#000" stroke-width="2.8" stroke-linecap="butt"/>
<line x1="1152.42" y1="440.10" x2="1152.42" y2="445.00" stroke="#000" stroke-width="2.8" stroke-linecap="butt"/>
<line x1="1120.79" y1="440.10" x2="1120.79" y2="445.00" stroke="#000" stroke-width="2.8" stroke-linecap="butt"/>
<line x1="1089.17" y1="440.10" x2="1089.17" y2="445.00" stroke="#000" stroke-width="2.8" stroke-linecap="butt"/>
<line x1="1057.54" y1="440.10" x2="1057.54" y2="445.00" stroke="#000" stroke-width="2.8" stroke-linecap="butt"/>
<line x1="1025.92" y1="440.10" x2="1025.92" y2="447.20" stroke="#000" stroke-width="2.8" stroke-linecap="butt"/>
<line x1="994.30" y1="440.10" x2="994.30" y2="445.00" stroke="#000" stroke-width="2.8" stroke-linecap="butt"/>
<line x1="962.67" y1="440.10" x2="962.67" y2="445.00" stroke="#000" stroke-width="2.8" stroke-linecap="butt"/>
<text x="1019.04" y="475.80" font-size="22.97" font-weight="bold" textLength="13.74" lengthAdjust="spacingAndGlyphs">8</text>
<text x="1177.02" y="475.80" font-size="22.97" font-weight="bold" textLength="14.04" lengthAdjust="spacingAndGlyphs">6</text>
<text x="1335.72" y="475.80" font-size="22.97" font-weight="bold" textLength="12.67" lengthAdjust="spacingAndGlyphs">4</text>
<text x="1493.30" y="475.80" font-size="22.97" font-weight="bold" textLength="14.09" lengthAdjust="spacingAndGlyphs">2</text>
<text x="1651.29" y="475.80" font-size="22.97" font-weight="bold" textLength="14.27" lengthAdjust="spacingAndGlyphs">0</text>
<text x="1184.83" y="509.00" font-size="22.97" font-weight="bold" textLength="235.84" lengthAdjust="spacingAndGlyphs">Chemical Shift (ppm)</text>
<text x="892.98" y="57.60" font-size="47.00" font-weight="normal" textLength="33.39" lengthAdjust="spacingAndGlyphs" fill="#C80014" stroke="#C80014" stroke-width="1.3">b</text>
<text x="926.43" y="57.60" font-size="47.00" font-weight="normal" textLength="12.69" lengthAdjust="spacingAndGlyphs" fill="#C80014" stroke="#C80014" stroke-width="1.3">)</text>
<text x="1591.70" y="119.80" font-size="20.64" font-weight="bold" textLength="56.06" lengthAdjust="spacingAndGlyphs">PDMS</text>
<text x="1025.16" y="164.20" font-size="21.08" font-weight="bold" textLength="50.30" lengthAdjust="spacingAndGlyphs">CDCl</text>
<text x="1075.22" y="169.50" font-size="14.53" font-weight="bold" textLength="6.83" lengthAdjust="spacingAndGlyphs">3</text>
<text x="951.15" y="216.50" font-size="19.77" font-weight="normal" fill="#2EF51A" stroke="#2EF51A" stroke-width="0.45" textLength="66.87" lengthAdjust="spacingAndGlyphs">PMMA-</text>
<text x="1018.03" y="216.50" font-size="19.77" font-weight="normal" font-style="italic" fill="#2EF51A" stroke="#2EF51A" stroke-width="0.45" textLength="11.16" lengthAdjust="spacingAndGlyphs">b</text>
<text x="1029.19" y="216.50" font-size="19.77" font-weight="normal" fill="#2EF51A" stroke="#2EF51A" stroke-width="0.45" textLength="40.13" lengthAdjust="spacingAndGlyphs">-PS-</text>
<text x="1069.31" y="216.50" font-size="19.77" font-weight="normal" font-style="italic" fill="#2EF51A" stroke="#2EF51A" stroke-width="0.45" textLength="11.16" lengthAdjust="spacingAndGlyphs">b</text>
<text x="1080.47" y="216.50" font-size="19.77" font-weight="normal" fill="#2EF51A" stroke="#2EF51A" stroke-width="0.45" textLength="57.99" lengthAdjust="spacingAndGlyphs">-P4VP</text>
<text x="951.21" y="348.70" font-size="19.77" font-weight="normal" fill="#2176F2" stroke="#2176F2" stroke-width="0.45" textLength="64.59" lengthAdjust="spacingAndGlyphs">PMMA-</text>
<text x="1015.80" y="348.70" font-size="19.77" font-weight="normal" font-style="italic" fill="#2176F2" stroke="#2176F2" stroke-width="0.45" textLength="10.78" lengthAdjust="spacingAndGlyphs">b</text>
<text x="1026.58" y="348.70" font-size="19.77" font-weight="normal" fill="#2176F2" stroke="#2176F2" stroke-width="0.45" textLength="32.31" lengthAdjust="spacingAndGlyphs">-PS</text>
<text x="951.04" y="418.40" font-size="19.77" font-weight="normal" fill="#C80014" stroke="#C80014" stroke-width="0.45" textLength="57.00" lengthAdjust="spacingAndGlyphs">PMMA</text>
<text x="997.41" y="267.80" font-size="18.00" font-weight="bold">c</text>
<text x="1092.14" y="235.30" font-size="20.00" font-weight="bold">b</text>
<text x="1138.14" y="255.20" font-size="20.00" font-weight="bold">b</text>
<text x="1356.27" y="255.30" font-size="18.00" font-weight="bold">a</text>
<text x="1068.90" y="345.70" font-size="22.00" font-weight="bold">*</text>
<text x="1197.20" y="345.70" font-size="22.00" font-weight="bold">*</text>
<text x="1236.90" y="345.70" font-size="22.00" font-weight="bold">*</text>
<text x="1354.10" y="390.70" font-size="22.00" font-weight="bold">*</text>
<polyline points="1090.7,45.5 1119.7,28.6 1147.7,44.7 1199.8,27 1227.9,43.8 1275,27 1303.9,43.8 1332.8,27" stroke="#000" stroke-width="2.8" fill="none" stroke-linecap="round" stroke-linejoin="round"/>
<polyline points="1147.7,11 1147.7,77.7" stroke="#000" stroke-width="2.8" fill="none" stroke-linecap="round" stroke-linejoin="round"/>
<polyline points="1147.7,77.7 1128.5,89" stroke="#000" stroke-width="2.8" fill="none" stroke-linecap="round" stroke-linejoin="round"/>
<polyline points="1147.7,77.7 1167,89" stroke="#000" stroke-width="2.8" fill="none" stroke-linecap="round" stroke-linejoin="round"/>
<polyline points="1145.5,82.3 1165,93.5" stroke="#000" stroke-width="2.8" fill="none" stroke-linecap="round" stroke-linejoin="round"/>
<polyline points="1119.7,107 1119.7,128.9" stroke="#000" stroke-width="2.8" fill="none" stroke-linecap="round" stroke-linejoin="round"/>
<polyline points="1227.9,43.8 1227.9,76.9" stroke="#000" stroke-width="2.8" fill="none" stroke-linecap="round" stroke-linejoin="round"/>
<polygon points="1227.9,76.9 1256.8,93.4 1256.8,127.3 1227.9,143.8 1199,127.3 1199,93.4" stroke="#000" stroke-width="2.8" fill="none" stroke-linecap="round" stroke-linejoin="round"/>
<polyline points="1205.5,98 1226,86.5" stroke="#000" stroke-width="2.8" fill="none" stroke-linecap="round" stroke-linejoin="round"/><polyline points="1250.5,98 1250.5,122.5" stroke="#000" stroke-width="2.8" fill="none" stroke-linecap="round" stroke-linejoin="round"/><polyline points="1206,122.5 1226.5,134" stroke="#000" stroke-width="2.8" fill="none" stroke-linecap="round" stroke-linejoin="round"/>
<polyline points="1303.9,43.8 1303.9,77.7" stroke="#000" stroke-width="2.8" fill="none" stroke-linecap="round" stroke-linejoin="round"/>
<polyline points="1296,138.5 1275,127.3 1275,94.2 1303.9,77.7 1332.8,94.2 1332.8,127.3 1312,138.5" stroke="#000" stroke-width="2.8" fill="none" stroke-linecap="round" stroke-linejoin="round"/>
<polyline points="1281,98.5 1301.5,87" stroke="#000" stroke-width="2.8" fill="none" stroke-linecap="round" stroke-linejoin="round"/><polyline points="1326.5,98.5 1326.5,122.5" stroke="#000" stroke-width="2.8" fill="none" stroke-linecap="round" stroke-linejoin="round"/><polyline points="1281.5,122.5 1296,130.5" stroke="#000" stroke-width="2.8" fill="none" stroke-linecap="round" stroke-linejoin="round"/>
<path d="M1107.5,19.6 Q1105.9,20.2 1105.9,23.5 L1105.9,51 Q1105.9,54.3 1107.5,54.9" stroke="#000" stroke-width="2.8" fill="none" stroke-linecap="round" stroke-linejoin="round"/>
<path d="M1161.2,19.6 Q1162.8,20.2 1162.8,23.5 L1162.8,51 Q1162.8,54.3 1161.2,54.9" stroke="#000" stroke-width="2.8" fill="none" stroke-linecap="round" stroke-linejoin="round"/>
<path d="M1187.4,19.6 Q1185.8,20.2 1185.8,23.5 L1185.8,51 Q1185.8,54.3 1187.4,54.9" stroke="#000" stroke-width="2.8" fill="none" stroke-linecap="round" stroke-linejoin="round"/>
<path d="M1240.3,19.6 Q1241.9,20.2 1241.9,23.5 L1241.9,51 Q1241.9,54.3 1240.3,54.9" stroke="#000" stroke-width="2.8" fill="none" stroke-linecap="round" stroke-linejoin="round"/>
<path d="M1262.5,19.6 Q1260.9,20.2 1260.9,23.5 L1260.9,51 Q1260.9,54.3 1262.5,54.9" stroke="#000" stroke-width="2.8" fill="none" stroke-linecap="round" stroke-linejoin="round"/>
<path d="M1316.5,19.6 Q1318.1,20.2 1318.1,23.5 L1318.1,51 Q1318.1,54.3 1316.5,54.9" stroke="#000" stroke-width="2.8" fill="none" stroke-linecap="round" stroke-linejoin="round"/>
<text x="1111.46" y="101.60" font-size="18.90" font-weight="bold">O</text>
<text x="1168.46" y="101.60" font-size="18.90" font-weight="bold">O</text>
<text x="1296.68" y="150.30" font-size="18.90" font-weight="bold">N</text>
<text x="1112.66" y="152.00" font-size="20.50" font-weight="normal" fill="#C80014" stroke="#C80014" stroke-width="0.4">a</text>
<text x="1189.77" y="152.00" font-size="20.50" font-weight="normal" fill="#C80014" stroke="#C80014" stroke-width="0.4">b</text>
<text x="1221.07" y="167.80" font-size="20.50" font-weight="normal" fill="#C80014" stroke="#C80014" stroke-width="0.4">b</text>
<text x="1255.57" y="152.00" font-size="20.50" font-weight="normal" fill="#C80014" stroke="#C80014" stroke-width="0.4">b</text>
<text x="1270.21" y="152.00" font-size="20.50" font-weight="normal" fill="#C80014" stroke="#C80014" stroke-width="0.4">c</text>
<text x="1328.31" y="152.00" font-size="20.50" font-weight="normal" fill="#C80014" stroke="#C80014" stroke-width="0.4">c</text>
<rect x="137" y="544.4" width="622.6" height="428.80000000000007" fill="none" stroke="#000" stroke-width="3.6" stroke-linejoin="round"/>
<line x1="129.60" y1="544.30" x2="137.00" y2="544.30" stroke="#000" stroke-width="2.4" stroke-linecap="butt"/>
<text x="74.46" y="551.80" font-size="21.08" font-weight="bold" textLength="41.62" lengthAdjust="spacingAndGlyphs">-3.5</text>
<line x1="129.60" y1="630.00" x2="137.00" y2="630.00" stroke="#000" stroke-width="2.4" stroke-linecap="butt"/>
<text x="95.94" y="637.50" font-size="21.08" font-weight="bold" textLength="19.58" lengthAdjust="spacingAndGlyphs">-4</text>
<line x1="129.60" y1="715.70" x2="137.00" y2="715.70" stroke="#000" stroke-width="2.4" stroke-linecap="butt"/>
<text x="74.46" y="723.20" font-size="21.08" font-weight="bold" textLength="41.62" lengthAdjust="spacingAndGlyphs">-4.5</text>
<line x1="129.60" y1="801.40" x2="137.00" y2="801.40" stroke="#000" stroke-width="2.4" stroke-linecap="butt"/>
<text x="95.92" y="808.90" font-size="21.08" font-weight="bold" textLength="20.11" lengthAdjust="spacingAndGlyphs">-5</text>
<line x1="129.60" y1="887.10" x2="137.00" y2="887.10" stroke="#000" stroke-width="2.4" stroke-linecap="butt"/>
<text x="74.46" y="894.60" font-size="21.08" font-weight="bold" textLength="41.62" lengthAdjust="spacingAndGlyphs">-5.5</text>
<line x1="129.60" y1="972.80" x2="137.00" y2="972.80" stroke="#000" stroke-width="2.4" stroke-linecap="butt"/>
<text x="95.91" y="980.30" font-size="21.08" font-weight="bold" textLength="20.32" lengthAdjust="spacingAndGlyphs">-6</text>
<line x1="136.50" y1="973.20" x2="136.50" y2="981.60" stroke="#000" stroke-width="2.4" stroke-linecap="butt"/>
<text x="122.10" y="1010.60" font-size="22.97" font-weight="bold" textLength="28.92" lengthAdjust="spacingAndGlyphs">60</text>
<line x1="225.40" y1="973.20" x2="225.40" y2="981.60" stroke="#000" stroke-width="2.4" stroke-linecap="butt"/>
<text x="211.13" y="1010.60" font-size="22.97" font-weight="bold" textLength="28.78" lengthAdjust="spacingAndGlyphs">80</text>
<line x1="314.30" y1="973.20" x2="314.30" y2="981.60" stroke="#000" stroke-width="2.4" stroke-linecap="butt"/>
<text x="293.61" y="1010.60" font-size="22.97" font-weight="bold" textLength="40.85" lengthAdjust="spacingAndGlyphs">100</text>
<line x1="403.20" y1="973.20" x2="403.20" y2="981.60" stroke="#000" stroke-width="2.4" stroke-linecap="butt"/>
<text x="382.51" y="1010.60" font-size="22.97" font-weight="bold" textLength="40.85" lengthAdjust="spacingAndGlyphs">120</text>
<line x1="492.10" y1="973.20" x2="492.10" y2="981.60" stroke="#000" stroke-width="2.4" stroke-linecap="butt"/>
<text x="471.41" y="1010.60" font-size="22.97" font-weight="bold" textLength="40.85" lengthAdjust="spacingAndGlyphs">140</text>
<line x1="581.00" y1="973.20" x2="581.00" y2="981.60" stroke="#000" stroke-width="2.4" stroke-linecap="butt"/>
<text x="560.31" y="1010.60" font-size="22.97" font-weight="bold" textLength="40.85" lengthAdjust="spacingAndGlyphs">160</text>
<line x1="669.90" y1="973.20" x2="669.90" y2="981.60" stroke="#000" stroke-width="2.4" stroke-linecap="butt"/>
<text x="649.21" y="1010.60" font-size="22.97" font-weight="bold" textLength="40.85" lengthAdjust="spacingAndGlyphs">180</text>
<line x1="758.80" y1="973.20" x2="758.80" y2="981.60" stroke="#000" stroke-width="2.4" stroke-linecap="butt"/>
<text x="738.82" y="1010.60" font-size="22.97" font-weight="bold" textLength="40.12" lengthAdjust="spacingAndGlyphs">200</text>
<text x="349.73" y="1045.50" font-size="23.26" font-weight="bold" textLength="197.48" lengthAdjust="spacingAndGlyphs">Temperature (°C)</text>
<g transform="translate(65.7,846.2) rotate(-90)">
<text x="-1.62" y="0.00" font-size="25.87" font-weight="bold" textLength="181.32" lengthAdjust="spacingAndGlyphs">Heat Flow (W/g)</text>
</g>
<line x1="467.50" y1="582.10" x2="507.80" y2="582.10" stroke="#2176F2" stroke-width="3.6" stroke-linecap="butt"/>
<line x1="467.50" y1="609.00" x2="507.80" y2="609.00" stroke="#2EF51A" stroke-width="3.6" stroke-linecap="butt"/>
<text x="509.49" y="589.30" font-size="23.84" font-weight="bold" textLength="155.68" lengthAdjust="spacingAndGlyphs">PMMA-b-P4VP</text>
<text x="509.50" y="616.50" font-size="23.84" font-weight="bold" textLength="212.46" lengthAdjust="spacingAndGlyphs">PMMA-b-PS-b-P4VP</text>
<text x="254.25" y="710.40" font-size="20.78" font-weight="bold">PS</text>
<text x="226.88" y="739.50" font-size="20.78" font-weight="bold" textLength="83.63" lengthAdjust="spacingAndGlyphs">(106 °C)</text>
<text x="509.23" y="676.00" font-size="20.78" font-weight="bold">PMMA</text>
<text x="499.38" y="705.00" font-size="20.78" font-weight="bold" textLength="84.14" lengthAdjust="spacingAndGlyphs">(124 °C)</text>
<text x="644.01" y="764.80" font-size="20.78" font-weight="bold" textLength="52.99" lengthAdjust="spacingAndGlyphs">P4VP</text>
<text x="629.29" y="793.90" font-size="20.78" font-weight="bold" textLength="83.22" lengthAdjust="spacingAndGlyphs">(149 °C)</text>
<path d="M172.31,545.29 L173.35,545.76 L174.38,546.22 L175.41,546.69 L176.45,547.16 L177.48,547.63 L178.51,548.11 L179.54,548.58 L180.58,549.06 L181.61,549.53 L182.64,550.01 L183.67,550.49 L184.70,550.97 L185.73,551.45 L186.76,551.93 L187.78,552.41 L188.81,552.90 L189.84,553.38 L190.87,553.87 L191.90,554.36 L192.92,554.84 L193.95,555.33 L194.98,555.82 L196.00,556.31 L197.03,556.80 L198.05,557.29 L199.08,557.79 L200.10,558.28 L201.13,558.77 L202.15,559.27 L203.18,559.76 L204.20,560.26 L205.22,560.76 L206.25,561.25 L207.27,561.75 L208.29,562.25 L209.32,562.75 L210.34,563.25 L211.36,563.75 L212.38,564.25 L213.41,564.75 L214.43,565.25 L215.45,565.75 L216.47,566.26 L217.49,566.76 L218.51,567.26 L219.54,567.76 L220.56,568.27 L221.58,568.77 L222.60,569.27 L223.62,569.78 L224.64,570.28 L225.66,570.79 L226.68,571.29 L227.70,571.80 L228.73,572.30 L229.75,572.80 L230.77,573.31 L231.79,573.81 L232.81,574.32 L233.83,574.82 L234.85,575.33 L235.87,575.83 L236.89,576.34 L237.91,576.84 L238.93,577.35 L239.95,577.85 L240.98,578.36 L242.00,578.86 L243.02,579.36 L244.04,579.87 L245.06,580.37 L246.08,580.87 L247.10,581.37 L248.13,581.88 L249.15,582.38 L250.17,582.88 L251.19,583.38 L252.21,583.88 L253.24,584.38 L254.26,584.88 L255.28,585.38 L256.31,585.88 L257.33,586.38 L258.35,586.87 L259.38,587.37 L260.40,587.87 L261.42,588.36 L262.45,588.86 L263.47,589.35 L264.50,589.84 L265.52,590.34 L266.55,590.83 L267.57,591.32 L268.60,591.81 L269.63,592.30 L270.65,592.79 L271.68,593.28 L272.71,593.76 L273.74,594.25 L274.76,594.73 L275.79,595.22 L276.82,595.70 L277.85,596.18 L278.88,596.66 L279.91,597.14 L280.94,597.62 L281.97,598.10 L283.00,598.58 L284.03,599.05 L285.07,599.53 L286.10,600.00 L287.13,600.47 L288.16,600.94 L289.20,601.41 L290.23,601.88 L291.27,602.35 L292.30,602.81 L293.34,603.28 L294.37,603.74 L295.41,604.20 L296.45,604.66 L297.48,605.12 L298.52,605.58 L299.56,606.04 L300.60,606.50 L301.64,606.96 L302.68,607.41 L303.71,607.87 L304.75,608.32 L305.79,608.77 L306.83,609.23 L307.88,609.68 L308.92,610.13 L309.96,610.59 L311.00,611.04 L312.04,611.49 L313.08,611.94 L314.12,612.39 L315.16,612.84 L316.21,613.29 L317.25,613.74 L318.29,614.19 L319.33,614.65 L320.37,615.10 L321.42,615.55 L322.46,616.00 L323.50,616.45 L324.54,616.90 L325.59,617.36 L326.63,617.81 L327.67,618.26 L328.71,618.72 L329.76,619.17 L330.80,619.63 L331.84,620.08 L332.88,620.54 L333.93,621.00 L334.97,621.45 L336.01,621.91 L337.05,622.37 L338.09,622.83 L339.13,623.30 L340.18,623.76 L341.22,624.22 L342.26,624.69 L343.30,625.16 L344.34,625.63 L345.38,626.09 L346.42,626.57 L347.46,627.04 L348.50,627.51 L349.54,627.99 L350.57,628.46 L351.61,628.94 L352.65,629.42 L353.69,629.91 L354.72,630.39 L355.76,630.88 L356.80,631.36 L357.83,631.85 L358.87,632.35 L359.90,632.84 L360.93,633.34 L361.96,633.84 L362.99,634.35 L364.02,634.85 L365.04,635.37 L366.06,635.88 L367.08,636.40 L368.10,636.92 L369.12,637.45 L370.13,637.98 L371.14,638.51 L372.15,639.06 L373.15,639.60 L374.15,640.15 L375.15,640.71 L376.14,641.27 L377.13,641.83 L378.11,642.41 L379.09,642.98 L380.06,643.57 L381.04,644.16 L382.00,644.75 L382.96,645.36 L383.92,645.97 L384.87,646.58 L385.81,647.21 L386.75,647.84 L387.69,648.48 L388.62,649.12 L389.54,649.78 L390.45,650.44 L391.36,651.11 L392.26,651.79 L393.16,652.48 L394.05,653.17 L394.93,653.88 L395.80,654.59 L396.67,655.31 L397.53,656.04 L398.38,656.79 L399.23,657.54 L400.06,658.30 L400.89,659.07 L401.71,659.85 L402.52,660.64 L403.32,661.44 L404.11,662.26 L404.89,663.08 L405.67,663.91 L406.43,664.76 L407.19,665.62 L407.93,666.49 L408.67,667.36 L409.39,668.25 L410.11,669.15 L410.81,670.06 L411.50,670.98 L412.18,671.90 L412.85,672.84 L413.51,673.78 L414.15,674.74 L414.78,675.70 L415.40,676.66 L416.00,677.64 L416.59,678.62 L417.17,679.61 L417.73,680.60 L418.28,681.60 L418.82,682.61 L419.34,683.62 L419.85,684.64 L420.35,685.66 L420.84,686.69 L421.31,687.72 L421.78,688.76 L422.23,689.80 L422.68,690.85 L423.11,691.90 L423.54,692.95 L423.96,694.01 L424.37,695.07 L424.78,696.13 L425.18,697.20 L425.57,698.27 L425.96,699.34 L426.34,700.41 L426.72,701.49 L427.09,702.57 L427.46,703.65 L427.83,704.73 L428.19,705.81 L428.55,706.89 L428.92,707.97 L429.27,709.06 L429.63,710.14 L429.99,711.23 L430.35,712.31 L430.71,713.40 L431.08,714.48 L431.44,715.57 L431.81,716.65 L432.18,717.73 L432.55,718.81 L432.93,719.89 L433.31,720.97 L433.69,722.04 L434.09,723.11 L434.48,724.18 L434.89,725.25 L435.30,726.32 L435.72,727.38 L436.14,728.44 L436.58,729.49 L437.02,730.54 L437.48,731.59 L437.94,732.64 L438.41,733.68 L438.90,734.71 L439.39,735.74 L439.90,736.77 L440.42,737.79 L440.96,738.80 L441.50,739.81 L442.07,740.80 L442.65,741.78 L443.25,742.75 L443.87,743.70 L444.51,744.63 L445.17,745.55 L445.86,746.44 L446.57,747.30 L447.30,748.14 L448.06,748.95 L448.85,749.73 L449.67,750.48 L450.52,751.19 L451.39,751.88 L452.29,752.53 L453.22,753.16 L454.17,753.76 L455.14,754.34 L456.12,754.89 L457.13,755.43 L458.15,755.94 L459.18,756.44 L460.23,756.92 L461.28,757.39 L462.35,757.84 L463.42,758.28 L464.50,758.72 L465.58,759.15 L466.66,759.57 L467.74,759.99 L468.82,760.41 L469.90,760.82 L470.97,761.23 L472.05,761.65 L473.13,762.05 L474.20,762.46 L475.28,762.87 L476.35,763.27 L477.42,763.68 L478.49,764.08 L479.56,764.48 L480.63,764.88 L481.69,765.29 L482.76,765.69 L483.82,766.09 L484.89,766.50 L485.95,766.91 L487.01,767.31 L488.07,767.72 L489.13,768.13 L490.18,768.55 L491.24,768.96 L492.29,769.38 L493.34,769.80 L494.39,770.22 L495.44,770.65 L496.49,771.08 L497.54,771.51 L498.58,771.95 L499.63,772.39 L500.67,772.83 L501.71,773.28 L502.75,773.74 L503.79,774.20 L504.82,774.66 L505.85,775.13 L506.89,775.61 L507.92,776.09 L508.94,776.57 L509.97,777.07 L510.99,777.56 L512.01,778.07 L513.03,778.57 L514.04,779.09 L515.05,779.61 L516.06,780.14 L517.06,780.67 L518.06,781.21 L519.06,781.76 L520.05,782.31 L521.04,782.87 L522.03,783.43 L523.01,784.01 L523.99,784.59 L524.96,785.17 L525.93,785.77 L526.90,786.37 L527.86,786.97 L528.82,787.59 L529.78,788.20 L530.73,788.82 L531.68,789.45 L532.63,790.08 L533.58,790.71 L534.52,791.35 L535.46,791.99 L536.41,792.63 L537.35,793.28 L538.28,793.92 L539.22,794.57 L540.16,795.21 L541.10,795.86 L542.04,796.51 L542.97,797.16 L543.91,797.80 L544.85,798.45 L545.79,799.09 L546.73,799.74 L547.67,800.37 L548.61,801.01 L549.56,801.64 L550.51,802.27 L551.46,802.90 L552.41,803.52 L553.36,804.14 L554.32,804.75 L555.28,805.36 L556.24,805.96 L557.21,806.55 L558.18,807.14 L559.16,807.72 L560.14,808.29 L561.12,808.86 L562.11,809.42 L563.10,809.97 L564.09,810.52 L565.09,811.06 L566.09,811.59 L567.09,812.12 L568.10,812.64 L569.11,813.16 L570.13,813.67 L571.14,814.18 L572.16,814.67 L573.19,815.17 L574.21,815.66 L575.24,816.14 L576.28,816.62 L577.31,817.09 L578.35,817.56 L579.39,818.02 L580.43,818.48 L581.47,818.93 L582.52,819.38 L583.57,819.82 L584.62,820.26 L585.67,820.70 L586.73,821.13 L587.78,821.56 L588.84,821.98 L589.90,822.40 L590.97,822.82 L592.03,823.23 L593.10,823.64 L594.16,824.05 L595.23,824.45 L596.30,824.85 L597.37,825.24 L598.44,825.64 L599.52,826.03 L600.59,826.42 L601.67,826.80 L602.74,827.18 L603.82,827.56 L604.90,827.94 L605.98,828.32 L607.06,828.69 L608.14,829.06 L609.22,829.43 L610.30,829.80 L611.38,830.17 L612.46,830.53 L613.54,830.90 L614.62,831.26 L615.70,831.62 L616.78,831.98 L617.86,832.34 L618.95,832.70 L620.03,833.05 L621.11,833.41 L622.19,833.77 L623.27,834.12 L624.35,834.48 L625.42,834.83 L626.50,835.18 L627.58,835.53 L628.66,835.89 L629.74,836.24 L630.82,836.59 L631.90,836.94 L632.98,837.29 L634.05,837.63 L635.13,837.98 L636.21,838.33 L637.29,838.68 L638.37,839.02 L639.45,839.37 L640.53,839.71 L641.61,840.06 L642.69,840.40 L643.77,840.74 L644.85,841.08 L645.93,841.43 L647.01,841.77 L648.10,842.11 L649.18,842.45 L650.26,842.79 L651.35,843.13 L652.43,843.46 L653.51,843.80 L654.60,844.14 L655.68,844.48 L656.77,844.81 L657.85,845.15 L658.94,845.49 L660.02,845.82 L661.11,846.16 L662.20,846.50 L663.28,846.83 L664.37,847.17 L665.46,847.51 L666.54,847.84 L667.63,848.18 L668.72,848.52 L669.80,848.85 L670.89,849.19 L671.98,849.53 L673.06,849.86 L674.15,850.20 L675.24,850.54 L676.32,850.88 L677.41,851.22 L678.50,851.56 L679.59,851.90 L680.67,852.24 L681.76,852.58 L682.85,852.92 L683.93,853.26 L685.02,853.60 L686.10,853.95 L687.19,854.29 L688.27,854.64 L689.36,854.98 L690.44,855.33 L691.53,855.68 L692.61,856.02 L693.70,856.37 L694.78,856.72 L695.87,857.07 L696.95,857.43 L698.03,857.78 L699.11,858.13 L700.20,858.49 L701.28,858.85 L702.36,859.21 L703.44,859.56 L704.52,859.92 L705.60,860.29 L706.68,860.65 L707.76,861.01 L708.84,861.38 L709.91,861.75 L710.99,862.12 L712.07,862.49 L713.14,862.86 L714.22,863.23 L715.29,863.61 L716.37,863.99 L717.44,864.37 L718.51,864.75 L719.58,865.13 L720.65,865.51 L721.72,865.90 L722.79,866.29 L723.86,866.68 L724.93,867.07 L726.00,867.46 L727.06,867.86 L728.13,868.26 L729.19,868.66 L730.26,869.06 L731.32,869.46 L732.38,869.87 L733.44,870.28 L734.50,870.69 L735.56,871.10 L736.62,871.52 L737.68,871.94 L738.73,872.36 L739.79,872.78 L740.84,873.21 L741.90,873.64 L742.95,874.07 L744.00,874.50" fill="none" stroke="#2176F2" stroke-width="4.0" stroke-linejoin="round" stroke-linecap="round"/>
<path d="M137.25,559.77 L138.36,560.23 L139.46,560.69 L140.57,561.15 L141.68,561.61 L142.79,562.07 L143.89,562.53 L145.00,562.99 L146.10,563.45 L147.21,563.91 L148.32,564.36 L149.42,564.82 L150.53,565.28 L151.63,565.73 L152.73,566.19 L153.84,566.64 L154.94,567.10 L156.05,567.55 L157.15,568.01 L158.25,568.46 L159.36,568.92 L160.46,569.37 L161.56,569.82 L162.66,570.28 L163.76,570.73 L164.87,571.19 L165.97,571.64 L167.07,572.09 L168.17,572.54 L169.27,573.00 L170.37,573.45 L171.47,573.90 L172.57,574.36 L173.67,574.81 L174.77,575.26 L175.87,575.72 L176.97,576.17 L178.07,576.62 L179.16,577.07 L180.26,577.53 L181.36,577.98 L182.46,578.43 L183.55,578.89 L184.65,579.34 L185.75,579.80 L186.84,580.25 L187.94,580.70 L189.03,581.16 L190.13,581.61 L191.23,582.07 L192.32,582.53 L193.41,582.98 L194.51,583.44 L195.60,583.89 L196.70,584.35 L197.79,584.81 L198.88,585.26 L199.98,585.72 L201.07,586.18 L202.16,586.64 L203.25,587.10 L204.35,587.56 L205.44,588.02 L206.53,588.48 L207.62,588.94 L208.71,589.40 L209.80,589.86 L210.89,590.33 L211.98,590.79 L213.07,591.26 L214.16,591.72 L215.25,592.19 L216.34,592.65 L217.43,593.12 L218.51,593.58 L219.60,594.05 L220.69,594.52 L221.78,594.99 L222.86,595.46 L223.95,595.93 L225.04,596.40 L226.12,596.88 L227.21,597.35 L228.29,597.82 L229.38,598.30 L230.46,598.77 L231.55,599.25 L232.63,599.73 L233.72,600.21 L234.80,600.69 L235.88,601.17 L236.97,601.65 L238.05,602.13 L239.13,602.61 L240.21,603.10 L241.30,603.58 L242.38,604.07 L243.46,604.56 L244.54,605.05 L245.62,605.54 L246.70,606.03 L247.78,606.52 L248.86,607.01 L249.94,607.51 L251.02,608.00 L252.10,608.50 L253.18,609.00 L254.25,609.50 L255.33,610.00 L256.41,610.50 L257.49,611.00 L258.56,611.51 L259.64,612.01 L260.72,612.52 L261.79,613.03 L262.87,613.54 L263.94,614.05 L265.02,614.56 L266.09,615.07 L267.17,615.59 L268.24,616.11 L269.32,616.62 L270.39,617.14 L271.46,617.66 L272.53,618.19 L273.61,618.71 L274.68,619.24 L275.75,619.76 L276.82,620.29 L277.89,620.82 L278.96,621.36 L280.04,621.89 L281.11,622.42 L282.18,622.96 L283.24,623.50 L284.31,624.04 L285.38,624.58 L286.45,625.13 L287.52,625.67 L288.59,626.22 L289.66,626.77 L290.72,627.32 L291.79,627.87 L292.86,628.43 L293.92,628.98 L294.99,629.54 L296.05,630.10 L297.12,630.66 L298.18,631.23 L299.25,631.79 L300.31,632.36 L301.38,632.93 L302.44,633.50 L303.50,634.08 L304.57,634.65 L305.62,635.23 L306.68,635.82 L307.74,636.41 L308.79,637.00 L309.83,637.60 L310.87,638.20 L311.91,638.81 L312.94,639.43 L313.96,640.05 L314.98,640.68 L315.98,641.32 L316.98,641.97 L317.97,642.63 L318.95,643.30 L319.92,643.98 L320.87,644.67 L321.82,645.37 L322.75,646.08 L323.67,646.81 L324.58,647.54 L325.47,648.30 L326.34,649.06 L327.20,649.84 L328.05,650.64 L328.87,651.45 L329.68,652.27 L330.47,653.12 L331.24,653.98 L332.00,654.86 L332.73,655.75 L333.44,656.67 L334.13,657.60 L334.80,658.55 L335.44,659.52 L336.07,660.52 L336.67,661.53 L337.25,662.56 L337.81,663.61 L338.35,664.67 L338.88,665.75 L339.40,666.84 L339.90,667.94 L340.40,669.05 L340.88,670.17 L341.36,671.29 L341.84,672.42 L342.31,673.55 L342.77,674.69 L343.24,675.82 L343.72,676.96 L344.19,678.09 L344.67,679.22 L345.16,680.34 L345.65,681.46 L346.16,682.56 L346.67,683.66 L347.21,684.75 L347.75,685.83 L348.32,686.89 L348.90,687.94 L349.49,688.97 L350.11,689.99 L350.74,690.99 L351.39,691.98 L352.06,692.95 L352.75,693.90 L353.46,694.83 L354.19,695.74 L354.94,696.63 L355.72,697.49 L356.51,698.34 L357.33,699.16 L358.17,699.96 L359.03,700.74 L359.92,701.49 L360.83,702.22 L361.76,702.92 L362.70,703.61 L363.67,704.28 L364.65,704.94 L365.64,705.58 L366.65,706.21 L367.66,706.83 L368.69,707.44 L369.73,708.04 L370.77,708.63 L371.81,709.22 L372.87,709.81 L373.92,710.40 L374.97,710.98 L376.03,711.57 L377.08,712.16 L378.12,712.76 L379.17,713.37 L380.20,713.98 L381.23,714.60 L382.25,715.24 L383.26,715.88 L384.26,716.54 L385.25,717.20 L386.23,717.88 L387.21,718.57 L388.18,719.26 L389.14,719.97 L390.09,720.68 L391.04,721.40 L391.98,722.13 L392.91,722.87 L393.84,723.62 L394.76,724.37 L395.68,725.13 L396.59,725.89 L397.49,726.67 L398.39,727.45 L399.29,728.23 L400.18,729.02 L401.06,729.82 L401.95,730.61 L402.83,731.42 L403.70,732.23 L404.58,733.04 L405.45,733.86 L406.31,734.67 L407.18,735.50 L408.04,736.32 L408.90,737.15 L409.76,737.97 L410.62,738.81 L411.47,739.64 L412.33,740.47 L413.19,741.30 L414.04,742.14 L414.89,742.97 L415.75,743.80 L416.60,744.64 L417.46,745.47 L418.32,746.30 L419.17,747.13 L420.03,747.96 L420.89,748.78 L421.76,749.60 L422.62,750.42 L423.49,751.24 L424.36,752.06 L425.23,752.87 L426.11,753.67 L426.99,754.47 L427.87,755.27 L428.76,756.06 L429.65,756.85 L430.54,757.63 L431.44,758.41 L432.35,759.18 L433.26,759.94 L434.17,760.70 L435.09,761.45 L436.02,762.19 L436.95,762.92 L437.89,763.65 L438.84,764.37 L439.79,765.08 L440.75,765.78 L441.72,766.47 L442.69,767.15 L443.68,767.82 L444.66,768.49 L445.66,769.14 L446.66,769.79 L447.67,770.43 L448.68,771.06 L449.70,771.68 L450.72,772.29 L451.75,772.90 L452.79,773.49 L453.83,774.08 L454.87,774.66 L455.92,775.23 L456.98,775.79 L458.04,776.34 L459.10,776.89 L460.17,777.43 L461.24,777.96 L462.32,778.48 L463.40,778.99 L464.48,779.50 L465.57,780.00 L466.66,780.49 L467.75,780.97 L468.85,781.44 L469.95,781.91 L471.05,782.38 L472.15,782.84 L473.25,783.29 L474.35,783.75 L475.45,784.20 L476.55,784.66 L477.65,785.12 L478.75,785.58 L479.84,786.05 L480.93,786.52 L482.01,787.00 L483.09,787.49 L484.17,787.98 L485.24,788.49 L486.30,789.01 L487.36,789.54 L488.41,790.08 L489.45,790.63 L490.49,791.19 L491.52,791.76 L492.54,792.34 L493.57,792.94 L494.58,793.54 L495.59,794.15 L496.59,794.78 L497.59,795.41 L498.58,796.06 L499.57,796.71 L500.55,797.38 L501.52,798.06 L502.50,798.74 L503.46,799.43 L504.42,800.13 L505.38,800.84 L506.34,801.56 L507.29,802.28 L508.24,803.01 L509.18,803.74 L510.12,804.48 L511.06,805.22 L512.00,805.97 L512.93,806.72 L513.87,807.47 L514.80,808.23 L515.73,808.99 L516.67,809.74 L517.60,810.50 L518.53,811.26 L519.46,812.02 L520.39,812.77 L521.32,813.53 L522.26,814.28 L523.19,815.03 L524.13,815.78 L525.06,816.52 L526.00,817.26 L526.95,817.99 L527.89,818.72 L528.84,819.45 L529.79,820.16 L530.75,820.87 L531.71,821.57 L532.67,822.27 L533.64,822.95 L534.61,823.63 L535.59,824.29 L536.57,824.95 L537.56,825.59 L538.55,826.23 L539.55,826.85 L540.56,827.46 L541.57,828.05 L542.59,828.64 L543.62,829.20 L544.65,829.76 L545.69,830.30 L546.74,830.82 L547.80,831.33 L548.87,831.82 L549.95,832.29 L551.03,832.75 L552.13,833.18 L553.23,833.60 L554.35,834.00 L555.47,834.38 L556.61,834.74 L557.75,835.08 L558.91,835.40 L560.07,835.71 L561.24,836.00 L562.41,836.29 L563.58,836.57 L564.76,836.85 L565.94,837.12 L567.12,837.39 L568.29,837.67 L569.47,837.96 L570.64,838.25 L571.80,838.54 L572.96,838.85 L574.12,839.16 L575.27,839.48 L576.42,839.81 L577.57,840.15 L578.71,840.49 L579.85,840.83 L580.99,841.18 L582.12,841.54 L583.25,841.90 L584.38,842.27 L585.51,842.64 L586.63,843.02 L587.76,843.40 L588.88,843.79 L589.99,844.18 L591.11,844.57 L592.23,844.97 L593.34,845.37 L594.45,845.77 L595.56,846.18 L596.68,846.59 L597.79,847.00 L598.90,847.41 L600.00,847.82 L601.11,848.24 L602.22,848.66 L603.33,849.07 L604.44,849.49 L605.55,849.91 L606.66,850.33 L607.77,850.75 L608.88,851.18 L609.99,851.60 L611.10,852.03 L612.21,852.45 L613.31,852.88 L614.42,853.31 L615.53,853.74 L616.64,854.17 L617.75,854.61 L618.85,855.04 L619.96,855.48 L621.06,855.92 L622.17,856.37 L623.27,856.81 L624.37,857.26 L625.48,857.71 L626.58,858.16 L627.68,858.62 L628.78,859.08 L629.87,859.54 L630.97,860.00 L632.06,860.47 L633.16,860.94 L634.25,861.42 L635.34,861.89 L636.43,862.37 L637.52,862.86 L638.60,863.35 L639.69,863.84 L640.77,864.33 L641.85,864.83 L642.93,865.33 L644.01,865.83 L645.09,866.33 L646.17,866.84 L647.25,867.34 L648.33,867.85 L649.41,868.35 L650.49,868.85 L651.56,869.36 L652.64,869.86 L653.72,870.36 L654.80,870.86 L655.88,871.36 L656.96,871.86 L658.04,872.35 L659.13,872.84 L660.21,873.32 L661.30,873.81 L662.39,874.29 L663.48,874.76 L664.57,875.23 L665.66,875.69 L666.76,876.15 L667.86,876.60 L668.96,877.05 L670.06,877.49 L671.17,877.92 L672.28,878.35 L673.39,878.77 L674.50,879.18 L675.62,879.59 L676.74,879.99 L677.86,880.39 L678.98,880.78 L680.11,881.17 L681.23,881.56 L682.36,881.95 L683.48,882.33 L684.61,882.72 L685.74,883.10 L686.86,883.48 L687.99,883.87 L689.11,884.26 L690.24,884.65 L691.36,885.04 L692.49,885.43 L693.61,885.83 L694.73,886.23 L695.85,886.63 L696.97,887.03 L698.09,887.44 L699.20,887.84 L700.32,888.25 L701.44,888.66 L702.55,889.07 L703.67,889.49 L704.78,889.90 L705.90,890.32 L707.01,890.73 L708.13,891.15 L709.24,891.57 L710.35,891.99 L711.47,892.40 L712.58,892.82 L713.69,893.24 L714.81,893.66 L715.92,894.08 L717.03,894.50 L718.15,894.92 L719.26,895.34 L720.37,895.76 L721.49,896.17 L722.60,896.59 L723.71,897.01 L724.83,897.42 L725.94,897.84 L727.06,898.25 L728.17,898.66 L729.29,899.07 L730.41,899.48 L731.52,899.89 L732.64,900.29 L733.76,900.70 L734.88,901.10 L736.00,901.50 L737.12,901.90 L738.24,902.29 L739.37,902.68 L740.49,903.07 L741.62,903.46 L742.74,903.84 L743.87,904.23 L745.00,904.60" fill="none" stroke="#2EF51A" stroke-width="4.0" stroke-linejoin="round" stroke-linecap="round"/>
<path d="M334.50,668.20 L330.95,681.86 L322.22,675.17 Z" fill="#000"/>
<line x1="296.00" y1="718.40" x2="328.17" y2="676.45" stroke="#000" stroke-width="2.5" stroke-linecap="butt"/>
<path d="M438.30,703.20 L449.10,694.11 L452.34,704.62 Z" fill="#000"/>
<line x1="502.50" y1="683.40" x2="448.24" y2="700.13" stroke="#000" stroke-width="2.5" stroke-linecap="butt"/>
<path d="M562.30,792.40 L573.15,783.37 L576.34,793.90 Z" fill="#000"/>
<line x1="627.80" y1="772.60" x2="572.26" y2="789.39" stroke="#000" stroke-width="2.5" stroke-linecap="butt"/>
<text x="8.69" y="591.50" font-size="47.00" font-weight="normal" textLength="23.08" lengthAdjust="spacingAndGlyphs" fill="#C80014" stroke="#C80014" stroke-width="1.3">c</text>
<text x="36.07" y="591.50" font-size="47.00" font-weight="normal" textLength="15.95" lengthAdjust="spacingAndGlyphs" fill="#C80014" stroke="#C80014" stroke-width="1.3">)</text>
<path d="M1041.50,550.76 L1042.72,551.06 L1043.93,551.38 L1045.12,551.74 L1046.30,552.12 L1047.47,552.53 L1048.63,552.97 L1049.77,553.42 L1050.91,553.91 L1052.03,554.41 L1053.14,554.94 L1054.25,555.49 L1055.34,556.06 L1056.42,556.65 L1057.50,557.26 L1058.56,557.89 L1059.62,558.54 L1060.67,559.20 L1061.71,559.88 L1062.75,560.58 L1063.77,561.29 L1064.79,562.01 L1065.81,562.75 L1066.81,563.50 L1067.81,564.27 L1068.81,565.04 L1069.80,565.83 L1070.78,566.63 L1071.76,567.43 L1072.74,568.25 L1073.71,569.07 L1074.67,569.90 L1075.64,570.73 L1076.60,571.57 L1077.56,572.42 L1078.51,573.27 L1079.47,574.12 L1080.42,574.98 L1081.37,575.84 L1082.31,576.70 L1083.26,577.56 L1084.21,578.42 L1085.15,579.28 L1086.10,580.14 L1087.05,580.99 L1087.99,581.85 L1088.93,582.71 L1089.88,583.57 L1090.82,584.43 L1091.76,585.29 L1092.70,586.15 L1093.64,587.00 L1094.59,587.86 L1095.53,588.72 L1096.47,589.58 L1097.40,590.43 L1098.34,591.29 L1099.28,592.14 L1100.22,593.00 L1101.16,593.86 L1102.10,594.71 L1103.04,595.57 L1103.97,596.42 L1104.91,597.28 L1105.85,598.13 L1106.78,598.98 L1107.72,599.84 L1108.66,600.69 L1109.59,601.54 L1110.53,602.39 L1111.47,603.24 L1112.40,604.10 L1113.34,604.95 L1114.28,605.80 L1115.21,606.65 L1116.15,607.50 L1117.08,608.35 L1118.02,609.19 L1118.96,610.04 L1119.89,610.89 L1120.83,611.74 L1121.77,612.58 L1122.70,613.43 L1123.64,614.27 L1124.58,615.12 L1125.52,615.96 L1126.46,616.81 L1127.39,617.65 L1128.33,618.49 L1129.27,619.33 L1130.21,620.18 L1131.15,621.02 L1132.09,621.86 L1133.03,622.70 L1133.97,623.53 L1134.91,624.37 L1135.85,625.21 L1136.80,626.05 L1137.74,626.88 L1138.68,627.72 L1139.63,628.55 L1140.57,629.39 L1141.52,630.22 L1142.46,631.05 L1143.41,631.89 L1144.35,632.72 L1145.30,633.55 L1146.25,634.38 L1147.20,635.21 L1148.15,636.03 L1149.10,636.86 L1150.05,637.69 L1151.00,638.51 L1151.95,639.34 L1152.91,640.16 L1153.86,640.99 L1154.82,641.81 L1155.77,642.63 L1156.73,643.45 L1157.69,644.27 L1158.65,645.09 L1159.61,645.91 L1160.57,646.72 L1161.53,647.54 L1162.49,648.35 L1163.46,649.17 L1164.42,649.98 L1165.39,650.79 L1166.36,651.60 L1167.33,652.41 L1168.30,653.22 L1169.27,654.03 L1170.24,654.84 L1171.21,655.65 L1172.18,656.45 L1173.16,657.26 L1174.14,658.06 L1175.11,658.86 L1176.09,659.67 L1177.07,660.47 L1178.05,661.27 L1179.03,662.07 L1180.01,662.87 L1180.99,663.67 L1181.97,664.47 L1182.95,665.27 L1183.94,666.06 L1184.92,666.86 L1185.91,667.66 L1186.89,668.45 L1187.88,669.25 L1188.87,670.04 L1189.85,670.84 L1190.84,671.63 L1191.83,672.43 L1192.82,673.22 L1193.80,674.01 L1194.79,674.81 L1195.78,675.60 L1196.77,676.39 L1197.76,677.18 L1198.75,677.97 L1199.74,678.77 L1200.73,679.56 L1201.72,680.35 L1202.71,681.14 L1203.70,681.93 L1204.69,682.72 L1205.69,683.51 L1206.68,684.31 L1207.67,685.10 L1208.66,685.89 L1209.65,686.68 L1210.64,687.47 L1211.63,688.26 L1212.62,689.05 L1213.61,689.85 L1214.60,690.64 L1215.59,691.43 L1216.58,692.22 L1217.57,693.01 L1218.56,693.81 L1219.54,694.60 L1220.53,695.39 L1221.52,696.19 L1222.51,696.98 L1223.49,697.78 L1224.48,698.57 L1225.46,699.37 L1226.45,700.17 L1227.43,700.96 L1228.42,701.76 L1229.40,702.56 L1230.38,703.36 L1231.36,704.15 L1232.35,704.95 L1233.33,705.75 L1234.31,706.55 L1235.29,707.35 L1236.27,708.14 L1237.25,708.94 L1238.24,709.73 L1239.22,710.53 L1240.21,711.32 L1241.20,712.10 L1242.19,712.89 L1243.18,713.67 L1244.17,714.45 L1245.17,715.22 L1246.17,715.99 L1247.17,716.76 L1248.17,717.52 L1249.18,718.28 L1250.19,719.03 L1251.20,719.78 L1252.22,720.52 L1253.25,721.25 L1254.27,721.98 L1255.31,722.71 L1256.34,723.42 L1257.38,724.13 L1258.43,724.83 L1259.48,725.52 L1260.54,726.21 L1261.61,726.88 L1262.67,727.55 L1263.75,728.21 L1264.83,728.87 L1265.91,729.52 L1267.00,730.16 L1268.09,730.80 L1269.18,731.44 L1270.28,732.07 L1271.37,732.70 L1272.47,733.33 L1273.57,733.95 L1274.67,734.58 L1275.77,735.20 L1276.87,735.83 L1277.97,736.45 L1279.07,737.08 L1280.16,737.71 L1281.26,738.34 L1282.35,738.98 L1283.44,739.62 L1284.52,740.27 L1285.60,740.92 L1286.68,741.58 L1287.75,742.24 L1288.81,742.91 L1289.87,743.59 L1290.93,744.28 L1291.97,744.98 L1293.01,745.68 L1294.05,746.40 L1295.08,747.12 L1296.10,747.86 L1297.11,748.60 L1298.12,749.35 L1299.12,750.11 L1300.12,750.87 L1301.11,751.65 L1302.10,752.43 L1303.07,753.23 L1304.05,754.03 L1305.01,754.84 L1305.97,755.65 L1306.93,756.48 L1307.87,757.31 L1308.82,758.15 L1309.75,759.00 L1310.69,759.85 L1311.62,760.71 L1312.54,761.57 L1313.46,762.44 L1314.37,763.32 L1315.29,764.20 L1316.20,765.09 L1317.10,765.97 L1318.00,766.87 L1318.90,767.76 L1319.80,768.66 L1320.70,769.56 L1321.59,770.47 L1322.48,771.37 L1323.37,772.28 L1324.26,773.19 L1325.15,774.09 L1326.04,775.00 L1326.93,775.91 L1327.82,776.82 L1328.71,777.73 L1329.60,778.63 L1330.48,779.54 L1331.37,780.44 L1332.26,781.35 L1333.15,782.25 L1334.04,783.15 L1334.93,784.06 L1335.82,784.96 L1336.71,785.86 L1337.59,786.76 L1338.48,787.67 L1339.36,788.57 L1340.25,789.47 L1341.13,790.38 L1342.01,791.28 L1342.89,792.19 L1343.77,793.10 L1344.64,794.01 L1345.52,794.92 L1346.39,795.83 L1347.26,796.74 L1348.12,797.65 L1348.99,798.57 L1349.85,799.49 L1350.70,800.41 L1351.56,801.33 L1352.41,802.26 L1353.26,803.19 L1354.11,804.11 L1354.96,805.04 L1355.80,805.97 L1356.65,806.90 L1357.49,807.83 L1358.34,808.77 L1359.18,809.70 L1360.02,810.63 L1360.87,811.56 L1361.71,812.49 L1362.56,813.41 L1363.41,814.34 L1364.26,815.26 L1365.11,816.19 L1365.97,817.11 L1366.82,818.03 L1367.68,818.94 L1368.55,819.85 L1369.41,820.76 L1370.28,821.67 L1371.16,822.58 L1372.03,823.48 L1372.91,824.38 L1373.79,825.28 L1374.67,826.18 L1375.55,827.08 L1376.44,827.97 L1377.33,828.87 L1378.22,829.76 L1379.11,830.65 L1380.00,831.55 L1380.89,832.44 L1381.79,833.33 L1382.68,834.22 L1383.58,835.11 L1384.48,836.00 L1385.38,836.88 L1386.28,837.77 L1387.19,838.66 L1388.09,839.54 L1389.00,840.43 L1389.91,841.31 L1390.82,842.19 L1391.73,843.07 L1392.64,843.95 L1393.56,844.82 L1394.47,845.70 L1395.39,846.57 L1396.31,847.44 L1397.23,848.31 L1398.16,849.18 L1399.08,850.05 L1400.01,850.91 L1400.94,851.77 L1401.87,852.63 L1402.81,853.49 L1403.74,854.35 L1404.68,855.20 L1405.62,856.05 L1406.57,856.90 L1407.51,857.75 L1408.46,858.59 L1409.41,859.43 L1410.36,860.27 L1411.31,861.10 L1412.27,861.93 L1413.23,862.76 L1414.19,863.59 L1415.15,864.41 L1416.12,865.23 L1417.09,866.05 L1418.06,866.86 L1419.03,867.67 L1420.01,868.48 L1420.99,869.28 L1421.97,870.08 L1422.95,870.88 L1423.94,871.67 L1424.93,872.46 L1425.92,873.24 L1426.92,874.02 L1427.92,874.80 L1428.92,875.57 L1429.92,876.34 L1430.93,877.11 L1431.94,877.87 L1432.95,878.62 L1433.97,879.37 L1434.99,880.12 L1436.01,880.86 L1437.03,881.60 L1438.06,882.34 L1439.09,883.06 L1440.13,883.79 L1441.16,884.51 L1442.21,885.22 L1443.25,885.93 L1444.30,886.63 L1445.35,887.33 L1446.40,888.03 L1447.46,888.71 L1448.52,889.40 L1449.59,890.07 L1450.66,890.75 L1451.73,891.41 L1452.80,892.07 L1453.88,892.73 L1454.96,893.38 L1456.05,894.02 L1457.14,894.66 L1458.23,895.30 L1459.33,895.93 L1460.42,896.55 L1461.53,897.17 L1462.63,897.79 L1463.74,898.40 L1464.85,899.00 L1465.96,899.60 L1467.07,900.20 L1468.19,900.79 L1469.31,901.38 L1470.43,901.97 L1471.56,902.55 L1472.69,903.13 L1473.81,903.70 L1474.94,904.27 L1476.08,904.84 L1477.21,905.41 L1478.35,905.97 L1479.49,906.52 L1480.63,907.08 L1481.77,907.63 L1482.91,908.18 L1484.05,908.73 L1485.20,909.28 L1486.35,909.82 L1487.49,910.36 L1488.64,910.90 L1489.79,911.43 L1490.94,911.97 L1492.09,912.50 L1493.25,913.03 L1494.40,913.56 L1495.56,914.08 L1496.71,914.61 L1497.87,915.13 L1499.03,915.64 L1500.19,916.16 L1501.35,916.67 L1502.51,917.18 L1503.67,917.69 L1504.83,918.19 L1506.00,918.70 L1507.17,919.19 L1508.33,919.69 L1509.50,920.18 L1510.67,920.67 L1511.84,921.16 L1513.01,921.64 L1514.18,922.12 L1515.36,922.60 L1516.53,923.07 L1517.71,923.54 L1518.89,924.01 L1520.06,924.47 L1521.24,924.93 L1522.42,925.38 L1523.61,925.83 L1524.79,926.28 L1525.97,926.73 L1527.16,927.17 L1528.35,927.60 L1529.53,928.03 L1530.72,928.46 L1531.91,928.89 L1533.10,929.31 L1534.30,929.72 L1535.49,930.13 L1536.69,930.54 L1537.88,930.94 L1539.08,931.34 L1540.28,931.74 L1541.48,932.13 L1542.68,932.51 L1543.88,932.89 L1545.09,933.27 L1546.29,933.64 L1547.50,934.00 L1548.71,934.36 L1549.91,934.72 L1551.12,935.07 L1552.34,935.42 L1553.55,935.76 L1554.76,936.09 L1555.98,936.42 L1557.19,936.75 L1558.41,937.07 L1559.63,937.38 L1560.85,937.69 L1562.07,938.00 L1563.30,938.29 L1564.52,938.59 L1565.75,938.87 L1566.98,939.15 L1568.20,939.43 L1569.43,939.70 L1570.66,939.96 L1571.90,940.22 L1573.13,940.47 L1574.37,940.72 L1575.60,940.96 L1576.84,941.19 L1578.08,941.42 L1579.32,941.64 L1580.56,941.85 L1581.81,942.06 L1583.05,942.26 L1584.30,942.46 L1585.55,942.65 L1586.80,942.83 L1588.05,943.01 L1589.30,943.17 L1590.55,943.34 L1591.81,943.49 L1593.07,943.64 L1594.32,943.78 L1595.58,943.92 L1596.84,944.04 L1598.11,944.16 L1599.37,944.28 L1600.63,944.38 L1601.90,944.49 L1603.17,944.58 L1604.44,944.67 L1605.71,944.76 L1606.98,944.84 L1608.25,944.91 L1609.52,944.98 L1610.79,945.05 L1612.06,945.11 L1613.34,945.16 L1614.61,945.22 L1615.88,945.27 L1617.16,945.32 L1618.43,945.36 L1619.71,945.40 L1620.99,945.44 L1622.26,945.48 L1623.54,945.52 L1624.81,945.55 L1626.09,945.58 L1627.36,945.61 L1628.64,945.64 L1629.91,945.67 L1631.18,945.70 L1632.46,945.73 L1633.73,945.76 L1635.00,945.79 L1636.27,945.82 L1637.55,945.85 L1638.82,945.89 L1640.08,945.92 L1641.35,945.96 L1642.62,945.99 L1643.88,946.03 L1645.15,946.07 L1646.41,946.12 L1647.67,946.16 L1648.93,946.21 L1650.19,946.27 L1651.45,946.32 L1652.71,946.38 L1653.96,946.45 L1655.21,946.52 L1656.46,946.59 L1657.71,946.67 L1658.96,946.75 L1660.20,946.84 L1661.45,946.94 L1662.69,947.04" fill="none" stroke="#2EF51A" stroke-width="3.6" stroke-linejoin="round" stroke-linecap="round"/>
<path d="M1480.63,907.08 L1481.77,907.63 L1482.91,908.18 L1484.05,908.73 L1485.20,909.28 L1486.35,909.82 L1487.49,910.36 L1488.64,910.90 L1489.79,911.43 L1490.94,911.97 L1492.09,912.50 L1493.25,913.03 L1494.40,913.56 L1495.56,914.08 L1496.71,914.61 L1497.87,915.13 L1499.03,915.64 L1500.19,916.16 L1501.35,916.67 L1502.51,917.18 L1503.67,917.69 L1504.83,918.19 L1506.00,918.70 L1507.17,919.19 L1508.33,919.69 L1509.50,920.18 L1510.67,920.67 L1511.84,921.16 L1513.01,921.64 L1514.18,922.12 L1515.36,922.60 L1516.53,923.07 L1517.71,923.54 L1518.89,924.01 L1520.06,924.47 L1521.24,924.93 L1522.42,925.38 L1523.61,925.83 L1524.79,926.28 L1525.97,926.73 L1527.16,927.17 L1528.35,927.60 L1529.53,928.03 L1530.72,928.46 L1531.91,928.89 L1533.10,929.31 L1534.30,929.72 L1535.49,930.13 L1536.69,930.54 L1537.88,930.94 L1539.08,931.34 L1540.28,931.74 L1541.48,932.13 L1542.68,932.51 L1543.88,932.89 L1545.09,933.27 L1546.29,933.64 L1547.50,934.00 L1548.71,934.36 L1549.91,934.72 L1551.12,935.07 L1552.34,935.42 L1553.55,935.76 L1554.76,936.09 L1555.98,936.42 L1557.19,936.75 L1558.41,937.07 L1559.63,937.38 L1560.85,937.69 L1562.07,938.00 L1563.30,938.29 L1564.52,938.59 L1565.75,938.87 L1566.98,939.15 L1568.20,939.43 L1569.43,939.70 L1570.66,939.96 L1571.90,940.22 L1573.13,940.47 L1574.37,940.72 L1575.60,940.96 L1576.84,941.19 L1578.08,941.42 L1579.32,941.64 L1580.56,941.85 L1581.81,942.06 L1583.05,942.26 L1584.30,942.46 L1585.55,942.65 L1586.80,942.83 L1588.05,943.01 L1589.30,943.17 L1590.55,943.34 L1591.81,943.49 L1593.07,943.64 L1594.32,943.78 L1595.58,943.92 L1596.84,944.04 L1598.11,944.16 L1599.37,944.28 L1600.63,944.38 L1601.90,944.49 L1603.17,944.58 L1604.44,944.67 L1605.71,944.76 L1606.98,944.84 L1608.25,944.91 L1609.52,944.98 L1610.79,945.05 L1612.06,945.11 L1613.34,945.16 L1614.61,945.22 L1615.88,945.27 L1617.16,945.32 L1618.43,945.36 L1619.71,945.40 L1620.99,945.44 L1622.26,945.48 L1623.54,945.52 L1624.81,945.55 L1626.09,945.58 L1627.36,945.61 L1628.64,945.64 L1629.91,945.67 L1631.18,945.70 L1632.46,945.73 L1633.73,945.76 L1635.00,945.79 L1636.27,945.82 L1637.55,945.85 L1638.82,945.89 L1640.08,945.92 L1641.35,945.96 L1642.62,945.99 L1643.88,946.03 L1645.15,946.07 L1646.41,946.12 L1647.67,946.16 L1648.93,946.21 L1650.19,946.27 L1651.45,946.32 L1652.71,946.38 L1653.96,946.45 L1655.21,946.52 L1656.46,946.59 L1657.71,946.67 L1658.96,946.75 L1660.20,946.84 L1661.45,946.94 L1662.69,947.04" fill="none" stroke="#2EF51A" stroke-width="5.0" stroke-linejoin="round" stroke-linecap="round"/>
<path d="M1560.85,937.69 L1562.07,938.00 L1563.30,938.29 L1564.52,938.59 L1565.75,938.87 L1566.98,939.15 L1568.20,939.43 L1569.43,939.70 L1570.66,939.96 L1571.90,940.22 L1573.13,940.47 L1574.37,940.72 L1575.60,940.96 L1576.84,941.19 L1578.08,941.42 L1579.32,941.64 L1580.56,941.85 L1581.81,942.06 L1583.05,942.26 L1584.30,942.46 L1585.55,942.65 L1586.80,942.83 L1588.05,943.01 L1589.30,943.17 L1590.55,943.34 L1591.81,943.49 L1593.07,943.64 L1594.32,943.78 L1595.58,943.92 L1596.84,944.04 L1598.11,944.16 L1599.37,944.28 L1600.63,944.38 L1601.90,944.49 L1603.17,944.58 L1604.44,944.67 L1605.71,944.76 L1606.98,944.84 L1608.25,944.91 L1609.52,944.98 L1610.79,945.05 L1612.06,945.11 L1613.34,945.16 L1614.61,945.22 L1615.88,945.27 L1617.16,945.32 L1618.43,945.36 L1619.71,945.40 L1620.99,945.44 L1622.26,945.48 L1623.54,945.52 L1624.81,945.55 L1626.09,945.58 L1627.36,945.61 L1628.64,945.64 L1629.91,945.67 L1631.18,945.70 L1632.46,945.73 L1633.73,945.76 L1635.00,945.79 L1636.27,945.82 L1637.55,945.85 L1638.82,945.89 L1640.08,945.92 L1641.35,945.96 L1642.62,945.99 L1643.88,946.03 L1645.15,946.07 L1646.41,946.12 L1647.67,946.16 L1648.93,946.21 L1650.19,946.27 L1651.45,946.32 L1652.71,946.38 L1653.96,946.45 L1655.21,946.52 L1656.46,946.59 L1657.71,946.67 L1658.96,946.75 L1660.20,946.84 L1661.45,946.94 L1662.69,947.04" fill="none" stroke="#2EF51A" stroke-width="5.8" stroke-linejoin="round" stroke-linecap="round"/>
<rect x="1040.6" y="548.3" width="622.9000000000001" height="430.70000000000005" fill="none" stroke="#000" stroke-width="3.6" stroke-linejoin="round"/>
<line x1="1033.80" y1="548.30" x2="1040.60" y2="548.30" stroke="#000" stroke-width="2.4" stroke-linecap="butt"/>
<text x="957.66" y="555.30" font-size="19.62" font-weight="bold" textLength="62.13" lengthAdjust="spacingAndGlyphs">1E+09</text>
<line x1="1033.80" y1="620.08" x2="1040.60" y2="620.08" stroke="#000" stroke-width="2.4" stroke-linecap="butt"/>
<text x="919.58" y="627.08" font-size="19.62" font-weight="bold" textLength="100.35" lengthAdjust="spacingAndGlyphs">10000000</text>
<line x1="1033.80" y1="691.86" x2="1040.60" y2="691.86" stroke="#000" stroke-width="2.4" stroke-linecap="butt"/>
<text x="943.97" y="698.86" font-size="19.62" font-weight="bold" textLength="75.97" lengthAdjust="spacingAndGlyphs">100000</text>
<line x1="1033.80" y1="763.64" x2="1040.60" y2="763.64" stroke="#000" stroke-width="2.4" stroke-linecap="butt"/>
<text x="969.57" y="770.64" font-size="19.62" font-weight="bold" textLength="50.35" lengthAdjust="spacingAndGlyphs">1000</text>
<line x1="1033.80" y1="835.42" x2="1040.60" y2="835.42" stroke="#000" stroke-width="2.4" stroke-linecap="butt"/>
<text x="994.56" y="842.42" font-size="19.62" font-weight="bold" textLength="25.37" lengthAdjust="spacingAndGlyphs">10</text>
<line x1="1033.80" y1="907.20" x2="1040.60" y2="907.20" stroke="#000" stroke-width="2.4" stroke-linecap="butt"/>
<text x="987.07" y="914.20" font-size="19.62" font-weight="bold" textLength="32.58" lengthAdjust="spacingAndGlyphs">0.1</text>
<line x1="1033.80" y1="978.98" x2="1040.60" y2="978.98" stroke="#000" stroke-width="2.4" stroke-linecap="butt"/>
<text x="961.28" y="985.98" font-size="19.62" font-weight="bold" textLength="58.37" lengthAdjust="spacingAndGlyphs">0.001</text>
<line x1="1040.60" y1="979.00" x2="1040.60" y2="985.00" stroke="#000" stroke-width="2.4" stroke-linecap="butt"/>
<line x1="1134.34" y1="979.00" x2="1134.34" y2="983.00" stroke="#000" stroke-width="2.4" stroke-linecap="butt"/>
<line x1="1189.18" y1="979.00" x2="1189.18" y2="983.00" stroke="#000" stroke-width="2.4" stroke-linecap="butt"/>
<line x1="1228.08" y1="979.00" x2="1228.08" y2="983.00" stroke="#000" stroke-width="2.4" stroke-linecap="butt"/>
<line x1="1258.26" y1="979.00" x2="1258.26" y2="983.00" stroke="#000" stroke-width="2.4" stroke-linecap="butt"/>
<line x1="1282.92" y1="979.00" x2="1282.92" y2="983.00" stroke="#000" stroke-width="2.4" stroke-linecap="butt"/>
<line x1="1303.76" y1="979.00" x2="1303.76" y2="983.00" stroke="#000" stroke-width="2.4" stroke-linecap="butt"/>
<line x1="1321.82" y1="979.00" x2="1321.82" y2="983.00" stroke="#000" stroke-width="2.4" stroke-linecap="butt"/>
<line x1="1337.75" y1="979.00" x2="1337.75" y2="983.00" stroke="#000" stroke-width="2.4" stroke-linecap="butt"/>
<line x1="1352.00" y1="979.00" x2="1352.00" y2="985.00" stroke="#000" stroke-width="2.4" stroke-linecap="butt"/>
<line x1="1445.74" y1="979.00" x2="1445.74" y2="983.00" stroke="#000" stroke-width="2.4" stroke-linecap="butt"/>
<line x1="1500.58" y1="979.00" x2="1500.58" y2="983.00" stroke="#000" stroke-width="2.4" stroke-linecap="butt"/>
<line x1="1539.48" y1="979.00" x2="1539.48" y2="983.00" stroke="#000" stroke-width="2.4" stroke-linecap="butt"/>
<line x1="1569.66" y1="979.00" x2="1569.66" y2="983.00" stroke="#000" stroke-width="2.4" stroke-linecap="butt"/>
<line x1="1594.32" y1="979.00" x2="1594.32" y2="983.00" stroke="#000" stroke-width="2.4" stroke-linecap="butt"/>
<line x1="1615.16" y1="979.00" x2="1615.16" y2="983.00" stroke="#000" stroke-width="2.4" stroke-linecap="butt"/>
<line x1="1633.22" y1="979.00" x2="1633.22" y2="983.00" stroke="#000" stroke-width="2.4" stroke-linecap="butt"/>
<line x1="1649.15" y1="979.00" x2="1649.15" y2="983.00" stroke="#000" stroke-width="2.4" stroke-linecap="butt"/>
<line x1="1663.40" y1="979.00" x2="1663.40" y2="985.00" stroke="#000" stroke-width="2.4" stroke-linecap="butt"/>
<text x="1010.96" y="1013.50" font-size="19.62" font-weight="bold" textLength="59.19" lengthAdjust="spacingAndGlyphs">0.003</text>
<text x="1329.07" y="1013.50" font-size="19.62" font-weight="bold" textLength="45.78" lengthAdjust="spacingAndGlyphs">0.03</text>
<text x="1646.65" y="1013.50" font-size="19.62" font-weight="bold" textLength="33.42" lengthAdjust="spacingAndGlyphs">0.3</text>
<text x="1317.56" y="1035.50" font-size="20.35" font-weight="bold" textLength="44.54" lengthAdjust="spacingAndGlyphs">q (Å</text>
<text x="1362.49" y="1027.60" font-size="13.08" font-weight="bold" textLength="11.68" lengthAdjust="spacingAndGlyphs">-1</text>
<text x="1377.17" y="1035.50" font-size="20.35" font-weight="bold" textLength="10.27" lengthAdjust="spacingAndGlyphs">)</text>
<g transform="translate(956.5,784.1) rotate(-90)">
<text x="-1.86" y="0.00" font-size="20.35" font-weight="bold" textLength="43.25" lengthAdjust="spacingAndGlyphs">I(q)</text>
<text x="41.03" y="-9.00" font-size="13.08" font-weight="bold" textLength="7.51" lengthAdjust="spacingAndGlyphs">2</text>
</g>
<line x1="1297.60" y1="769.00" x2="1297.60" y2="810.00" stroke="#2EF51A" stroke-width="2.4" stroke-linecap="butt"/>
<path d="M1297.6,760 L1303.4,771 L1291.8,771 Z" fill="#2EF51A"/>
<text x="894.31" y="591.50" font-size="47.00" font-weight="normal" textLength="27.08" lengthAdjust="spacingAndGlyphs" fill="#C80014" stroke="#C80014" stroke-width="1.3">d</text>
<text x="924.81" y="591.50" font-size="47.00" font-weight="normal" textLength="13.69" lengthAdjust="spacingAndGlyphs" fill="#C80014" stroke="#C80014" stroke-width="1.3">)</text>
</svg></body></html>
